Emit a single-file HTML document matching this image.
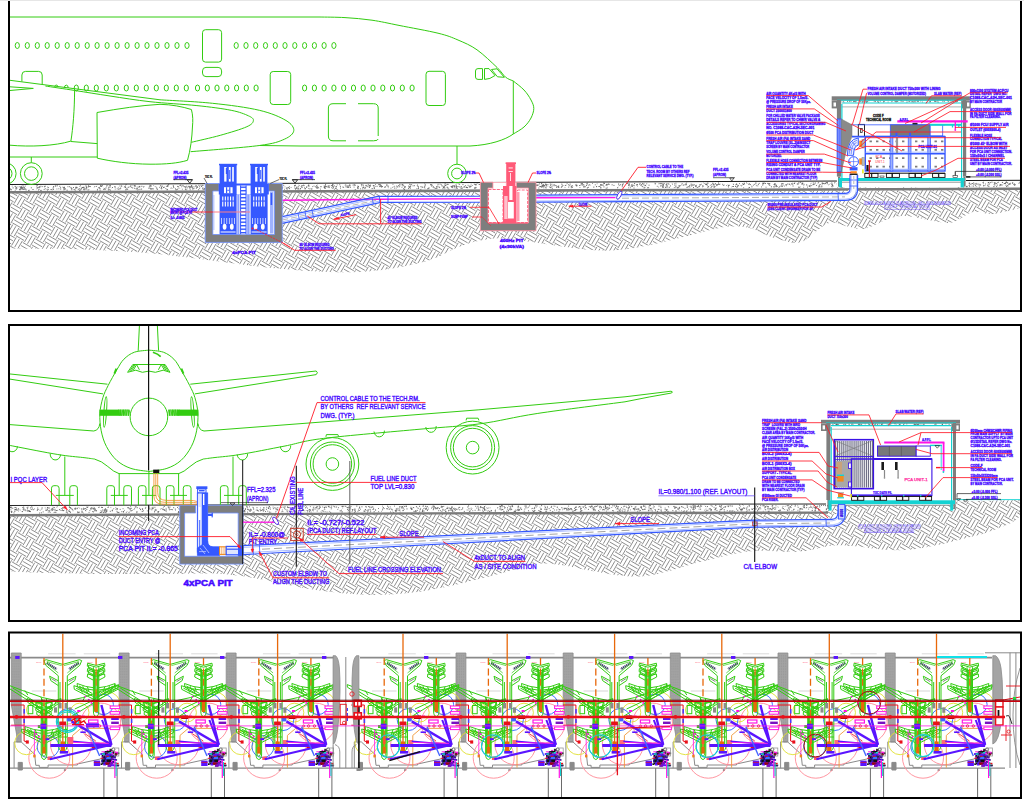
<!DOCTYPE html><html><head><meta charset="utf-8"><title>PCA &amp; 400Hz pit sections</title><style>html,body{margin:0;padding:0;background:#fff;overflow:hidden}svg text{white-space:pre}</style></head><body><svg width="1024" height="801" viewBox="0 0 1024 801" font-family="Liberation Sans, sans-serif" style="display:block"><defs><g id="mod"><line x1="-14.7" y1="653.8" x2="12.8" y2="653.8" stroke="#d6d6d6" stroke-width="0.9" /><line x1="21.0" y1="653.8" x2="47.4" y2="653.8" stroke="#d6d6d6" stroke-width="0.9" /><line x1="-31.0" y1="691.0" x2="-6.5" y2="691.0" stroke="#d0d0d0" stroke-width="0.9" /><circle cx="-13.5" cy="757.7" r="20.5" fill="none" stroke="#ff8a96" stroke-width="0.9" /><circle cx="8.2" cy="744.2" r="20.5" fill="none" stroke="#ff8a96" stroke-width="0.9" /><circle cx="38.0" cy="723.0" r="19.9" fill="none" stroke="#ff8a96" stroke-width="0.9" /><circle cx="-36.4" cy="743.0" r="11.7" fill="none" stroke="#e0e030" stroke-width="0.9" /><circle cx="-28.8" cy="710.0" r="7.5" fill="none" stroke="#e0e030" stroke-width="0.9" /><circle cx="16.8" cy="712.6" r="9.4" fill="none" stroke="#e0e030" stroke-width="0.9" /><circle cx="45.1" cy="704.4" r="12.3" fill="none" stroke="#e0e030" stroke-width="0.9" /><circle cx="5.2" cy="719.6" r="11.0" fill="none" stroke="#3d74ff" stroke-width="1.0" /><circle cx="-14.7" cy="746.6" r="11.0" fill="none" stroke="#3d74ff" stroke-width="1.0" /><circle cx="40.4" cy="704.4" r="10.2" fill="none" stroke="#3d74ff" stroke-width="1.0" /><path d="M0,664.4 L-16.6,659.7 L-18.9,660.6 L-17,665.3 L-4.5,675.8 L-4.5,700 M-13.2,676.2 L-12,680.6 L-4.5,685.6 M-13.2,676.2 L-4.5,680.8 M-2.8,682 V700 " fill="none" stroke="#33cc11" stroke-width="1.0" /><g transform="scale(-1,1)"><path d="M0,664.4 L-16.6,659.7 L-18.9,660.6 L-17,665.3 L-4.5,675.8 L-4.5,700 M-13.2,676.2 L-12,680.6 L-4.5,685.6 M-13.2,676.2 L-4.5,680.8 M-2.8,682 V700 " fill="none" stroke="#33cc11" stroke-width="1.0" /></g><path d="M-16,663 L-6.2,669.2" fill="none" stroke="#3a3f63" stroke-width="2.4" stroke-dasharray="1.3 0.6"/><g transform="scale(-1,1)"><path d="M-16,663 L-6.2,669.2" fill="none" stroke="#3a3f63" stroke-width="2.4" stroke-dasharray="1.3 0.6"/></g><path d="M-1.2,665.6 L-15.8,661.6 L-14.6,664.8 L-4.5,673" fill="none" stroke="#33cc11" stroke-width="0.7" /><g transform="scale(-1,1)"><path d="M-1.2,665.6 L-15.8,661.6 L-14.6,664.8 L-4.5,673" fill="none" stroke="#33cc11" stroke-width="0.7" /></g><path d="M-11.5,678.6 L-6.4,681.6" fill="none" stroke="#888" stroke-width="1.0" /><g transform="scale(-1,1)"><path d="M-11.5,678.6 L-6.4,681.6" fill="none" stroke="#888" stroke-width="1.0" /></g><path d="M-4.5,719 L-26,706 L-55.6,687.2 L-55.8,684.6 L-40,690.6 L-20,697.6 L-4.5,701 M-50,688 L-28,701.5 L-12,709 M-38,690.4 L-35,695 M-22,697 L-19.6,701.6" fill="none" stroke="#33cc11" stroke-width="1.0" /><g transform="scale(-1,1)"><path d="M-4.5,719 L-26,706 L-55.6,687.2 L-55.8,684.6 L-40,690.6 L-20,697.6 L-4.5,701 M-50,688 L-28,701.5 L-12,709 M-38,690.4 L-35,695 M-22,697 L-19.6,701.6" fill="none" stroke="#33cc11" stroke-width="1.0" /></g><path d="M-4.5,700 V744 Q-4.4,751 0,751.6 Q4.4,751 4.5,744 V700 M-2.8,722 V745 M2.8,722 V745 M-4.5,737 H4.5" fill="none" stroke="#33cc11" stroke-width="1.0" /><g transform="translate(33.3,0)"><path d="M0,665.4 L-8.5,663.2 L-8.8,666.2 L-2.7,669.4 M0,670.8 L-8.5,668.6 L-8.8,671.6 L-2.7,674.8 M0,676.2 L-8.5,674.0 L-8.8,677.0 L-2.7,680.2 " fill="none" stroke="#33cc11" stroke-width="1.0" /><g transform="scale(-1,1)"><path d="M0,665.4 L-8.5,663.2 L-8.8,666.2 L-2.7,669.4 M0,670.8 L-8.5,668.6 L-8.8,671.6 L-2.7,674.8 M0,676.2 L-8.5,674.0 L-8.8,677.0 L-2.7,680.2 " fill="none" stroke="#33cc11" stroke-width="1.0" /></g><path d="M-2.7,667.2 V711 Q-2.7,716 0,716.5 Q2.7,716 2.7,711 V667.2 M-1.5000000000000002,671.2 V710 M1.5000000000000002,671.2 V710" fill="none" stroke="#33cc11" stroke-width="1.0" /><path d="M-2.7,699.2 L-21.8,689.3 L-22.2,685.7 L-12.2,688.6 L-2.7,690.0 M-20.0,688.2 L-4.7,695.6 M-15.5,688.4 L-13.8,692.6 M-10.0,689.2 L-8.4,693.6" fill="none" stroke="#33cc11" stroke-width="1.0" /><g transform="scale(-1,1)"><path d="M-2.7,699.2 L-21.8,689.3 L-22.2,685.7 L-12.2,688.6 L-2.7,690.0 M-20.0,688.2 L-4.7,695.6 M-15.5,688.4 L-13.8,692.6 M-10.0,689.2 L-8.4,693.6" fill="none" stroke="#33cc11" stroke-width="1.0" /></g></g><g transform="translate(33.3,0)"><path d="M0,667.2 L-7.4,665.0 L-7.7,668.0 L-2.0,671.2 M0,672.6 L-7.4,670.4 L-7.7,673.4 L-2.0,676.6 " fill="none" stroke="#33cc11" stroke-width="1.0" /><g transform="scale(-1,1)"><path d="M0,667.2 L-7.4,665.0 L-7.7,668.0 L-2.0,671.2 M0,672.6 L-7.4,670.4 L-7.7,673.4 L-2.0,676.6 " fill="none" stroke="#33cc11" stroke-width="1.0" /></g><path d="M-2.0,669 V707 Q-2.0,712 0,712.5 Q2.0,712 2.0,707 V669 M-0.8,673 V706 M0.8,673 V706" fill="none" stroke="#33cc11" stroke-width="1.0" /><path d="M-2.0,697 L-18.6,687.1 L-19.0,683.5 L-10.5,686.4 L-2.0,687.8 M-17.1,686.0 L-4.0,693.4 M-13.3,686.2 L-11.8,690.4 M-8.6,687.0 L-7.2,691.4" fill="none" stroke="#33cc11" stroke-width="1.0" /><g transform="scale(-1,1)"><path d="M-2.0,697 L-18.6,687.1 L-19.0,683.5 L-10.5,686.4 L-2.0,687.8 M-17.1,686.0 L-4.0,693.4 M-13.3,686.2 L-11.8,690.4 M-8.6,687.0 L-7.2,691.4" fill="none" stroke="#33cc11" stroke-width="1.0" /></g></g><g transform="translate(-18.8,0)"><path d="" fill="none" stroke="#33cc11" stroke-width="1.0" /><g transform="scale(-1,1)"><path d="" fill="none" stroke="#33cc11" stroke-width="1.0" /></g><path d="M-2.4,698 V717 Q-2.4,722 0,722.5 Q2.4,722 2.4,717 V698 M-1.2,702 V716 M1.2,702 V716" fill="none" stroke="#33cc11" stroke-width="1.0" /><path d="M-2.4,712 L-16.6,702.1 L-17.0,698.5 L-9.4,701.4 L-2.4,702.8 M-15.3,701.0 L-4.4,708.4 M-11.9,701.2 L-10.5,705.4 M-7.7,702.0 L-6.5,706.4" fill="none" stroke="#33cc11" stroke-width="1.0" /><g transform="scale(-1,1)"><path d="M-2.4,712 L-16.6,702.1 L-17.0,698.5 L-9.4,701.4 L-2.4,702.8 M-15.3,701.0 L-4.4,708.4 M-11.9,701.2 L-10.5,705.4 M-7.7,702.0 L-6.5,706.4" fill="none" stroke="#33cc11" stroke-width="1.0" /></g></g><g transform="translate(-18.8,0)"><path d="M0,708.2 L-7.0,706.0 L-7.3,709.0 L-2.0,712.2 M0,713.6 L-7.0,711.4 L-7.3,714.4 L-2.0,717.6 " fill="none" stroke="#33cc11" stroke-width="1.0" /><g transform="scale(-1,1)"><path d="M0,708.2 L-7.0,706.0 L-7.3,709.0 L-2.0,712.2 M0,713.6 L-7.0,711.4 L-7.3,714.4 L-2.0,717.6 " fill="none" stroke="#33cc11" stroke-width="1.0" /></g><path d="M-2.0,710 V751 Q-2.0,756 0,756.5 Q2.0,756 2.0,751 V710 M-0.8,714 V750 M0.8,714 V750" fill="none" stroke="#33cc11" stroke-width="1.0" /><path d="M-2.0,740 L-18.6,730.1 L-19.0,726.5 L-10.5,729.4 L-2.0,730.8 M-17.1,729.0 L-4.0,736.4 M-13.3,729.2 L-11.8,733.4 M-8.6,730.0 L-7.2,734.4" fill="none" stroke="#33cc11" stroke-width="1.0" /><g transform="scale(-1,1)"><path d="M-2.0,740 L-18.6,730.1 L-19.0,726.5 L-10.5,729.4 L-2.0,730.8 M-17.1,729.0 L-4.0,736.4 M-13.3,729.2 L-11.8,733.4 M-8.6,730.0 L-7.2,734.4" fill="none" stroke="#33cc11" stroke-width="1.0" /></g></g><g transform="translate(-18.8,0)"><path d="M0,704.2 L-8.0,702.0 L-8.3,705.0 L-2.8,708.2 M0,709.6 L-8.0,707.4 L-8.3,710.4 L-2.8,713.6 " fill="none" stroke="#33cc11" stroke-width="1.0" /><g transform="scale(-1,1)"><path d="M0,704.2 L-8.0,702.0 L-8.3,705.0 L-2.8,708.2 M0,709.6 L-8.0,707.4 L-8.3,710.4 L-2.8,713.6 " fill="none" stroke="#33cc11" stroke-width="1.0" /></g><path d="M-2.8,706 V754 Q-2.8,759 0,759.5 Q2.8,759 2.8,754 V706 M-1.5999999999999999,710 V753 M1.5999999999999999,710 V753" fill="none" stroke="#33cc11" stroke-width="1.0" /><path d="M-2.8,742.5 L-22.1,732.6 L-22.5,729.0 L-12.4,731.9 L-2.8,733.3 M-20.2,731.5 L-4.8,738.9 M-15.7,731.7 L-13.9,735.9 M-10.1,732.5 L-8.6,736.9" fill="none" stroke="#33cc11" stroke-width="1.0" /><g transform="scale(-1,1)"><path d="M-2.8,742.5 L-22.1,732.6 L-22.5,729.0 L-12.4,731.9 L-2.8,733.3 M-20.2,731.5 L-4.8,738.9 M-15.7,731.7 L-13.9,735.9 M-10.1,732.5 L-8.6,736.9" fill="none" stroke="#33cc11" stroke-width="1.0" /></g></g><rect x="-34.6" y="705.5" width="4.6" height="8.2" fill="none" stroke="#33cc11" stroke-width="1.0" /><rect x="-25.0" y="725.0" width="2.8" height="3.0" fill="#33cc11" stroke="none" stroke-width="1" /><rect x="-8.8" y="707.3" width="3.0" height="5.3" fill="#8c8c8c" stroke="none" stroke-width="1" /><rect x="-4.2" y="703.0" width="3.0" height="5.4" fill="#8c8c8c" stroke="none" stroke-width="1" /><rect x="1.8" y="703.0" width="3.0" height="5.4" fill="#8c8c8c" stroke="none" stroke-width="1" /><rect x="5.8" y="707.3" width="3.0" height="5.5" fill="#8c8c8c" stroke="none" stroke-width="1" /><line x1="0.0" y1="633.5" x2="0.0" y2="743.0" stroke="#e8680a" stroke-width="1.3" /><rect x="-2.2" y="741.5" width="4.4" height="9.5" fill="#e8680a" stroke="none" stroke-width="1" /><line x1="-18.8" y1="658.0" x2="-18.8" y2="748.0" stroke="#e8680a" stroke-width="1.3" stroke-dasharray="7 3.4"/><rect x="-20.4" y="747.0" width="3.2" height="6.6" fill="#e8680a" stroke="none" stroke-width="1" /><line x1="33.3" y1="658.0" x2="33.3" y2="700.0" stroke="#e8680a" stroke-width="1.3" stroke-dasharray="7 3.4"/><rect x="31.6" y="700.0" width="3.4" height="12.0" fill="#e8680a" stroke="none" stroke-width="1" /><path d="M9.8,767.7 L9.8,735.4 L18.1,728.4 L47.4,728.4" fill="none" stroke="#f0983a" stroke-width="0.9" /><path d="M-51.7,705.0 L-38.7,705.0 L-38.7,741.0 L-35.6,742.0" fill="none" stroke="#e8101a" stroke-width="1.0" /><rect x="-37.0" y="740.4" width="3.0" height="3.2" fill="#e8101a" stroke="none" stroke-width="1" /><line x1="-51.7" y1="725.2" x2="-38.7" y2="725.2" stroke="#e8101a" stroke-width="0.9" /><circle cx="-46.3" cy="716.8" r="1.9" fill="#e8101a" stroke="#e8101a" stroke-width="0" /><rect x="-39.4" y="709.0" width="1.6" height="4.6" fill="#4a3cff" stroke="none" stroke-width="1" /><rect x="-39.4" y="719.0" width="1.6" height="4.0" fill="#4a3cff" stroke="none" stroke-width="1" /><line x1="-28.4" y1="729.6" x2="-28.4" y2="756.0" stroke="#ff14e6" stroke-width="0.8" /><rect x="-29.6" y="754.6" width="2.4" height="2.8" fill="#f08020" stroke="none" stroke-width="1" /><rect x="-17.4" y="738.2" width="4.0" height="2.0" fill="#5a14ff" stroke="none" stroke-width="1" /><rect x="17.6" y="731.4" width="5.4" height="1.6" fill="#5a14ff" stroke="none" stroke-width="1" /><line x1="22.0" y1="733.6" x2="33.0" y2="741.0" stroke="#e8101a" stroke-width="0.8" /><rect x="29.0" y="747.0" width="6.0" height="1.6" fill="#e8101a" stroke="none" stroke-width="1" /><rect x="-15.3" y="756.5" width="4.7" height="3.5" fill="#ff5a6a" stroke="none" stroke-width="1" /><rect x="5.2" y="740.0" width="4.6" height="4.0" fill="#ff6a7a" stroke="none" stroke-width="1" /><circle cx="31.0" cy="726.0" r="1.2" fill="none" stroke="#e8101a" stroke-width="0.8" /><circle cx="36.8" cy="726.0" r="1.2" fill="none" stroke="#e8101a" stroke-width="0.8" /><circle cx="26.0" cy="726.0" r="1.0" fill="none" stroke="#e8101a" stroke-width="0.8" /><rect x="-3.4" y="721.5" width="6.6" height="3.5" fill="#e8101a" stroke="none" stroke-width="1" /><rect x="11.0" y="715.4" width="7.0" height="3.6" fill="#b00008" stroke="none" stroke-width="1" /><rect x="-20.2" y="735.0" width="2.8" height="9.0" fill="#ff5030" stroke="none" stroke-width="1" /><rect x="-22.3" y="723.7" width="5.8" height="5.3" fill="#5a14ff" stroke="none" stroke-width="1" /><rect x="4.0" y="717.9" width="4.8" height="3.5" fill="#4466ff" stroke="none" stroke-width="1" /><line x1="48.6" y1="745.4" x2="-12.4" y2="745.4" stroke="#5a14ff" stroke-width="3.0" /><line x1="48.6" y1="744.8" x2="-12.9" y2="759.2" stroke="#5a14ff" stroke-width="2.2" /><line x1="48.6" y1="744.8" x2="8.8" y2="721.4" stroke="#5a14ff" stroke-width="2.4" /><line x1="48.6" y1="744.8" x2="38.6" y2="705.0" stroke="#5a14ff" stroke-width="2.4" /><line x1="48.6" y1="744.8" x2="39.2" y2="720.0" stroke="#5a14ff" stroke-width="2.0" /><line x1="48.6" y1="744.8" x2="8.8" y2="741.3" stroke="#5a14ff" stroke-width="1.6" /><line x1="10.0" y1="742.4" x2="46.0" y2="743.4" stroke="#ff14e6" stroke-width="0.9" /><line x1="24.0" y1="726.6" x2="36.8" y2="756.0" stroke="#4466ff" stroke-width="1.4" /><rect x="47.4" y="706.0" width="9.4" height="2.6" fill="#fff" stroke="#ff14e6" stroke-width="1.0" /><rect x="47.4" y="711.6" width="9.4" height="2.6" fill="#fff" stroke="#ff14e6" stroke-width="1.0" /><rect x="47.4" y="727.0" width="9.4" height="2.6" fill="#fff" stroke="#ff14e6" stroke-width="1.0" /><rect x="48.4" y="717.4" width="7.6" height="2.6" fill="#5a14ff" stroke="none" stroke-width="1" /><rect x="48.4" y="721.6" width="7.6" height="2.4" fill="#7a10c0" stroke="none" stroke-width="1" /><rect x="25.8" y="720.0" width="9.3" height="3.0" fill="#fff" stroke="#ff14e6" stroke-width="1.2" /><rect x="18.6" y="715.5" width="3.4" height="2.0" fill="#ff14e6" stroke="none" stroke-width="1" /><rect x="14.4" y="710.0" width="3.1" height="2.0" fill="#ff14e6" stroke="none" stroke-width="1" /><circle cx="22.4" cy="696.6" r="0.9" fill="#ff14e6" stroke="#ff14e6" stroke-width="0" /><circle cx="26.0" cy="699.6" r="0.9" fill="#ff14e6" stroke="#ff14e6" stroke-width="0" /><circle cx="28.6" cy="703.0" r="0.9" fill="#ff14e6" stroke="#ff14e6" stroke-width="0" /><circle cx="-26.6" cy="734.0" r="0.9" fill="#ff14e6" stroke="#ff14e6" stroke-width="0" /><circle cx="-24.0" cy="737.0" r="0.9" fill="#ff14e6" stroke="#ff14e6" stroke-width="0" /><rect x="-3.0" y="751.0" width="8.2" height="2.6" fill="#5a14ff" stroke="none" stroke-width="1" /><rect x="31.0" y="760.6" width="6.4" height="5.4" fill="#5a14ff" stroke="none" stroke-width="1" /><line x1="31.0" y1="762.4" x2="37.4" y2="762.4" stroke="#e8101a" stroke-width="0.7" /><rect x="42.3" y="751.2" width="3.5" height="1.1" fill="#111" stroke="none" stroke-width="1" /><rect x="38.8" y="758.2" width="4.3" height="1.4" fill="#5a14ff" stroke="none" stroke-width="1" /><rect x="44.0" y="749.9" width="1.7" height="1.8" fill="#ff14e6" stroke="none" stroke-width="1" /><rect x="46.0" y="764.1" width="3.4" height="2.2" fill="#5a14ff" stroke="none" stroke-width="1" /><rect x="46.2" y="755.2" width="4.5" height="1.1" fill="#ff14e6" stroke="none" stroke-width="1" /><rect x="39.4" y="755.6" width="3.1" height="2.1" fill="#111" stroke="none" stroke-width="1" /><rect x="49.8" y="751.7" width="3.3" height="2.3" fill="#e8101a" stroke="none" stroke-width="1" /><rect x="38.9" y="760.3" width="3.2" height="2.2" fill="#111" stroke="none" stroke-width="1" /><rect x="47.7" y="755.7" width="2.4" height="2.2" fill="#111" stroke="none" stroke-width="1" /><rect x="42.9" y="752.8" width="2.0" height="2.6" fill="#5a14ff" stroke="none" stroke-width="1" /><rect x="46.1" y="757.3" width="4.2" height="2.5" fill="#40108a" stroke="none" stroke-width="1" /><rect x="46.7" y="750.0" width="3.0" height="1.3" fill="#e8101a" stroke="none" stroke-width="1" /><rect x="39.7" y="756.7" width="1.5" height="2.3" fill="#14d2d2" stroke="none" stroke-width="1" /><rect x="45.9" y="761.6" width="4.0" height="1.7" fill="#e8101a" stroke="none" stroke-width="1" /><rect x="46.4" y="758.2" width="2.9" height="2.7" fill="#40108a" stroke="none" stroke-width="1" /><rect x="44.6" y="759.6" width="1.6" height="2.4" fill="#333" stroke="none" stroke-width="1" /><rect x="46.2" y="759.8" width="2.8" height="2.4" fill="#7a10c0" stroke="none" stroke-width="1" /><rect x="47.6" y="749.2" width="2.9" height="1.3" fill="#5a14ff" stroke="none" stroke-width="1" /><rect x="44.9" y="752.3" width="2.3" height="2.5" fill="#a00010" stroke="none" stroke-width="1" /><rect x="43.3" y="762.9" width="1.7" height="1.9" fill="#111" stroke="none" stroke-width="1" /><rect x="41.6" y="751.0" width="2.8" height="2.1" fill="#3d74ff" stroke="none" stroke-width="1" /><rect x="43.7" y="754.6" width="4.2" height="2.9" fill="#2a0a90" stroke="none" stroke-width="1" /><rect x="38.7" y="751.3" width="3.5" height="1.0" fill="#ff14e6" stroke="none" stroke-width="1" /><rect x="46.4" y="753.1" width="1.4" height="1.8" fill="#e8101a" stroke="none" stroke-width="1" /><rect x="46.7" y="754.0" width="1.8" height="2.7" fill="#111" stroke="none" stroke-width="1" /><rect x="47.4" y="760.8" width="2.9" height="2.7" fill="#ff14e6" stroke="none" stroke-width="1" /><rect x="47.7" y="757.9" width="2.7" height="1.8" fill="#111" stroke="none" stroke-width="1" /><rect x="47.0" y="749.8" width="1.6" height="1.4" fill="#2a0a90" stroke="none" stroke-width="1" /><rect x="39.1" y="758.5" width="1.7" height="2.1" fill="#111" stroke="none" stroke-width="1" /><rect x="38.9" y="754.7" width="1.5" height="2.7" fill="#111" stroke="none" stroke-width="1" /><rect x="43.1" y="759.1" width="4.5" height="2.2" fill="#111" stroke="none" stroke-width="1" /><rect x="39.3" y="762.6" width="4.6" height="1.9" fill="#111" stroke="none" stroke-width="1" /><rect x="42.1" y="751.1" width="3.8" height="2.5" fill="#111" stroke="none" stroke-width="1" /><rect x="50.0" y="751.4" width="1.5" height="2.9" fill="#111" stroke="none" stroke-width="1" /><rect x="42.9" y="760.0" width="4.3" height="2.5" fill="#40108a" stroke="none" stroke-width="1" /><rect x="52.3" y="762.8" width="3.6" height="1.5" fill="#e8101a" stroke="none" stroke-width="1" /><rect x="51.2" y="754.6" width="2.1" height="2.1" fill="#111" stroke="none" stroke-width="1" /><rect x="42.4" y="752.4" width="4.0" height="3.0" fill="#ff14e6" stroke="none" stroke-width="1" /><rect x="40.4" y="752.7" width="2.7" height="2.6" fill="#2a0a90" stroke="none" stroke-width="1" /><rect x="45.3" y="754.6" width="1.5" height="1.1" fill="#40108a" stroke="none" stroke-width="1" /><rect x="44.6" y="751.9" width="3.3" height="1.7" fill="#14d2d2" stroke="none" stroke-width="1" /><rect x="51.6" y="764.8" width="4.5" height="1.7" fill="#2a0a90" stroke="none" stroke-width="1" /><rect x="39.0" y="756.4" width="2.5" height="2.0" fill="#7a10c0" stroke="none" stroke-width="1" /><rect x="46.7" y="748.8" width="4.3" height="1.7" fill="#333" stroke="none" stroke-width="1" /><rect x="38.7" y="759.5" width="4.3" height="2.6" fill="#14d2d2" stroke="none" stroke-width="1" /><rect x="40.4" y="763.2" width="2.8" height="2.3" fill="#5a14ff" stroke="none" stroke-width="1" /><rect x="49.6" y="764.5" width="2.7" height="1.8" fill="#5a14ff" stroke="none" stroke-width="1" /><rect x="48.4" y="751.6" width="1.8" height="1.3" fill="#7a10c0" stroke="none" stroke-width="1" /><rect x="44.5" y="759.4" width="3.4" height="2.2" fill="#111" stroke="none" stroke-width="1" /><rect x="47.4" y="754.5" width="3.2" height="1.3" fill="#5a14ff" stroke="none" stroke-width="1" /><rect x="49.6" y="760.6" width="1.7" height="2.5" fill="#2a0a90" stroke="none" stroke-width="1" /><rect x="44.0" y="762.9" width="4.0" height="1.4" fill="#40108a" stroke="none" stroke-width="1" /><rect x="40.6" y="756.9" width="3.8" height="1.7" fill="#111" stroke="none" stroke-width="1" /><rect x="43.8" y="750.9" width="4.3" height="1.7" fill="#111" stroke="none" stroke-width="1" /><rect x="47.5" y="762.0" width="3.1" height="2.7" fill="#7a10c0" stroke="none" stroke-width="1" /><rect x="45.0" y="757.4" width="3.1" height="1.0" fill="#111" stroke="none" stroke-width="1" /><rect x="49.2" y="758.7" width="3.9" height="1.3" fill="#2a0a90" stroke="none" stroke-width="1" /><rect x="44.6" y="760.5" width="3.2" height="1.7" fill="#111" stroke="none" stroke-width="1" /><rect x="45.5" y="756.6" width="3.9" height="2.8" fill="#5a14ff" stroke="none" stroke-width="1" /><rect x="41.2" y="753.3" width="3.9" height="2.0" fill="#111" stroke="none" stroke-width="1" /><rect x="37.8" y="763.3" width="1.6" height="1.7" fill="#111" stroke="none" stroke-width="1" /><rect x="46.6" y="752.0" width="2.3" height="2.0" fill="#14d2d2" stroke="none" stroke-width="1" /><rect x="44.7" y="764.1" width="3.6" height="2.8" fill="#7a10c0" stroke="none" stroke-width="1" /><rect x="41.3" y="757.9" width="4.4" height="2.7" fill="#2a0a90" stroke="none" stroke-width="1" /><rect x="43.7" y="755.2" width="2.4" height="2.3" fill="#a00010" stroke="none" stroke-width="1" /><rect x="38.5" y="759.6" width="3.9" height="2.8" fill="#2a0a90" stroke="none" stroke-width="1" /><rect x="51.7" y="759.2" width="2.6" height="1.5" fill="#2a0a90" stroke="none" stroke-width="1" /><rect x="52.1" y="752.4" width="4.4" height="1.8" fill="#111" stroke="none" stroke-width="1" /><rect x="39.9" y="759.6" width="2.1" height="2.4" fill="#111" stroke="none" stroke-width="1" /><rect x="43.5" y="755.6" width="2.5" height="1.2" fill="#e8101a" stroke="none" stroke-width="1" /><rect x="37.7" y="757.8" width="2.8" height="1.0" fill="#e8101a" stroke="none" stroke-width="1" /><rect x="45.3" y="753.6" width="4.5" height="1.2" fill="#7a10c0" stroke="none" stroke-width="1" /><rect x="49.4" y="764.5" width="1.7" height="1.5" fill="#5a14ff" stroke="none" stroke-width="1" /><rect x="51.2" y="751.7" width="3.8" height="2.6" fill="#ff14e6" stroke="none" stroke-width="1" /><rect x="51.3" y="762.1" width="2.2" height="1.3" fill="#7a10c0" stroke="none" stroke-width="1" /><rect x="45.2" y="756.8" width="2.4" height="1.6" fill="#14d2d2" stroke="none" stroke-width="1" /><rect x="47.9" y="755.7" width="1.6" height="2.9" fill="#333" stroke="none" stroke-width="1" /><rect x="38.7" y="753.0" width="3.3" height="1.4" fill="#40108a" stroke="none" stroke-width="1" /><rect x="50.5" y="756.2" width="2.5" height="2.1" fill="#7a10c0" stroke="none" stroke-width="1" /><rect x="51.3" y="758.9" width="1.5" height="2.4" fill="#5a14ff" stroke="none" stroke-width="1" /><rect x="52.1" y="753.0" width="2.0" height="2.9" fill="#333" stroke="none" stroke-width="1" /><rect x="42.0" y="761.1" width="2.3" height="2.0" fill="#2a0a90" stroke="none" stroke-width="1" /><rect x="41.5" y="761.8" width="4.6" height="1.1" fill="#5a14ff" stroke="none" stroke-width="1" /><rect x="48.5" y="757.7" width="2.0" height="1.9" fill="#7a10c0" stroke="none" stroke-width="1" /><rect x="44.2" y="759.5" width="3.5" height="2.3" fill="#111" stroke="none" stroke-width="1" /><rect x="50.1" y="755.2" width="3.0" height="2.4" fill="#2a0a90" stroke="none" stroke-width="1" /><rect x="42.6" y="762.3" width="3.7" height="2.3" fill="#a00010" stroke="none" stroke-width="1" /><rect x="52.4" y="764.7" width="4.1" height="1.0" fill="#333" stroke="none" stroke-width="1" /><rect x="48.7" y="752.9" width="1.9" height="1.2" fill="#ff14e6" stroke="none" stroke-width="1" /><rect x="43.2" y="757.0" width="4.5" height="2.2" fill="#3d74ff" stroke="none" stroke-width="1" /><rect x="41.9" y="756.2" width="1.9" height="1.9" fill="#40108a" stroke="none" stroke-width="1" /><rect x="42.9" y="754.1" width="4.6" height="1.6" fill="#5a14ff" stroke="none" stroke-width="1" /><rect x="52.1" y="753.8" width="2.5" height="1.0" fill="#a00010" stroke="none" stroke-width="1" /><rect x="38.7" y="753.3" width="3.5" height="1.5" fill="#14d2d2" stroke="none" stroke-width="1" /><rect x="37.5" y="753.1" width="1.7" height="1.8" fill="#5a14ff" stroke="none" stroke-width="1" /><circle cx="50.6" cy="749.4" r="1.5" fill="#fff" stroke="#444" stroke-width="0.8" /><rect x="51.6" y="748.0" width="4.4" height="8.0" fill="none" stroke="#999" stroke-width="0.8" /><line x1="52.1" y1="760.0" x2="52.1" y2="778.0" stroke="#ff14e6" stroke-width="1.2" /><line x1="53.3" y1="762.0" x2="53.3" y2="776.0" stroke="#14d2d2" stroke-width="1.0" /></g><g id="mout"><path d="M-48.7,741.9 H-41.7 L-28.2,754.2 L-27,765.3 H-23.5 V767.4 H-14.7 V765 H14.6 V764 L38,758.9 M-48.7,741.9 V768.2 M-44.6,762.4 h4.1 v7.6 h-4.1z" fill="none" stroke="#8a8a8a" stroke-width="1.0" /><rect x="-44.6" y="762.4" width="4.1" height="7.6" fill="#8a8a8a" stroke="none" stroke-width="1" /><rect x="1.1" y="769.2" width="2.1" height="1.8" fill="#8a8a8a" stroke="none" stroke-width="1" /><line x1="41.1" y1="768.2" x2="41.1" y2="797.0" stroke="#6a6a6a" stroke-width="1.0" /><line x1="54.3" y1="768.2" x2="54.3" y2="797.0" stroke="#6a6a6a" stroke-width="1.0" /></g></defs><rect width="1024" height="801" fill="#fff"/><g id="panel1"><clipPath id="c1"><path d="M10,192 L1020,190 L1020.0,208.0 C1015.5,209.0 1000.8,213.3 993.0,214.0 C985.2,214.7 979.8,210.6 973.0,212.0 C966.2,213.4 959.0,221.1 952.0,222.5 C945.0,223.9 938.7,221.5 931.0,220.4 C923.3,219.3 912.8,216.3 906.0,216.0 C899.2,215.7 896.8,216.2 890.0,218.3 C883.2,220.4 872.0,227.3 865.0,228.7 C858.0,230.1 853.5,227.6 848.0,226.6 C842.5,225.6 836.8,222.2 832.0,222.5 C827.2,222.8 823.7,225.9 819.5,228.7 C815.3,231.4 811.1,236.6 807.0,239.0 C802.9,241.4 799.8,243.0 795.0,243.0 C790.2,243.0 782.8,240.3 778.0,239.0 C773.2,237.7 770.8,236.8 766.0,234.9 C761.2,233.0 754.5,229.2 749.0,227.8 C743.5,226.4 738.2,226.4 733.0,226.5 C727.8,226.6 725.3,226.7 718.0,228.2 C710.7,229.7 698.7,233.1 689.0,235.5 C679.3,237.9 669.8,240.6 660.0,242.8 C650.2,245.0 639.3,247.4 630.0,248.7 C620.7,250.0 611.3,250.5 604.0,250.7 C596.7,250.8 593.8,250.4 586.0,249.6 C578.2,248.8 566.7,247.2 557.0,245.8 C547.3,244.4 537.5,242.6 528.0,241.4 C518.5,240.2 507.3,238.6 500.0,238.4 C492.7,238.2 489.0,239.2 484.0,240.0 C479.0,240.8 474.8,241.6 470.0,243.0 C465.2,244.4 460.0,246.3 455.0,248.5 C450.0,250.7 444.7,253.9 440.0,256.0 C435.3,258.1 432.8,259.3 426.8,261.0 C420.9,262.7 411.8,264.8 404.3,266.3 C396.8,267.8 391.0,269.0 382.0,270.0 C373.0,271.0 361.6,272.0 350.4,272.2 C339.1,272.4 328.0,272.1 314.5,271.3 C301.0,270.6 284.5,269.2 269.5,267.7 C254.5,266.2 239.5,264.2 224.6,262.3 C209.7,260.4 194.9,258.1 180.0,256.4 C165.1,254.7 150.0,253.1 135.0,252.0 C120.0,250.9 105.0,250.2 90.0,249.7 C75.0,249.2 58.3,249.0 45.0,248.8 C31.7,248.6 15.8,248.5 10.0,248.4 Z"/></clipPath><g clip-path="url(#c1)"><g transform="rotate(30)" fill="none" stroke="#828282" stroke-width="0.82" stroke-dasharray="9.40 9.40"><path d="M958.8,-337.2h38M940.0,-333.7h56M940.0,-330.2h56M921.2,-318.4h75M921.2,-314.9h75M902.4,-311.4h113M883.6,-299.6h132M883.6,-296.1h132M883.6,-292.6h132M846.0,-280.8h188M846.0,-277.3h188M846.0,-273.8h188M827.2,-262.0h188M808.4,-258.5h207M808.4,-255.0h188M789.6,-243.2h188M789.6,-239.7h188M770.8,-236.2h207M752.0,-224.4h188M752.0,-220.9h188M752.0,-217.4h188M733.2,-205.6h188M714.4,-202.1h188M714.4,-198.6h188M695.6,-186.8h188M676.8,-183.3h207M676.8,-179.8h188M658.0,-168.0h188M658.0,-164.5h188M639.2,-161.0h207M620.4,-149.2h207M620.4,-145.7h188M620.4,-142.2h188M601.6,-130.4h188M582.8,-126.9h188M582.8,-123.4h188M564.0,-111.6h188M564.0,-108.1h188M545.2,-104.6h188M526.4,-92.8h188M526.4,-89.3h188M526.4,-85.8h188M488.8,-74.0h207M488.8,-70.5h188M488.8,-67.0h188M470.0,-55.2h188M451.2,-51.7h207M451.2,-48.2h188M432.4,-36.4h188M432.4,-32.9h188M413.6,-29.4h188M394.8,-17.6h188M394.8,-14.1h188M394.8,-10.6h188M357.2,1.2h207M357.2,4.7h188M357.2,8.2h188M338.4,20.0h188M319.6,23.5h207M319.6,27.0h188M300.8,38.8h188M300.8,42.3h188M282.0,45.8h207M263.2,57.6h188M263.2,61.1h188M263.2,64.6h188M244.4,76.4h188M225.6,79.9h188M225.6,83.4h188M206.8,95.2h188M206.8,98.7h188M188.0,102.2h188M169.2,114.0h188M169.2,117.5h188M150.4,121.0h207M131.6,132.8h207M131.6,136.3h188M131.6,139.8h188M112.8,151.6h188M94.0,155.1h188M94.0,158.6h188M94.0,170.4h169M94.0,173.9h169M112.8,177.4h132M112.8,189.2h113M112.8,192.7h113M112.8,196.2h113M131.6,208.0h75M131.6,211.5h56M131.6,215.0h56M131.6,226.8h38M131.6,230.3h38"/><path d="M958.8,-343.1h38M958.8,-339.6h38M940.0,-327.8h56M921.2,-324.3h75M921.2,-320.8h75M902.4,-309.0h113M902.4,-305.5h113M883.6,-302.0h132M864.8,-290.2h150M864.8,-286.7h150M864.8,-283.2h150M846.0,-271.4h188M827.2,-267.9h188M827.2,-264.4h188M808.4,-252.6h188M808.4,-249.1h188M789.6,-245.6h188M770.8,-233.8h188M770.8,-230.3h188M752.0,-226.8h207M733.2,-215.0h207M733.2,-211.5h188M733.2,-208.0h188M714.4,-196.2h188M695.6,-192.7h207M695.6,-189.2h188M676.8,-177.4h188M676.8,-173.9h188M658.0,-170.4h188M639.2,-158.6h188M639.2,-155.1h188M639.2,-151.6h188M601.6,-139.8h207M601.6,-136.3h188M601.6,-132.8h188M582.8,-121.0h188M564.0,-117.5h207M564.0,-114.0h188M545.2,-102.2h188M545.2,-98.7h188M526.4,-95.2h207M507.6,-83.4h188M507.6,-79.9h188M507.6,-76.4h188M488.8,-64.6h188M470.0,-61.1h188M470.0,-57.6h188M451.2,-45.8h188M451.2,-42.3h188M432.4,-38.8h188M413.6,-27.0h188M413.6,-23.5h188M394.8,-20.0h207M376.0,-8.2h207M376.0,-4.7h188M376.0,-1.2h188M357.2,10.6h188M338.4,14.1h188M338.4,17.6h188M319.6,29.4h188M319.6,32.9h188M300.8,36.4h188M282.0,48.2h188M282.0,51.7h188M282.0,55.2h188M244.4,67.0h207M244.4,70.5h188M244.4,74.0h188M225.6,85.8h188M206.8,89.3h207M206.8,92.8h188M188.0,104.6h188M188.0,108.1h188M169.2,111.6h188M150.4,123.4h188M150.4,126.9h188M150.4,130.4h188M131.6,142.2h188M112.8,145.7h188M112.8,149.2h188M94.0,161.0h188M94.0,164.5h188M94.0,168.0h169M112.8,179.8h132M112.8,183.3h132M112.8,186.8h132M112.8,198.6h94M112.8,202.1h94M112.8,205.6h94M131.6,217.4h56M131.6,220.9h38M131.6,224.4h38" stroke-dashoffset="9.40"/><path d="M114.0,150.4v38M117.5,131.6v56M121.0,131.6v75M132.8,131.6v94M136.3,131.6v94M139.8,131.6v94M151.6,112.8v132M155.1,112.8v132M158.6,112.8v132M170.4,112.8v113M173.9,112.8v113M177.4,112.8v113M189.2,94.0v132M192.7,94.0v113M196.2,94.0v113M208.0,94.0v113M211.5,94.0v113M215.0,94.0v113M226.8,75.2v113M230.3,75.2v113M233.8,75.2v113M245.6,75.2v113M249.1,56.4v132M252.6,56.4v132M264.4,56.4v113M267.9,56.4v113M271.4,56.4v113M283.2,37.6v132M286.7,37.6v132M290.2,37.6v113M302.0,37.6v113M305.5,37.6v113M309.0,37.6v113M320.8,18.8v132M324.3,18.8v113M327.8,18.8v113M339.6,18.8v113M343.1,18.8v113M346.6,0.0v132M358.4,0.0v113M361.9,0.0v113M365.4,0.0v113M377.2,0.0v113M380.7,-18.8v132M384.2,-18.8v132M396.0,-18.8v113M399.5,-18.8v113M403.0,-18.8v113M414.8,-37.6v132M418.3,-37.6v132M421.8,-37.6v113M433.6,-37.6v113M437.1,-37.6v113M440.6,-37.6v113M452.4,-56.4v113M455.9,-56.4v113M459.4,-56.4v113M471.2,-56.4v113M474.7,-56.4v113M478.2,-75.2v132M490.0,-75.2v113M493.5,-75.2v113M497.0,-75.2v113M508.8,-94.0v132M512.3,-94.0v132M515.8,-94.0v132M527.6,-94.0v113M531.1,-94.0v113M534.6,-94.0v113M546.4,-112.8v132M549.9,-112.8v132M553.4,-112.8v113M565.2,-112.8v113M568.7,-112.8v113M572.2,-112.8v113M584.0,-131.6v113M587.5,-131.6v113M591.0,-131.6v113M602.8,-131.6v113M606.3,-150.4v132M609.8,-150.4v132M621.6,-150.4v113M625.1,-150.4v113M628.6,-150.4v113M640.4,-169.2v132M643.9,-169.2v132M647.4,-169.2v132M659.2,-169.2v113M662.7,-169.2v113M666.2,-169.2v113M678.0,-188.0v132M681.5,-188.0v113M685.0,-188.0v113M696.8,-188.0v113M700.3,-188.0v113M703.8,-206.8v132M715.6,-206.8v113M719.1,-206.8v113M722.6,-206.8v113M734.4,-206.8v113M737.9,-225.6v132M741.4,-225.6v132M753.2,-225.6v113M756.7,-225.6v113M760.2,-225.6v113M772.0,-244.4v132M775.5,-244.4v132M779.0,-244.4v113M790.8,-244.4v113M794.3,-244.4v113M797.8,-244.4v113M809.6,-263.2v132M813.1,-263.2v113M816.6,-263.2v113M828.4,-263.2v113M831.9,-263.2v113M835.4,-282.0v132M847.2,-282.0v113M850.7,-282.0v113M854.2,-282.0v113M866.0,-282.0v113M869.5,-300.8v132M873.0,-300.8v132M884.8,-300.8v113M888.3,-300.8v113M891.8,-300.8v113M903.6,-319.6v132M907.1,-319.6v132M910.6,-319.6v113M922.4,-319.6v113M925.9,-319.6v113M929.4,-319.6v113M941.2,-338.4v113M944.7,-338.4v113M948.2,-338.4v113M960.0,-338.4v113M963.5,-338.4v113M967.0,-357.2v132M978.8,-357.2v113M982.3,-357.2v113M985.8,-338.4v94M997.6,-319.6v75M1001.1,-319.6v75M1004.6,-300.8v56M1016.4,-282.0v19M1019.9,-282.0v19" stroke-dashoffset="9.40"/><path d="M104.6,150.4v19M108.1,150.4v19M111.6,150.4v38M123.4,131.6v75M126.9,131.6v75M130.4,131.6v75M142.2,131.6v113M145.7,131.6v113M149.2,131.6v113M161.0,112.8v113M164.5,112.8v113M168.0,112.8v113M179.8,112.8v113M183.3,94.0v132M186.8,94.0v132M198.6,94.0v113M202.1,94.0v113M205.6,94.0v113M217.4,75.2v132M220.9,75.2v132M224.4,75.2v113M236.2,75.2v113M239.7,75.2v113M243.2,75.2v113M255.0,56.4v132M258.5,56.4v113M262.0,56.4v113M273.8,56.4v113M277.3,56.4v113M280.8,37.6v132M292.6,37.6v113M296.1,37.6v113M299.6,37.6v113M311.4,37.6v113M314.9,18.8v132M318.4,18.8v132M330.2,18.8v113M333.7,18.8v113M337.2,18.8v113M349.0,0.0v132M352.5,0.0v132M356.0,0.0v113M367.8,0.0v113M371.3,0.0v113M374.8,0.0v113M386.6,-18.8v132M390.1,-18.8v113M393.6,-18.8v113M405.4,-18.8v113M408.9,-18.8v113M412.4,-37.6v132M424.2,-37.6v113M427.7,-37.6v113M431.2,-37.6v113M443.0,-37.6v113M446.5,-56.4v132M450.0,-56.4v132M461.8,-56.4v113M465.3,-56.4v113M468.8,-56.4v113M480.6,-75.2v132M484.1,-75.2v132M487.6,-75.2v113M499.4,-75.2v113M502.9,-75.2v113M506.4,-75.2v113M518.2,-94.0v113M521.7,-94.0v113M525.2,-94.0v113M537.0,-94.0v113M540.5,-94.0v113M544.0,-112.8v132M555.8,-112.8v113M559.3,-112.8v113M562.8,-112.8v113M574.6,-131.6v132M578.1,-131.6v132M581.6,-131.6v132M593.4,-131.6v113M596.9,-131.6v113M600.4,-131.6v113M612.2,-150.4v132M615.7,-150.4v113M619.2,-150.4v113M631.0,-150.4v113M634.5,-150.4v113M638.0,-150.4v113M649.8,-169.2v113M653.3,-169.2v113M656.8,-169.2v113M668.6,-169.2v113M672.1,-188.0v132M675.6,-188.0v132M687.4,-188.0v113M690.9,-188.0v113M694.4,-188.0v113M706.2,-206.8v132M709.7,-206.8v132M713.2,-206.8v113M725.0,-206.8v113M728.5,-206.8v113M732.0,-206.8v113M743.8,-225.6v132M747.3,-225.6v113M750.8,-225.6v113M762.6,-225.6v113M766.1,-225.6v113M769.6,-244.4v132M781.4,-244.4v113M784.9,-244.4v113M788.4,-244.4v113M800.2,-244.4v113M803.7,-263.2v132M807.2,-263.2v132M819.0,-263.2v113M822.5,-263.2v113M826.0,-263.2v113M837.8,-282.0v132M841.3,-282.0v132M844.8,-282.0v113M856.6,-282.0v113M860.1,-282.0v113M863.6,-282.0v113M875.4,-300.8v132M878.9,-300.8v113M882.4,-300.8v113M894.2,-300.8v113M897.7,-300.8v113M901.2,-319.6v132M913.0,-319.6v113M916.5,-319.6v113M920.0,-319.6v113M931.8,-338.4v132M935.3,-338.4v132M938.8,-338.4v132M950.6,-338.4v113M954.1,-338.4v113M957.6,-338.4v113M969.4,-357.2v132M972.9,-357.2v132M976.4,-357.2v113M988.2,-338.4v94M991.7,-338.4v94M995.2,-319.6v75M1007.0,-300.8v38M1010.5,-300.8v38M1014.0,-300.8v38"/></g></g><path d="M250.3,187.5h1.0M642.0,183.6h1.1M271.9,185.9l-2.0,0.2M491.1,186.9h1.0M886.7,184.8l-0.6,-0.7M775.8,185.6h0.6M884.2,184.6l1.4,-0.8M940.3,184.0l-2.0,0.4M897.7,182.7h0.7M985.1,184.0h0.8M522.3,185.6h1.0M600.1,187.8h1.2M875.0,187.1h0.7M879.2,187.0l-1.7,-0.5M223.2,188.9h0.8M74.1,189.6l1.7,0.6M424.6,184.9h1.1M891.5,182.5h0.6M735.6,184.5l1.7,-0.1M1018.5,183.3h1.0M41.7,186.6h1.0M167.8,185.4l-0.8,1.2M915.6,184.0h0.9M660.3,186.1h1.0M960.0,184.4h1.0M250.0,186.3l-1.7,-0.1M21.6,187.7h0.6M632.0,186.3h1.0M480.9,187.2h1.0M755.4,182.9h1.0M982.9,183.1h1.0M333.2,186.3h0.8M611.6,184.8h1.1M37.2,188.4l-0.5,0.8M821.8,183.7h0.9M715.0,183.5h0.8M851.9,184.5l0.7,0.8M666.7,187.4h0.7M132.1,187.9h1.1M856.9,183.3h1.1M658.4,187.1h0.7M304.9,188.4h0.8M431.1,186.1h1.2M167.6,185.2l1.6,-0.9M448.7,188.6l0.3,1.1M855.1,185.6h0.8M354.5,185.5h1.0M299.9,188.5h1.1M710.6,187.4l1.4,-0.6M23.3,189.3h0.8M679.5,185.6h1.2M628.3,185.0h1.1M492.0,187.6h0.7M550.0,187.6h1.1M941.0,185.9l1.8,0.1M881.2,182.6h0.8M542.5,185.7h1.1M11.8,186.1h0.7M79.1,190.2l1.5,0.5M329.1,186.0h1.0M602.5,185.2h0.8M135.0,188.0l-0.9,0.5M190.3,186.9h1.1M394.1,188.1h0.9M386.1,186.7l-1.7,0.5M475.4,185.1h1.0M82.3,187.6h1.1M955.8,183.8l0.4,-0.8M478.8,184.5l-1.1,-1.1M810.4,185.8l-1.2,-0.3M603.6,183.4h1.1M54.8,186.1h1.1M190.9,185.2l1.5,0.8M690.3,187.1l-1.8,-0.6M46.6,189.3h1.0M117.8,189.0l1.4,0.3M579.6,187.5h0.7M262.5,187.7l-1.2,0.6M410.6,185.9h0.6M515.3,188.4h1.0M172.2,188.5l-0.8,-0.9M498.6,186.9l0.8,0.6M765.6,187.2h0.9M736.1,183.8h0.7M601.5,184.9h1.0M973.0,183.4l-1.8,0.6M600.5,184.7h0.6M494.3,185.7h0.8M335.3,188.2h1.2M494.4,186.7h1.1M839.8,185.2h1.0M875.2,184.3l1.6,-0.3M241.9,186.0l-1.0,-1.2M872.4,183.5h0.8M199.1,188.4l1.2,-0.5M883.7,183.8h1.0M96.8,185.9l-0.4,0.9M596.1,186.7h0.8M450.6,186.4h1.0M974.9,183.8h0.7M287.5,187.9h1.1M927.8,182.6l-1.4,0.8M774.9,184.2h1.0M824.1,183.8l1.8,-0.3M551.5,184.2h0.8M735.3,186.2h0.7M662.1,186.2h1.1M671.9,183.7l1.0,0.7M737.7,185.8h1.0M472.3,185.5h0.6M733.0,186.5h1.0M372.8,185.6h1.1M52.5,188.1h1.1M367.7,186.0h0.9M789.4,184.4l1.1,0.6M110.6,185.9l-0.2,-0.8M201.1,187.0l0.8,-1.1M607.8,184.1h0.7M542.9,186.4h0.8M799.5,182.8l1.7,-0.8M397.0,186.9h1.0M996.7,185.1h1.1M498.9,186.7l2.0,0.0M678.6,185.5h0.9M205.4,187.6h0.9M662.4,185.3h1.2M911.0,182.8l-0.9,-0.5M373.5,185.5h0.9M949.1,183.6l-0.5,-0.8M876.9,185.2l-0.4,-1.1M357.0,188.3l1.1,-0.8M774.4,185.1h0.6M88.7,186.4h0.9M716.3,185.6h1.0M317.7,186.8l-1.1,0.5M918.4,185.6h0.8M544.6,186.5h0.6M221.1,188.7h0.9M207.3,186.0h0.8M180.0,185.3h0.7M505.2,184.1h0.9M421.8,187.5h0.8M410.6,184.3l0.3,0.8M489.3,184.7h0.8M135.2,185.5l-0.3,1.2M480.1,188.4h0.7M278.5,188.6h0.8M104.7,188.7l-1.0,-0.4M40.6,186.1h0.6M64.5,188.7l0.7,1.2M491.6,187.7l1.1,-0.3M317.8,187.5l1.3,0.5M868.4,182.9h0.8M696.8,187.5h1.0M751.3,186.8h1.2M376.5,186.3h1.1M495.4,185.2h1.0M621.8,186.8h0.9M165.4,188.6h0.9M776.0,186.0h0.7M862.1,185.5l1.1,-0.7M915.9,185.7h0.8M82.8,187.4l1.4,0.7M121.2,185.7h0.7M59.3,186.3h1.0M21.8,186.9l0.3,1.0M433.8,187.9h1.1M550.6,184.5h0.6M843.8,183.0h1.2M211.2,189.3h0.9M235.0,188.9h1.0M779.0,186.9h1.0M460.1,184.5l-1.7,-0.7M218.0,187.6h1.0M88.0,187.1h0.6M568.2,187.1h1.0M621.9,184.4h1.2M348.6,186.5h0.7M176.9,189.6l1.5,-0.9M628.3,187.8h0.9M967.5,186.3l-2.0,0.1M421.1,188.9l-0.6,1.2M196.4,185.5l-0.5,1.0M655.6,183.4l-0.3,1.0M358.2,188.0l-0.3,0.8M312.3,186.6h0.7M780.4,186.1l2.1,-0.2M386.3,185.1h0.9M541.2,186.3h1.1M298.0,186.9l0.5,-0.8M255.0,188.7h0.7M546.2,186.2h0.6M216.0,188.7h1.2M803.4,187.3h0.7M23.3,187.8h0.6M561.5,184.0h0.7M820.1,184.6h0.6M443.9,187.1h1.1M826.7,183.7h1.1M807.4,185.1l-1.4,-0.3M180.4,185.2h1.1M925.2,184.4h1.2M832.1,185.4h0.9M182.5,186.0h1.2M562.5,185.5h0.9M821.0,184.7l0.8,0.8M537.2,185.7l1.0,-1.1M628.6,183.5h0.9M502.5,185.2l1.1,-0.4M685.4,184.9h1.1M979.9,185.0h1.2M192.9,186.9l-0.6,0.8M969.4,186.5h0.8M294.8,185.3h1.2M90.1,186.6h0.6M541.5,187.2l-1.4,-0.9M15.4,187.1l1.3,0.4M497.7,185.1h0.6M248.3,189.4h1.1M189.7,189.8h1.0M153.6,185.5l0.6,0.7M840.9,186.7h1.2M550.1,185.5h0.8M1007.4,183.2h0.7M138.2,187.0l1.2,0.4M958.7,186.8l0.0,0.9M970.3,184.3l-0.5,0.7M358.8,188.0l-1.5,-0.4M553.5,185.7h1.1M212.5,187.8l0.8,-0.7M983.1,185.9h0.8M214.4,185.2l-1.7,0.7M125.7,185.4l0.6,-1.3M702.3,185.6l1.5,0.6M455.6,184.7h0.8M521.5,185.5h0.8M617.0,188.1l1.3,-0.9M299.7,189.3h0.7M515.8,187.3h1.0M295.2,189.3h0.9M546.7,187.9l-1.6,-0.2M634.0,183.6h1.1M795.2,182.9l-1.6,0.9M380.3,185.3h1.1M445.4,188.2l-1.0,0.7M520.4,185.7h1.0M893.9,185.1h0.7M384.6,187.3h0.6M333.9,185.9h0.9M940.5,184.6l1.0,-1.1M932.2,184.2h0.7M898.8,184.1h1.1M299.6,185.6l-1.0,-0.4M38.3,187.4h1.1M195.5,186.4h0.9M446.7,187.1h0.9M108.0,190.1h0.7M456.1,187.6l1.1,0.3M494.7,185.9l0.7,-0.8M432.9,186.9l0.5,0.9M99.3,188.5h1.2M539.0,186.4h0.7M483.5,188.0h0.8M1001.9,185.0h0.7M311.5,188.9h0.9M636.2,185.0l1.7,-0.7M755.4,183.8h0.9M325.2,185.5l0.4,1.2M957.0,182.6l-1.1,0.5M198.3,185.2h0.8M870.0,186.4h0.8M403.1,185.1h0.8M711.1,184.6h0.7M456.6,186.7h1.0M227.6,188.1h0.7M768.6,184.7h1.0M644.4,185.4h1.1M878.2,184.7h0.8M917.7,185.5h1.1M1006.0,183.5l-1.4,0.1M734.0,184.5l-1.1,-0.4M543.4,187.8h0.9M881.8,184.5h0.9M842.1,183.4h1.1M568.1,185.0l1.3,-0.7M1008.3,185.8l-0.3,0.7M695.4,186.6h0.9M582.8,184.7h0.9M399.4,184.8h0.8M742.1,183.7h0.7M422.4,186.9h0.6M497.1,184.8h0.7M111.8,188.0l1.2,-0.8M411.3,184.5h0.8M961.0,182.6l-1.6,0.1M274.9,189.4h0.9M525.9,184.7h1.2M808.7,186.1l1.6,0.7M768.0,183.8h1.2M340.0,188.1h1.0M282.1,187.2h1.1M762.3,185.2h0.9M822.3,183.8h1.0M402.0,184.5h1.0M223.5,188.6h1.2M866.3,185.9h0.6M572.2,187.1l0.4,0.8M1000.3,185.4h1.0M160.9,187.8h1.0M172.8,185.8h1.1M149.5,185.3h1.1M404.7,186.4l-1.1,-0.6M718.0,183.0h1.0M182.5,185.3h0.8M990.9,182.4l-1.5,0.8M459.6,187.2h0.7M466.9,187.8h0.7M430.0,184.6h0.9M561.0,186.5h0.6M36.8,187.3h0.9M278.0,188.4h1.0M752.9,185.3h0.8M73.6,189.4h0.7M945.9,184.9h0.9M137.4,190.1h0.8M1019.3,182.3h0.9M260.1,189.2h0.6M488.3,183.9l1.4,-0.9M58.4,188.8h0.9M313.5,186.1h1.0M99.5,190.1h1.2M203.5,185.4l-1.9,-0.2M523.5,186.8h1.0M527.6,188.3h0.6M693.0,187.5h1.0M576.1,185.4h1.0M39.2,187.2l-0.1,1.0M269.3,186.5h1.0M976.4,184.2h0.8M69.1,186.7h1.0M253.9,185.7h0.7M516.4,185.0l-1.4,-0.4M445.4,184.3l0.0,-0.9M742.7,184.2h0.7M208.7,187.9h1.0M114.8,189.1h0.8M518.1,185.8h0.8M662.5,186.6l0.7,1.2M818.4,186.0l1.3,0.9M918.4,182.8h1.2M305.9,188.7l-1.2,0.3M227.7,188.9h0.8M457.3,188.5h0.6M968.7,183.5h1.2M294.7,185.1l0.1,0.9M957.0,183.1l-0.7,0.8M228.0,187.5h0.8M522.5,185.2l1.8,-0.5M838.0,182.8h0.7M166.4,189.8l1.5,-0.5M127.7,187.4h1.1M278.2,186.1l0.7,1.2M324.3,187.7h1.1M412.6,185.8h1.0M263.5,185.4h0.6M890.2,183.9h0.8M124.9,186.9h0.8M347.6,185.8h1.1M452.1,187.7h0.7M181.9,189.2h0.8M530.8,187.8h0.8M379.6,184.4h0.9M510.7,186.0h1.0M198.0,189.8h1.1M186.8,188.9h0.6M556.1,187.6l1.6,-0.9M63.7,187.4h1.1M466.0,187.5l1.9,-0.0M894.0,184.9h1.1M102.0,185.8l-0.4,1.1M38.9,186.7l1.7,0.2M956.9,183.0l-0.1,-1.1M784.0,186.1h0.7M551.8,188.3h1.0M139.6,189.3h0.9M686.0,183.8l0.6,-1.2M294.2,185.8h1.1M452.4,185.9h1.0M331.3,186.1l0.2,-0.9M84.4,190.0l-1.3,-0.5M978.4,184.0h0.7M364.6,187.3h1.2M666.3,185.4h1.0M633.8,185.7h0.9M849.7,183.4l-0.6,1.2M83.5,187.8h1.0M214.4,186.2h0.9M592.3,183.5h0.7M976.8,184.1h0.8M676.3,187.0h0.6M453.9,186.4h1.1M332.0,185.9h1.0M511.4,187.9h0.8M75.0,188.2h0.9M360.9,184.4h0.7M104.9,189.5h0.7M727.8,186.0h1.1M241.1,189.7h0.8M261.6,188.9l-1.2,-0.4M442.9,187.4h1.2M859.8,186.9h1.0M994.8,183.1h0.7M192.2,188.9h1.0M410.2,188.4l-0.8,-1.1M53.0,186.9h0.9M687.0,187.3l1.7,-0.5M370.0,186.8l0.6,-0.9M368.9,187.3h1.1M10.1,188.9h0.7M585.9,185.8l1.3,-0.7M890.1,186.5h1.1M851.7,187.2l-1.1,0.5M669.4,184.2l-1.8,-0.5M370.1,185.8l-0.8,-0.8M576.3,185.6h0.9M298.4,189.3l0.1,-0.9M206.2,188.5l-0.8,-0.7M737.6,185.4h1.0M463.3,187.1l1.3,-0.1M586.8,188.0h0.9M871.5,182.5l-1.3,-0.7M323.8,187.5h0.9M270.3,189.2l-1.9,0.2M398.6,186.8h1.1M781.7,186.4h1.1M22.2,188.5h0.6M436.0,188.4h0.8M832.5,184.2l-1.0,0.4M991.4,182.2h1.1M126.3,187.9l-1.3,-0.5M775.6,186.7h1.0M335.6,186.5l1.2,-0.1M208.2,186.1l0.4,0.8M783.5,183.5l-2.0,0.4M837.9,183.5l-1.2,0.4M56.5,189.0h0.8M851.1,183.4h0.7M363.9,188.6h0.7M248.9,187.9h1.1M71.2,189.7h1.1M367.8,184.7h1.0M36.2,186.2l1.5,-0.9M855.8,185.1l-0.6,-1.0M439.9,184.2h0.7M475.5,184.5l-1.7,-0.5M911.6,183.3l1.4,-0.2M136.7,189.1l0.5,-0.9M618.2,183.9h0.9M762.2,183.2l2.1,0.2M249.3,188.8l1.6,-0.3M715.8,184.4l1.6,0.8M608.2,183.7l-0.5,0.7M271.6,184.9h1.0M1008.4,184.8l0.8,-1.0M398.2,185.5h0.9M216.2,188.5h0.9M561.9,186.6h0.8M705.5,184.0h1.2M403.0,188.8h1.2M541.5,187.3h0.7M533.1,186.5h1.0M928.2,185.9l1.2,0.9M643.7,187.8h0.7M995.4,183.6l-1.3,-0.5M453.0,186.7l-1.9,-0.2M316.5,188.0h1.0M898.3,182.6l-1.1,-0.6M479.0,184.4h1.1M728.2,187.1h0.7M393.2,186.6l-0.6,1.1M600.1,184.8l1.6,0.5M199.7,185.2h0.9M628.7,185.1l0.3,-0.8M14.8,190.4h0.7M189.5,188.4h0.8M693.6,184.8h1.2M810.9,185.6h0.8M656.8,186.3h0.9M769.0,183.7l1.2,-0.1M264.6,189.5h1.1M596.8,183.8h0.6M867.8,183.8l1.1,-0.5M417.0,184.9l1.1,0.4M127.3,189.5h0.8M460.7,186.6h1.2M354.0,186.7l0.1,0.8M854.6,183.9l0.7,-0.8M346.2,184.9l-1.4,0.3M188.3,186.2l1.2,0.8M641.0,185.8h0.8M203.5,189.0l-1.3,-0.3M931.4,183.1h1.0M849.8,185.2h1.2M167.7,186.8l0.5,-1.1M86.5,189.6h0.6M807.0,187.1h0.9M920.5,183.8h1.1M455.6,188.8l1.2,-0.9M206.8,188.3h0.9M582.1,185.0h1.1M380.5,184.8l-1.9,-0.1M352.6,185.1h1.1M286.6,189.1h1.1M190.8,187.2h0.7M537.8,185.4h0.7M323.6,186.1l1.4,0.5M873.0,185.1h1.2M119.5,186.0h0.9M877.3,183.7h1.1M88.3,185.6h0.7M542.6,184.4h1.1M467.6,185.3h1.0M67.5,186.7h0.9M286.3,187.9h1.1M365.2,185.4h0.7M227.7,189.2h0.9M979.3,186.6l0.1,0.9M520.2,185.0h0.7M253.6,188.4h0.9M486.4,186.8h0.6M861.8,184.6h1.2M774.2,184.4h0.9M454.1,185.8h0.9M267.3,188.4h0.8M844.3,184.6h0.8M63.2,187.6l1.7,-0.4M165.9,186.3h0.8M654.6,183.3h0.9M677.9,187.1h1.0M284.7,186.9h0.6M529.1,186.1h0.7M842.4,184.1h0.8M536.4,185.6h0.8M228.8,187.3h0.7M606.5,184.9l1.2,-0.3M713.2,184.6h1.1M927.4,185.9h1.2M571.2,186.8h1.1M874.6,183.8h0.9M605.6,185.1l1.1,-0.9M550.7,187.0h1.1M138.5,189.6h0.8M202.4,187.9h1.0M108.8,189.6h0.9M755.9,185.7h0.8M480.5,184.1h1.1M131.3,185.7l-1.2,0.7M603.4,186.9h1.1M10.6,189.9h1.0M316.7,188.2h1.0M333.9,188.5l0.6,1.1M961.9,183.1h1.2M982.6,182.5l1.3,-0.4M798.5,184.1l-1.7,-0.1M136.0,188.4l-0.3,0.7M101.5,186.7l-0.1,-1.3M767.2,183.4h1.2M870.1,187.1l-0.5,-1.1M934.1,184.2h0.8M23.4,187.1h0.8M260.6,185.3h0.9M606.9,187.9h0.8M87.6,190.0h1.0M831.8,182.5l-0.9,1.0M418.0,187.7h0.8M262.2,188.3h0.7M368.9,187.1h1.0M861.4,185.5l-0.7,1.2M960.2,184.5h0.7M774.9,186.9l-1.7,-0.1M126.8,188.2l0.5,1.0M869.2,185.5h0.7M750.0,187.3l-1.6,0.7M829.5,184.3l-1.1,0.6M10.4,189.3l1.2,0.2M331.9,185.5l0.7,1.0M566.4,185.2l-1.6,0.4M682.8,185.1h1.2M769.3,185.4h1.0M308.0,185.0h1.1M109.8,190.1h1.2M787.2,184.0h1.1M999.3,185.7h0.9M800.1,186.6l-0.5,1.2M973.1,184.7h0.7M667.5,185.2l-1.2,-0.9M163.0,187.7l1.8,-0.6M276.5,187.1l1.1,0.4M193.4,188.6h1.0M845.6,186.3h1.0M816.2,185.9l0.7,-1.0M884.6,184.9h0.8M951.9,183.6h1.1M702.2,186.8h0.9M87.9,186.4h0.9M541.5,184.0h0.7M399.6,184.4h0.7M959.9,183.7l-1.4,0.3M858.3,183.7h1.0M1014.0,185.2h0.9M971.7,186.1h0.7M281.9,188.3h1.1M278.3,188.0h0.7M533.9,186.7h0.9M643.8,187.9h0.7M522.1,186.6h1.1M213.8,187.4h0.7M469.3,186.1h1.1M1006.2,186.5h0.8M968.9,182.4h0.6M979.6,184.3h0.7M903.0,187.0h1.1M583.6,185.0h0.8M161.4,187.0h0.6M916.3,186.2l-1.0,0.8M558.4,187.4h0.9M564.7,187.6h0.6M418.0,188.4h1.0M143.7,186.6h0.7M468.7,186.8h1.1M864.8,183.7l0.1,-1.1M607.2,186.1l-0.5,-0.8M666.5,186.6h1.1M327.6,187.2h1.0M195.9,188.3h0.9M465.6,187.3l1.4,-0.1M929.1,184.4h0.6M878.1,183.4h0.8M246.3,186.2h0.9M373.5,188.0l1.4,-0.4M699.6,186.6l-1.1,0.5M775.4,185.9h1.0M77.8,189.3l1.3,-0.1M708.1,186.8h1.0M201.4,186.1h0.8M868.0,185.2l1.3,-0.2M865.8,186.7h0.8M187.3,187.2h0.8M691.1,186.1h0.7M514.0,187.2h1.0M915.9,185.8h1.0M681.4,184.8h0.8M735.2,186.5h0.9M85.6,188.4h1.1M879.6,182.6l1.0,1.1M1005.2,182.9h0.7M929.5,185.8l0.5,-0.9M791.8,184.4h0.9M717.2,184.5h0.9M812.4,184.8h0.9M475.4,187.4h0.7M48.8,187.6l-1.5,-0.6M954.9,186.0h0.7M552.9,184.7h0.6M404.7,187.7h0.7M766.0,183.7l-1.6,-0.8M547.6,186.0h0.6M973.0,183.0h1.2M552.3,186.4l-0.2,-0.9M296.0,187.8h0.7M262.2,187.2h1.1M674.2,183.9h1.0M99.9,187.5l-1.8,0.3M245.9,189.6h0.9M21.2,187.5h0.9M188.8,186.3h0.7M296.3,187.1h0.9M968.6,185.4l1.4,0.7M253.3,189.3h1.0M793.9,183.3h1.1M837.2,184.6h0.6M819.0,185.9h1.0M826.0,182.6l2.0,-0.2M902.9,184.3h0.7M810.5,185.8h0.6M191.0,187.0l-2.0,0.2M199.1,186.3h0.8M813.1,184.4h1.0M461.1,188.2h1.1M441.6,186.0h1.2M963.5,184.7h0.6M876.5,185.3h0.7M485.5,187.3h0.8M526.4,186.1h0.6M387.9,187.7h0.6M255.9,185.8l0.3,1.3M301.4,185.5h0.9M530.9,187.5h0.9M63.6,190.0h0.7M185.3,187.9h0.8M269.6,184.8h1.0M130.9,186.5l-0.3,-0.8M1007.8,185.2l-0.9,1.2M456.2,187.1l0.7,-0.7M141.3,186.3h1.1M558.3,185.9h0.9M451.4,187.5h1.1M864.4,186.5l0.8,0.9M858.9,184.1h0.7M842.9,184.1h1.1M100.0,185.5h0.9M123.9,187.2l1.6,-0.9M812.8,182.9h0.9M38.4,189.4h1.1M692.4,184.4h0.9M206.9,185.1h0.7M267.1,188.5l-1.0,0.4M781.1,184.0h1.1M924.5,183.4h1.1M534.9,185.4h0.6M910.7,186.1h1.0M204.2,188.6h1.0M549.8,184.0h1.0M56.8,185.8h1.0M996.8,184.0l-0.4,-0.9M460.4,188.1h0.9M739.0,183.6h0.9M583.3,186.8h0.9M475.2,184.4l1.7,-0.3M424.8,185.9h0.8M284.3,189.3h0.7M675.5,183.2h0.9M837.5,183.9h1.2M21.7,187.8h1.2M369.8,185.5h0.8M156.8,189.5h1.0M289.3,187.9l0.3,1.3M297.7,188.1l-2.1,0.3M409.4,186.3l-1.0,-0.4M161.3,187.8h0.6M832.6,184.1l-0.9,0.6M437.6,188.1l-1.3,-0.3M543.0,184.9h0.6M28.6,190.2l0.1,1.1M51.3,189.6h1.0M444.0,186.2l-0.5,0.7M126.4,189.7h0.6M581.2,184.1h1.1M245.9,186.9l1.4,-0.9M47.0,190.3h0.7M1005.6,182.4l1.3,0.1M487.6,186.8h1.1M119.3,188.8h1.2M642.1,186.6h1.1M302.4,185.6h1.1M335.9,186.8h0.7M129.7,187.3l-0.6,-0.8M674.1,187.2l0.5,0.7M1005.5,185.2h1.0M596.1,186.5h1.0M396.2,186.1h1.0M878.8,183.7h0.8M773.6,184.5h1.1M448.6,184.4l-2.0,-0.1M853.2,186.4l-1.5,0.8M510.0,186.9h1.0M84.5,189.6h0.9M860.6,186.4l-1.1,0.3M1005.1,183.3l-1.4,0.5M557.2,186.2l-1.2,-0.4M547.5,184.1l0.7,0.8M606.2,185.1l0.4,-0.9M443.3,187.6h1.0M349.9,187.2h1.1M364.9,188.2h0.8M244.5,189.3h0.8M483.1,187.3h0.7M404.4,187.7h0.7M842.1,182.5h0.7M853.5,184.1h0.9M910.1,182.4h0.8M658.5,183.8h0.9M75.6,187.1h1.1M21.2,186.5h0.7M590.4,185.1l-1.4,-0.4M192.3,187.4l-0.4,-1.1M531.4,188.2h0.9M974.9,185.7h1.1M788.8,184.1h1.1M387.7,186.0h0.6M274.1,189.5h1.1M15.9,187.3h0.8M962.9,186.6h0.7M939.6,185.9h0.6M19.9,189.1h0.9M346.5,185.8h0.9M628.4,185.3h0.7M677.3,187.6h1.1M662.7,184.3h1.1M160.0,185.8h1.1M392.5,184.3h0.9M489.6,184.6l-0.5,-0.8M331.8,185.7h1.0M286.8,187.9l-0.6,0.8M379.1,186.6h0.8M325.9,185.1l-0.6,-1.0M84.1,189.0h1.1M663.4,184.3l-1.3,-0.5M813.3,184.2h0.6M629.4,184.6h0.6M791.1,184.0l1.6,-0.8M236.5,189.4h1.1M927.1,183.7h1.1M303.2,185.1h0.9M320.1,189.1h0.8M729.0,185.8l-1.2,-1.0M987.6,186.0h0.8M545.8,184.7h0.9M452.6,185.9h1.2M345.4,186.8h0.9M798.0,187.2h1.2M380.3,186.6h1.2M139.9,186.4l0.1,0.8M382.2,186.5h0.7M361.3,185.8h0.9M240.2,185.8l1.2,-0.6M544.8,184.1h0.9M964.5,182.4h1.1M20.7,188.6h1.1M841.2,186.7l1.6,0.6M575.1,185.0h0.9M436.6,186.0l0.3,1.2M156.6,188.5h0.8M492.3,184.5h0.8M204.1,189.1h1.0M712.0,183.8h0.6M902.6,184.6l-0.7,0.9M665.3,187.2h0.9M369.2,185.5l1.4,-0.6M150.5,189.4h1.0M431.0,184.5l1.7,0.8M181.0,186.8h0.7M666.5,183.6h0.6M23.7,188.2h1.1M695.3,185.5l1.5,-0.2M792.5,186.0h1.1M45.7,188.9l-1.1,-0.9M675.6,185.1h0.8M324.4,188.4l1.5,-0.2M912.8,186.5h0.9M106.4,185.8h1.0M190.9,186.6h0.9M134.7,186.1h0.8M1007.7,182.7l-1.2,-1.0M821.7,182.9h1.1M662.4,187.3h1.1M409.9,188.0h0.8M540.9,183.8l1.3,-0.8M663.4,186.7h0.7M665.4,187.9l0.4,-0.8M324.6,185.9h1.1M637.0,186.1h0.7M277.7,189.4l-1.1,-0.9M238.1,185.0h0.6M215.2,189.7h0.7M102.3,185.5h0.7M349.6,185.2h1.0M139.7,185.9l-0.3,1.1M297.8,188.0h0.8M882.9,183.7h0.7M117.9,187.4h0.6M543.4,185.7h1.1M907.2,184.2h1.1M776.1,185.2h0.8M742.0,185.6l-0.4,0.7M884.3,185.1l-0.0,-1.2M374.2,188.5h0.8M179.5,185.6h0.8M344.1,187.4l-1.7,-0.4M20.5,189.1h1.1M363.0,187.5h1.1M448.5,188.0l-1.7,-0.2M722.9,185.4l1.6,-0.4M704.5,183.5l-0.9,-0.5M20.3,189.8l-1.2,-0.6M255.6,187.1l-0.9,-0.5M218.7,185.4l1.2,-1.0M444.7,185.6h0.8M357.5,186.3h1.0M877.1,184.2l-0.4,0.8M814.7,183.0h1.2M485.8,185.9l1.2,-0.6M824.1,183.2l-1.4,0.5M25.3,186.1h0.7M677.2,187.9h1.1M600.4,186.4l-2.0,0.1M170.6,188.4h0.7M241.1,189.4h0.9M516.0,187.9h0.7M957.7,186.1l-0.5,-1.1M336.8,189.2l1.0,1.0M441.4,184.4l0.2,1.0M105.5,187.9h1.1M973.1,186.2h0.8M958.1,183.1h0.9M381.5,187.0h0.7M30.8,187.8h1.1M268.2,185.7l0.7,1.1M545.2,184.3l1.5,-0.0M570.7,186.2l1.3,-0.1M395.7,188.1h0.9M581.9,183.6h1.1M409.9,186.3h1.1M910.9,182.6h0.6M560.9,187.5h0.8M874.3,185.7l-1.5,-0.2M709.9,185.3h0.7M978.6,185.0h1.1M774.4,183.0l0.8,0.9M728.9,185.3h0.9M647.1,187.8l2.0,-0.1M492.0,185.6l1.3,-0.4M803.6,184.3h0.9M917.9,184.7l1.1,-1.0M311.2,189.0h0.9M94.3,187.3l0.8,-1.2M576.3,186.0h0.9M925.9,183.8l-0.7,1.1M202.8,189.7h0.6M588.9,187.2l-1.6,0.6M216.0,186.5h0.7M53.1,186.7h1.0M348.1,187.4h1.1M23.6,189.5l-1.6,-0.5M1001.9,182.5h0.9M740.6,185.4h0.9M474.8,188.1h1.0M103.3,189.5h1.1M332.7,187.6h1.2M487.2,186.3h0.8M960.5,183.6h0.7M736.3,187.2h1.2M236.4,189.1l0.3,0.8M437.3,186.1h1.0M240.9,186.1h0.7M455.5,186.9h0.7M747.3,183.3l-1.1,-0.6M19.3,189.8h1.1M549.2,187.0h1.0M268.0,187.6l-1.1,-0.5M254.8,186.8l0.5,-0.9M602.8,185.1h0.8M964.7,183.8h1.0M232.0,185.5h1.1M380.7,185.7h1.0M282.0,187.3h0.6M335.3,188.4h1.1M86.4,187.8h1.0M14.6,186.4h1.2M517.0,187.9h1.2M88.6,189.7h0.7M541.7,185.7l1.8,-0.5M258.7,185.9h0.8M231.5,185.9h0.8M121.4,186.8l0.9,-0.9M976.5,186.4h0.6M346.7,187.0l1.9,0.2M810.5,183.9l0.9,-0.6M674.5,185.4l1.1,0.9M21.8,185.9h0.8M446.5,185.1l-1.5,0.5M371.6,188.6h1.2M203.5,189.2h1.0M248.1,188.8h1.1M675.3,187.5l0.4,-0.8M834.1,183.0l1.2,-0.4M50.5,189.5h1.0M837.1,187.0h1.1M930.3,185.8h1.1M435.0,188.4h0.9M45.8,186.2l-1.9,0.3M488.8,187.4h0.7M328.6,187.6h1.2M71.3,188.3l-0.2,-0.8M116.8,188.8h0.7M136.8,188.5h0.8M960.6,183.2l1.4,0.1M60.1,189.1h1.1M832.7,186.0h0.9M43.7,189.5h0.9M910.9,187.0h0.8M891.6,186.3h0.9M967.5,186.7l-1.4,0.1M910.0,183.2h0.8M865.7,184.1h1.1M743.4,187.7h0.7M693.5,185.5l-1.2,0.2M490.7,185.1l0.7,-1.2M120.0,188.1h1.2M161.0,188.3l0.5,1.0M132.7,185.6h0.6M454.3,187.3l-0.1,1.0M706.3,184.5h0.8M852.4,184.2l0.9,0.7M303.8,185.7h0.8M832.2,185.7l-0.6,0.8M254.3,187.2h1.1M437.5,184.3h0.9M205.5,186.5h1.2M620.0,184.6h0.8M252.6,186.9h0.8M175.7,189.6l-0.3,-1.3M583.6,187.1h1.0M866.0,185.8l-1.2,-0.6M820.6,186.9h0.7M17.6,186.9h0.7M177.7,186.7h1.2M80.9,185.6l-1.4,0.8M332.3,184.6h1.2M60.1,187.7h1.0M390.5,188.2h0.9M999.7,184.4l2.0,0.4M404.5,189.0l-0.1,1.2M179.1,187.7l0.6,0.7M859.0,183.3l-1.4,0.2M878.6,184.1h1.1M1008.7,183.4l1.5,0.8M600.8,184.6h0.8M690.8,185.1h1.0M361.3,184.8h1.1M251.5,186.1l1.1,1.1M316.2,185.6l1.3,-0.6M283.2,185.3h1.0M757.9,184.3h1.1M714.0,186.3l0.1,1.3M642.8,184.8h0.8M425.3,188.1l-1.6,-0.7M884.4,184.2h1.2M70.5,187.7h0.9M798.0,182.8h0.8M686.1,187.4h0.6M366.5,186.6h1.1M373.4,186.1h0.9M825.1,183.1h0.8M73.0,187.5h1.0M1015.4,185.2l-0.3,-1.1M917.8,186.3l-0.7,0.8M884.1,182.4h1.1M306.2,187.0h1.0M847.5,182.7h1.1M427.0,188.8h0.9M184.9,189.3h1.1M705.2,184.3l1.9,0.5M802.2,183.8h0.8M483.0,188.5h0.9M55.4,185.9h0.9M953.3,184.8l-1.9,-0.6M332.9,184.6l-0.8,-0.7M228.3,187.2l-0.8,-0.9M588.1,185.2h0.7M712.5,183.1h0.7M153.8,188.9l-2.2,-0.1M726.0,185.5h0.6M107.8,189.0h1.2M269.9,186.1h1.2M561.6,184.8h0.9M25.6,189.9h1.1M881.3,183.7h1.0M470.8,185.9l-0.1,1.1M17.3,188.5l-1.5,0.7M339.9,186.3h1.1M339.3,184.7h0.9M621.9,185.6h1.0M261.6,186.0h0.6M218.8,188.2h0.9M243.3,186.1h1.2M151.6,188.5l-2.0,-0.3M192.7,188.8h0.7M107.4,185.4l-0.9,0.8M750.1,184.1l0.9,1.2M890.8,184.7l1.2,-1.1M308.5,186.6h0.9M570.8,187.7h0.9M289.1,186.8h0.9M632.2,186.2l-1.5,-0.1M969.5,183.9h0.9M718.4,184.2h0.7M572.1,185.4l1.0,0.9M161.5,186.1h1.0M748.7,184.9l0.7,-1.2M660.5,185.3h1.1M307.7,185.8l1.7,-0.4M850.6,182.7l-1.2,-0.5M291.1,187.9l-0.0,-0.7M600.5,185.1h0.6M594.8,184.8h0.9M916.0,183.5h1.0M770.9,186.8h1.1M85.9,187.7l1.2,-0.6M695.4,186.4h1.1M855.3,183.1h0.9M957.0,186.6h0.8M134.0,185.6h1.2M924.3,183.1h1.0M462.0,188.1h0.8M126.3,189.7l-1.2,0.2M871.5,186.1l1.7,-0.4M505.9,187.7h1.1M320.2,186.7l1.5,0.0M832.0,184.4l-0.3,-0.8M507.7,185.5h1.0M517.1,184.1l0.8,1.0M842.2,184.7h0.9M109.8,186.2h0.7M593.2,187.1h1.2M83.4,187.1h0.9M686.1,184.4h0.8M353.8,184.7l1.6,0.2M238.1,186.9l0.6,-1.2M641.4,184.6h0.7M903.6,184.1h0.8M349.3,185.4h0.9M470.8,184.2h0.6M483.1,187.0l-1.5,0.6M803.5,185.2h0.7M698.6,186.5h1.0M221.0,185.5h0.9M402.0,185.4l-0.5,-0.8M81.7,188.9l-0.4,-1.1M987.2,185.2h0.9M409.3,187.0h1.0M722.2,184.3h0.8M690.3,185.3l-1.2,0.2M79.1,188.8h1.1M509.9,185.5h1.1M554.9,185.6h0.9M469.6,187.4h0.8M131.2,187.5h0.7M185.3,186.8l-1.5,-0.1M488.7,186.1h1.1M522.5,188.5h0.7M1002.4,182.4h0.7M167.1,185.8l1.0,0.8M155.4,186.7h0.8M294.9,188.1l0.6,0.9M633.5,188.0h1.0M417.7,186.6l-0.5,-0.9M832.3,185.3h0.7M211.0,188.9l0.9,0.9M85.5,185.8h0.9M443.8,186.2h0.8M297.5,189.1h1.0M188.7,186.8h0.7M626.9,183.5h1.0M586.8,184.0h0.8M821.3,186.7h1.1M428.1,188.8l1.1,-0.5M711.5,186.2h1.1M240.2,185.5h0.7M988.3,186.3h1.1M630.3,187.7h0.7M1011.9,183.1h1.1M668.7,187.3h1.2M848.1,185.5h1.1M386.3,185.0h1.2M328.5,186.8l-0.4,-0.9M346.8,187.1h1.0M661.1,184.1l0.5,-1.0M156.7,187.4l-0.2,0.9M708.7,186.6l-1.5,0.7M242.0,185.1h0.7M896.1,183.8h1.1M38.0,190.3h0.6M349.1,185.0h0.9M576.5,184.4l0.8,0.6M280.7,184.7l0.7,0.6M636.5,184.9h0.9M195.5,185.4h0.7M359.0,186.8l-1.4,-0.7M315.2,186.8h1.1M949.3,186.1h1.0M308.4,188.4l0.6,0.7M1013.4,184.5l1.1,-1.0M114.3,186.6h1.1M748.6,183.9h1.1M893.9,182.4h0.7M444.4,184.1h0.7M66.5,190.2h1.2M743.1,184.5h0.8M287.9,187.4h1.0M507.2,184.7l-0.4,1.1M737.0,186.4h0.9M439.2,187.6h0.9M857.4,184.6h1.0M801.4,184.2h1.1M632.2,184.3l-1.0,0.9M63.8,188.9h1.1M243.1,185.0h0.9M701.2,184.5l0.7,-0.6M1005.9,182.1h0.6M818.3,187.1h0.9M984.4,185.6h0.9M935.9,186.3h0.9M81.6,187.4l1.4,0.2M580.7,183.6h1.1M198.1,187.4l-1.9,-0.2M76.3,188.1h0.9M494.3,184.2h0.8M720.4,184.2l-2.0,0.3M537.0,185.0h0.8M545.6,185.4h1.2M988.5,184.3h1.1M648.5,185.2h1.1M75.5,187.5h0.9M36.8,187.8h0.8M994.5,183.0h1.1M218.8,186.1h1.0M218.2,186.2h0.8M404.3,187.1h0.9M802.7,184.0l0.1,-1.3M757.4,185.9h0.8M913.1,183.1h0.7M524.8,188.1h0.6M900.2,182.5h0.9M32.4,189.5h1.2M663.0,185.2h0.8M644.5,187.3h0.9M666.3,184.3l-0.3,0.9M217.6,189.5h0.8M628.7,185.8h0.9M486.5,186.5h0.7M714.9,184.6l-1.1,1.1M259.9,187.9l-0.6,1.1M566.7,183.6h0.8M80.3,189.4h1.2M143.1,187.0h0.8M136.7,187.1h0.9M455.9,186.0h1.0M261.0,187.1l0.4,-1.2M946.3,184.4l0.4,-0.9M782.9,185.0h0.7M753.9,184.4h0.9M778.4,187.4l-0.8,-0.8M557.9,186.6h1.1M324.2,187.1l0.4,0.9M939.1,186.6h1.0M586.3,183.9l1.5,-0.9M226.3,187.6l1.3,-1.0M63.3,188.9h0.7M520.6,184.1h0.9M414.0,185.7h0.9M162.5,186.3h0.6M538.3,188.0h1.1M382.6,186.5l-1.6,0.4M938.4,182.4h0.8M511.2,186.4h0.8M947.0,186.6l-1.6,-0.7M64.9,188.6h0.8M699.1,184.8l1.2,0.5M487.7,184.6h1.0M275.1,185.4l1.1,-0.8M639.7,184.6l0.4,-1.2M554.3,184.7h0.8M639.5,184.0h0.9M149.7,186.0h0.9M840.5,187.2h1.0M438.5,187.0h1.1M524.8,184.9h1.1M41.7,190.4l-1.5,-0.0M263.2,186.4l-1.2,-0.7M394.3,186.3h0.8M706.9,183.1l1.6,0.1M306.1,187.2h1.0M52.7,189.9l1.3,-0.8M148.3,188.2h1.1M476.1,187.7h0.6M167.0,189.9h0.7M176.9,189.7l-1.2,0.3M819.1,182.6l-1.4,0.4M26.1,188.9l-2.0,0.4M197.0,186.6h0.7M1009.3,184.3h1.0M160.0,186.9l-0.8,0.7M879.7,183.6l1.2,0.2M1013.8,184.7h1.1M309.4,188.8h1.1M512.0,188.1l0.4,-0.8M474.4,188.3h0.7M481.3,184.6h1.0M19.9,187.7h1.1M374.8,186.5h0.7M492.8,184.8h1.1M962.7,186.6l1.6,0.3M379.6,186.1h1.0M15.4,188.6h1.0M953.1,185.2l2.1,-0.2M301.5,187.6h0.9M438.7,184.2h0.6M904.9,186.0h1.0M898.8,185.3h0.9M402.4,185.8h0.8M222.2,187.0h0.8M1012.2,182.9h1.1M378.4,184.6h0.8M814.2,184.2h0.9M643.4,183.9h1.1M262.6,189.3l-1.3,-0.2M271.1,184.8h0.9M743.2,184.6l1.3,-0.8M519.2,188.2h0.6M909.2,182.6h0.8M875.2,185.2h1.2M906.3,185.3h0.7M900.3,185.6l-1.8,0.7M86.2,186.9l0.2,-0.8M366.1,185.4h1.0M619.4,185.3h0.8M946.1,185.6h1.0M409.2,184.3h0.8M24.2,187.4h0.8M428.4,187.9h1.1M580.4,185.1h1.0M161.9,188.6l-0.3,-1.1M851.9,182.5h0.8M193.5,186.9h1.0M109.3,187.2h1.2M246.7,187.5h0.8M425.4,184.2l-0.8,-0.6M462.4,184.6h1.1M217.8,189.0h1.0M997.3,182.7l1.5,-0.5M242.6,188.6h0.6M923.0,182.8l0.8,0.9M536.0,185.0h1.2M331.3,187.5l1.3,1.0M940.2,185.1h0.8M239.9,187.3h1.2M989.2,182.3l-1.5,0.5M464.9,185.7h1.0M327.9,185.6h0.7M646.2,185.9l-1.2,-0.8M241.4,186.9h1.1M936.3,185.3h0.8M557.9,187.3h1.0M89.4,186.5h1.1M294.4,187.1h0.7M304.1,187.9h0.9M540.3,186.6h1.0M908.5,185.3h1.1M458.4,186.6h1.0M600.6,187.9h0.7M776.6,186.5h0.7M942.3,184.7l0.9,-1.0M523.3,186.9h1.1M950.1,185.0h1.0M682.0,183.8l0.4,-0.8M569.9,184.1h0.8M507.9,187.6l0.1,-0.9M336.8,184.9h0.8M579.1,185.5h1.1M433.0,186.5h0.7M646.3,183.8h0.9M509.7,185.7l-0.3,1.2M743.8,183.9h1.0M585.1,186.4l0.8,0.7M1010.1,183.3h0.8M137.1,189.2l-0.3,0.7M786.3,184.0l0.0,1.3M148.9,186.8h1.0M801.5,183.2h1.2M408.9,187.7l-0.6,1.2M819.3,184.8h0.7M878.7,185.1h0.8M19.5,186.6h1.1M956.1,184.0h1.0M993.3,186.6h1.2M631.7,185.0l2.0,0.3M894.3,182.7h1.2M962.6,185.0l1.4,0.5M869.7,182.6h0.7M605.7,188.2h1.1M76.2,187.6l1.4,-0.2M173.0,186.4l1.1,0.6M327.4,186.7l-2.0,-0.1M492.2,187.8h1.0M387.6,186.3h1.1M362.4,188.9h0.7M912.2,186.3h0.8M867.7,183.7l0.9,-0.5M355.2,189.1l0.2,1.0M917.9,182.2h1.0M401.5,187.3h0.9M679.1,186.7h1.0M996.2,186.5h0.9M213.5,189.7h1.1M416.5,188.6h0.9M613.4,185.4h1.1M104.3,189.4l0.8,-1.0M424.0,186.4h0.8M538.9,183.9h1.0M983.2,185.3h0.7M72.4,188.4l-1.2,0.2M960.4,185.7h1.1M942.9,183.5h0.6M363.3,185.4l-0.2,-0.9M758.9,183.4h0.8M843.5,186.9h0.8M455.6,185.9h0.9M256.3,186.1h0.6M186.5,186.0h0.6M542.0,186.7h1.2M315.8,187.0h1.0M953.2,182.2h0.6M114.6,187.2h1.1M877.1,185.2h0.9M226.4,186.0h0.7M641.5,184.5l-1.0,1.0M275.4,185.8h0.9M988.3,182.7h0.7M875.2,182.7l0.9,1.2M360.1,188.8h0.8M20.5,187.7h1.2M532.5,187.8h1.0M622.8,183.9h1.0M430.6,185.0h0.9M974.5,184.2h0.9M761.0,186.9h0.9M62.5,187.1h0.7M141.0,189.1h1.1M150.7,186.0h1.1M99.9,186.5h0.9M900.8,183.6h1.0M420.4,186.7h1.2M797.7,183.8h0.7M993.8,182.5h0.7M496.8,186.8h0.9M685.7,184.2l-1.3,0.7M975.9,183.4h0.7M109.7,185.8l-0.9,-0.6M399.5,186.0h0.8M28.7,190.2h0.9M850.3,185.1h1.0M543.6,185.2l1.5,0.6M173.3,187.6h0.9M362.3,187.7h0.7M619.2,185.3l-0.8,-0.6M604.9,183.5l-1.6,-0.5M375.2,184.6h0.8M185.8,189.8h0.9M249.4,188.9h1.2M177.2,186.4h0.8M97.2,189.3h0.8M23.3,186.0h0.9M12.5,187.9h1.2M993.7,184.7l1.7,0.3M917.3,186.3l0.2,-1.3M608.7,184.2h0.7M908.6,183.2l-1.1,-0.9M226.0,187.2h1.2M715.5,186.6l-1.7,0.5M569.3,185.6h0.8M96.9,190.0h1.1M362.9,186.0h0.9M221.9,186.7l1.2,-0.3M731.8,187.2l0.8,-1.1M511.3,184.0h1.1M404.9,186.5h0.8M276.6,186.1l-1.9,0.3M700.1,184.7h0.9M533.5,186.6h0.9M762.4,184.1h1.1M670.0,185.9h1.0M763.0,183.3h1.1M474.3,187.8h1.1M608.5,184.5h0.9M244.3,189.6h0.8M863.1,186.6h1.2M108.2,187.1l1.0,0.7M418.0,186.6h0.8M470.8,186.1h0.7M47.8,189.4h1.0M659.6,183.5h1.2M532.9,185.4l0.4,1.3M714.3,184.1l-1.5,-0.1M150.2,186.0h0.9M935.3,183.7h1.1M786.6,185.8l-1.2,-1.0M690.7,184.1h1.0M706.9,185.1h0.9M831.7,186.8h0.9M232.2,185.8l1.6,0.2M300.8,186.6l1.8,0.5M743.8,183.1h0.8M185.0,187.0l1.8,-0.1M464.1,186.8h0.9M317.3,187.0h0.9M583.8,186.4h0.8M408.5,186.7h1.0M664.8,184.2l-1.0,-1.1M442.5,188.7h0.9" stroke="#5c5c5c" stroke-width="0.85" fill="none"/><line x1="10.0" y1="184.5" x2="600.0" y2="182.0" stroke="#1a1a1a" stroke-width="1.0" /><line x1="600.0" y1="182.0" x2="1020.0" y2="180.3" stroke="#1a1a1a" stroke-width="1.0" /><line x1="10.0" y1="192.3" x2="600.0" y2="190.3" stroke="#7a7a7a" stroke-width="2.6" /><line x1="600.0" y1="190.3" x2="1020.0" y2="188.8" stroke="#7a7a7a" stroke-width="2.6" /><path d="M320.0,17.0 C324.2,17.1 336.3,17.1 345.0,17.6 C353.7,18.1 363.0,18.9 372.0,20.2 C381.0,21.5 388.0,23.2 399.0,25.4 C410.0,27.6 428.2,30.8 438.0,33.2 C447.8,35.6 451.5,37.2 458.0,40.0 C464.5,42.8 470.5,45.2 477.0,49.8 C483.5,54.4 492.2,62.9 497.0,67.4 C501.8,72.0 502.8,74.8 505.5,77.1 C508.2,79.4 512.0,80.3 513.3,81.0" fill="none" stroke="#33cc11" stroke-width="1.0" /><line x1="10.0" y1="17.0" x2="320.0" y2="17.0" stroke="#33cc11" stroke-width="1.0" /><path d="M513.3,81.0 C515.1,82.5 521.0,86.8 524.0,90.0 C527.0,93.2 529.4,96.9 531.0,100.0 C532.6,103.1 533.8,105.4 533.8,108.4 C533.8,111.4 532.6,114.9 531.0,118.0 C529.4,121.1 527.0,124.3 524.0,127.0 C521.0,129.7 515.1,132.8 513.3,134.0" fill="none" stroke="#33cc11" stroke-width="1.0" /><line x1="513.3" y1="81.0" x2="513.3" y2="134.0" stroke="#33cc11" stroke-width="1.0" /><path d="M259.4,145.5 L300,146 L470,146 C490,145 505,140 513.3,134" fill="none" stroke="#33cc11" stroke-width="1.0" /><ellipse cx="17.3" cy="45.5" rx="2.1" ry="3.0" fill="none" stroke="#33cc11" stroke-width="1.0" /><ellipse cx="27.3" cy="45.5" rx="2.1" ry="3.0" fill="none" stroke="#33cc11" stroke-width="1.0" /><ellipse cx="37.3" cy="45.5" rx="2.1" ry="3.0" fill="none" stroke="#33cc11" stroke-width="1.0" /><ellipse cx="47.2" cy="45.5" rx="2.1" ry="3.0" fill="none" stroke="#33cc11" stroke-width="1.0" /><ellipse cx="57.2" cy="45.5" rx="2.1" ry="3.0" fill="none" stroke="#33cc11" stroke-width="1.0" /><ellipse cx="67.2" cy="45.5" rx="2.1" ry="3.0" fill="none" stroke="#33cc11" stroke-width="1.0" /><ellipse cx="77.2" cy="45.5" rx="2.1" ry="3.0" fill="none" stroke="#33cc11" stroke-width="1.0" /><ellipse cx="87.2" cy="45.5" rx="2.1" ry="3.0" fill="none" stroke="#33cc11" stroke-width="1.0" /><ellipse cx="97.1" cy="45.5" rx="2.1" ry="3.0" fill="none" stroke="#33cc11" stroke-width="1.0" /><ellipse cx="107.1" cy="45.5" rx="2.1" ry="3.0" fill="none" stroke="#33cc11" stroke-width="1.0" /><ellipse cx="117.1" cy="45.5" rx="2.1" ry="3.0" fill="none" stroke="#33cc11" stroke-width="1.0" /><ellipse cx="127.1" cy="45.5" rx="2.1" ry="3.0" fill="none" stroke="#33cc11" stroke-width="1.0" /><ellipse cx="137.1" cy="45.5" rx="2.1" ry="3.0" fill="none" stroke="#33cc11" stroke-width="1.0" /><ellipse cx="147.0" cy="45.5" rx="2.1" ry="3.0" fill="none" stroke="#33cc11" stroke-width="1.0" /><ellipse cx="157.0" cy="45.5" rx="2.1" ry="3.0" fill="none" stroke="#33cc11" stroke-width="1.0" /><ellipse cx="167.0" cy="45.5" rx="2.1" ry="3.0" fill="none" stroke="#33cc11" stroke-width="1.0" /><ellipse cx="177.0" cy="45.5" rx="2.1" ry="3.0" fill="none" stroke="#33cc11" stroke-width="1.0" /><ellipse cx="187.0" cy="45.5" rx="2.1" ry="3.0" fill="none" stroke="#33cc11" stroke-width="1.0" /><ellipse cx="236.2" cy="45.5" rx="2.1" ry="3.0" fill="none" stroke="#33cc11" stroke-width="1.0" /><ellipse cx="246.0" cy="45.5" rx="2.1" ry="3.0" fill="none" stroke="#33cc11" stroke-width="1.0" /><ellipse cx="255.7" cy="45.5" rx="2.1" ry="3.0" fill="none" stroke="#33cc11" stroke-width="1.0" /><ellipse cx="265.5" cy="45.5" rx="2.1" ry="3.0" fill="none" stroke="#33cc11" stroke-width="1.0" /><ellipse cx="275.3" cy="45.5" rx="2.1" ry="3.0" fill="none" stroke="#33cc11" stroke-width="1.0" /><ellipse cx="285.0" cy="45.5" rx="2.1" ry="3.0" fill="none" stroke="#33cc11" stroke-width="1.0" /><ellipse cx="294.8" cy="45.5" rx="2.1" ry="3.0" fill="none" stroke="#33cc11" stroke-width="1.0" /><ellipse cx="304.6" cy="45.5" rx="2.1" ry="3.0" fill="none" stroke="#33cc11" stroke-width="1.0" /><ellipse cx="314.4" cy="45.5" rx="2.1" ry="3.0" fill="none" stroke="#33cc11" stroke-width="1.0" /><ellipse cx="324.1" cy="45.5" rx="2.1" ry="3.0" fill="none" stroke="#33cc11" stroke-width="1.0" /><ellipse cx="333.9" cy="45.5" rx="2.1" ry="3.0" fill="none" stroke="#33cc11" stroke-width="1.0" /><ellipse cx="76.3" cy="88.0" rx="2.1" ry="3.0" fill="none" stroke="#33cc11" stroke-width="1.0" /><ellipse cx="86.3" cy="88.0" rx="2.1" ry="3.0" fill="none" stroke="#33cc11" stroke-width="1.0" /><ellipse cx="96.3" cy="88.0" rx="2.1" ry="3.0" fill="none" stroke="#33cc11" stroke-width="1.0" /><ellipse cx="106.3" cy="88.0" rx="2.1" ry="3.0" fill="none" stroke="#33cc11" stroke-width="1.0" /><ellipse cx="116.3" cy="88.0" rx="2.1" ry="3.0" fill="none" stroke="#33cc11" stroke-width="1.0" /><ellipse cx="126.3" cy="88.0" rx="2.1" ry="3.0" fill="none" stroke="#33cc11" stroke-width="1.0" /><ellipse cx="136.3" cy="88.0" rx="2.1" ry="3.0" fill="none" stroke="#33cc11" stroke-width="1.0" /><ellipse cx="146.3" cy="88.0" rx="2.1" ry="3.0" fill="none" stroke="#33cc11" stroke-width="1.0" /><ellipse cx="156.3" cy="88.0" rx="2.1" ry="3.0" fill="none" stroke="#33cc11" stroke-width="1.0" /><ellipse cx="166.3" cy="88.0" rx="2.1" ry="3.0" fill="none" stroke="#33cc11" stroke-width="1.0" /><ellipse cx="176.3" cy="88.0" rx="2.1" ry="3.0" fill="none" stroke="#33cc11" stroke-width="1.0" /><ellipse cx="186.3" cy="88.0" rx="2.1" ry="3.0" fill="none" stroke="#33cc11" stroke-width="1.0" /><ellipse cx="197.5" cy="88.0" rx="2.1" ry="3.0" fill="none" stroke="#33cc11" stroke-width="1.0" /><ellipse cx="207.3" cy="88.0" rx="2.1" ry="3.0" fill="none" stroke="#33cc11" stroke-width="1.0" /><ellipse cx="217.0" cy="88.0" rx="2.1" ry="3.0" fill="none" stroke="#33cc11" stroke-width="1.0" /><ellipse cx="226.8" cy="88.0" rx="2.1" ry="3.0" fill="none" stroke="#33cc11" stroke-width="1.0" /><ellipse cx="236.6" cy="88.0" rx="2.1" ry="3.0" fill="none" stroke="#33cc11" stroke-width="1.0" /><ellipse cx="246.3" cy="88.0" rx="2.1" ry="3.0" fill="none" stroke="#33cc11" stroke-width="1.0" /><ellipse cx="256.1" cy="88.0" rx="2.1" ry="3.0" fill="none" stroke="#33cc11" stroke-width="1.0" /><ellipse cx="304.6" cy="88.0" rx="2.1" ry="3.0" fill="none" stroke="#33cc11" stroke-width="1.0" /><ellipse cx="314.4" cy="88.0" rx="2.1" ry="3.0" fill="none" stroke="#33cc11" stroke-width="1.0" /><ellipse cx="324.1" cy="88.0" rx="2.1" ry="3.0" fill="none" stroke="#33cc11" stroke-width="1.0" /><ellipse cx="333.9" cy="88.0" rx="2.1" ry="3.0" fill="none" stroke="#33cc11" stroke-width="1.0" /><ellipse cx="343.7" cy="88.0" rx="2.1" ry="3.0" fill="none" stroke="#33cc11" stroke-width="1.0" /><ellipse cx="353.5" cy="88.0" rx="2.1" ry="3.0" fill="none" stroke="#33cc11" stroke-width="1.0" /><ellipse cx="363.2" cy="88.0" rx="2.1" ry="3.0" fill="none" stroke="#33cc11" stroke-width="1.0" /><ellipse cx="373.0" cy="88.0" rx="2.1" ry="3.0" fill="none" stroke="#33cc11" stroke-width="1.0" /><ellipse cx="382.8" cy="88.0" rx="2.1" ry="3.0" fill="none" stroke="#33cc11" stroke-width="1.0" /><ellipse cx="392.5" cy="88.0" rx="2.1" ry="3.0" fill="none" stroke="#33cc11" stroke-width="1.0" /><ellipse cx="402.3" cy="88.0" rx="2.1" ry="3.0" fill="none" stroke="#33cc11" stroke-width="1.0" /><ellipse cx="412.1" cy="88.0" rx="2.1" ry="3.0" fill="none" stroke="#33cc11" stroke-width="1.0" /><path d="M64.4,88 A1.9,2.9 0 0 1 68.2,88 M54.6,86.6 A1.9,2.6 0 0 1 58,86.4" fill="none" stroke="#33cc11" stroke-width="1.0" /><rect x="202.5" y="29.7" width="19.1" height="32.4" rx="3" fill="none" stroke="#33cc11" stroke-width="1.0" /><rect x="202.5" y="67.4" width="19.1" height="9.2" rx="3.5" fill="none" stroke="#33cc11" stroke-width="1.0" /><rect x="270.2" y="71.5" width="20.5" height="33.0" rx="3" fill="none" stroke="#33cc11" stroke-width="1.0" /><rect x="426.0" y="71.3" width="19.4" height="34.2" rx="3" fill="none" stroke="#33cc11" stroke-width="1.0" /><path d="M21.9,81.5 V75 Q21.9,71.4 25.5,71.4 H38.6 Q42.2,71.4 42.2,75 V84.5" fill="none" stroke="#33cc11" stroke-width="1.0" /><path d="M346,103.7 H333 Q328.4,103.7 328.4,108 V136 Q328.4,140.8 333,140.8 H346 M358,103.7 H373.5 Q378.2,103.7 378.2,108 V136 M378.2,139 Q378,140.8 373.5,140.8 H358" fill="none" stroke="#33cc11" stroke-width="1.0" /><path d="M475.5,71 Q475.5,68.6 478,68.6 H482.5 V79.4 H478 Q475.5,79.4 475.5,77 Z M484.5,68.6 H489 L495,75.5 Q490,79.4 484.5,79.4 Z M491.5,69.5 L497,68.8 L504.3,77.3 L497.5,76.8 Z" fill="none" stroke="#33cc11" stroke-width="1.0" /><path d="M10,80.3 L160,99.8" fill="none" stroke="#33cc11" stroke-width="1.0" /><path d="M160.0,99.8 C168.8,100.4 195.9,101.5 212.5,103.3 C229.1,105.0 247.1,107.4 259.4,110.3 C271.6,113.2 280.3,117.1 286.0,120.5 C291.7,123.9 294.1,127.5 293.8,130.6 C293.5,133.7 290.1,136.7 284.4,139.2 C278.7,141.7 275.0,143.4 259.4,145.5 C243.8,147.6 202.1,150.7 190.6,151.7" fill="none" stroke="#33cc11" stroke-width="1.0" /><path d="M45.4,86.0 C50.3,86.8 64.2,88.8 75.0,90.5 C85.8,92.2 97.5,94.1 110.0,96.0 C122.5,97.9 135.5,100.1 150.0,101.7 C164.5,103.3 183.4,104.2 196.9,105.6 C210.4,107.0 222.6,108.6 231.2,110.3 C239.8,112.0 244.7,114.1 248.4,115.8 C252.1,117.5 253.7,118.7 253.4,120.5 C253.2,122.3 252.4,124.2 246.9,126.7 C241.4,129.2 229.6,132.7 220.3,135.3 C211.1,137.9 196.2,141.1 191.4,142.3" fill="none" stroke="#33cc11" stroke-width="1.0" /><path d="M10,86.8 L33.3,88.4 L10,90.5" fill="none" stroke="#33cc11" stroke-width="1.0" /><path d="M74.6,90.8 C74.5,110 73,128 70.9,141.1 C55,146 30,147 10,145.2" fill="none" stroke="#33cc11" stroke-width="1.0" /><path d="M70.9,141.5 L97.2,143.6 M10,157 L97.2,157" fill="none" stroke="#33cc11" stroke-width="1.0" /><path d="M97,112.5 C120,108.5 140,105.5 160,104.3 C172,104.6 182,106.6 191.4,109.5 C193,115 193,122 192.5,126 C192,138 190.5,150 187.5,160.3 C178,163.2 166,164.3 150,164.2 C130,164 112,161.5 97.3,158.2 Z" fill="none" stroke="#33cc11" stroke-width="1.0" /><circle cx="31.3" cy="173.6" r="10.9" fill="none" stroke="#33cc11" stroke-width="1.0" /><circle cx="31.3" cy="173.6" r="6.8" fill="none" stroke="#33cc11" stroke-width="1.0" /><line x1="31.3" y1="157.0" x2="31.3" y2="162.7" stroke="#33cc11" stroke-width="1.0" /><clipPath id="cw"><rect x="10" y="150" width="30" height="40"/></clipPath><g clip-path="url(#cw)"><circle cx="5.2" cy="173.6" r="10.9" fill="none" stroke="#33cc11" stroke-width="1.0" /><circle cx="5.2" cy="173.6" r="6.8" fill="none" stroke="#33cc11" stroke-width="1.0" /></g><circle cx="457.0" cy="173.5" r="9.3" fill="none" stroke="#33cc11" stroke-width="1.0" /><circle cx="457.0" cy="173.5" r="5.4" fill="none" stroke="#33cc11" stroke-width="1.0" /><line x1="457.0" y1="146.0" x2="457.0" y2="164.2" stroke="#33cc11" stroke-width="1.0" /><path d="M282.2,216.6 L378.0,196.4 L480.4,196.2 L480.4,202.3 L381.0,202.4 L282.2,223.4 Z" fill="#fff" stroke="none" stroke-width="0" /><path d="M536.0,195.2 L845.0,193.4 L850.0,189.0 L850.0,181.0 L857.6,181.0 L857.6,189.0 L852.0,199.0 L845.0,200.4 L536.0,202.2 Z" fill="#fff" stroke="none" stroke-width="0" /><line x1="282.2" y1="200.3" x2="380.0" y2="199.3" stroke="#ff14e6" stroke-width="1.4" /><line x1="380.0" y1="199.2" x2="480.4" y2="198.6" stroke="#ff14e6" stroke-width="1.4" /><line x1="536.0" y1="197.8" x2="615.5" y2="197.6" stroke="#ff14e6" stroke-width="1.4" /><path d="M282.2,216.6 L378.0,196.4 L480.4,196.2" fill="none" stroke="#3558ff" stroke-width="1.1" /><path d="M282.2,223.4 L381.0,202.4 L480.4,202.3" fill="none" stroke="#3558ff" stroke-width="1.1" /><path d="M282.2,218.3 L379.0,197.9" fill="none" stroke="#7f9bff" stroke-width="0.7" /><path d="M282.2,221.8 L380.0,201.0" fill="none" stroke="#7f9bff" stroke-width="0.7" /><line x1="282.2" y1="220.0" x2="379.5" y2="199.6" stroke="#999" stroke-width="0.7" stroke-dasharray="6 3"/><line x1="298.0" y1="213.3" x2="299.4" y2="219.9" stroke="#3558ff" stroke-width="0.8" /><line x1="305.0" y1="211.8" x2="306.4" y2="218.4" stroke="#3558ff" stroke-width="0.8" /><line x1="312.0" y1="210.3" x2="313.4" y2="216.9" stroke="#3558ff" stroke-width="0.8" /><line x1="372.0" y1="197.5" x2="373.4" y2="204.0" stroke="#3558ff" stroke-width="0.8" /><line x1="379.5" y1="196.3" x2="379.8" y2="203.0" stroke="#3558ff" stroke-width="0.9" /><line x1="388.0" y1="196.3" x2="388.0" y2="202.3" stroke="#3558ff" stroke-width="0.8" /><line x1="536.0" y1="195.2" x2="845.0" y2="193.4" stroke="#3558ff" stroke-width="1.2" /><line x1="536.0" y1="202.2" x2="845.0" y2="200.4" stroke="#3558ff" stroke-width="1.2" /><line x1="536.0" y1="196.4" x2="845.0" y2="194.7" stroke="#8aa4ff" stroke-width="0.7" /><line x1="536.0" y1="201.0" x2="845.0" y2="199.2" stroke="#8aa4ff" stroke-width="0.7" /><line x1="622.0" y1="198.2" x2="845.0" y2="196.9" stroke="#999" stroke-width="0.8" stroke-dasharray="7 3"/><ellipse cx="619.3" cy="195.2" rx="1.7" ry="4.6" fill="#fff" stroke="#3a20e0" stroke-width="0.8" transform="rotate(28 619.3 195.2)"/><line x1="838.0" y1="193.5" x2="838.4" y2="200.4" stroke="#3558ff" stroke-width="0.8" /><rect x="205.3" y="183.0" width="76.9" height="59.4" fill="#fff" stroke="none" stroke-width="1" /><path d="M205.3,183.5 H219 V191 H212.8 V234.5 H274.5 V191 H268.6 V183.5 H282.2 V242.4 H205.3 Z" fill="#7e7e7e" stroke="#6f8fff" stroke-width="0.8" /><rect x="219.6" y="164.3" width="17.0" height="19.7" fill="#3558ff" stroke="none" stroke-width="1" /><rect x="219.0" y="163.8" width="18.2" height="1.5" fill="#3558ff" stroke="none" stroke-width="1" /><rect x="224.2" y="167.0" width="2.3" height="14.6" fill="#fff" stroke="none" stroke-width="1" /><rect x="228.8" y="167.0" width="1.9" height="14.6" fill="#fff" stroke="none" stroke-width="1" /><rect x="232.2" y="167.0" width="1.6" height="14.6" fill="#fff" stroke="none" stroke-width="1" /><rect x="225.8" y="168.0" width="1.2" height="6.0" fill="#3558ff" stroke="none" stroke-width="1" /><rect x="229.2" y="170.0" width="1.0" height="9.0" fill="#3558ff" stroke="none" stroke-width="1" /><rect x="250.6" y="164.3" width="16.8" height="19.7" fill="#3558ff" stroke="none" stroke-width="1" /><rect x="250.0" y="163.8" width="18.0" height="1.5" fill="#3558ff" stroke="none" stroke-width="1" /><rect x="255.2" y="167.0" width="2.3" height="14.6" fill="#fff" stroke="none" stroke-width="1" /><rect x="259.8" y="167.0" width="1.9" height="14.6" fill="#fff" stroke="none" stroke-width="1" /><rect x="263.2" y="167.0" width="1.6" height="14.6" fill="#fff" stroke="none" stroke-width="1" /><rect x="256.8" y="168.0" width="1.2" height="6.0" fill="#3558ff" stroke="none" stroke-width="1" /><rect x="260.2" y="170.0" width="1.0" height="9.0" fill="#3558ff" stroke="none" stroke-width="1" /><rect x="218.8" y="183.5" width="50.0" height="11.0" fill="#3558ff" stroke="none" stroke-width="1" /><rect x="236.6" y="185.5" width="3.6" height="9.0" fill="#fff" stroke="none" stroke-width="1" /><rect x="246.4" y="185.5" width="4.2" height="9.0" fill="#fff" stroke="none" stroke-width="1" /><rect x="219.6" y="194.0" width="17.0" height="40.2" fill="#3558ff" stroke="none" stroke-width="1" /><rect x="224.0" y="187.2" width="8.6" height="6.0" fill="#fff" stroke="none" stroke-width="1" /><rect x="226.0" y="187.2" width="1.2" height="6.0" fill="#3558ff" stroke="none" stroke-width="1" /><rect x="229.2" y="187.2" width="1.2" height="6.0" fill="#3558ff" stroke="none" stroke-width="1" /><rect x="227.2" y="189.8" width="2.0" height="0.9" fill="#3558ff" stroke="none" stroke-width="1" /><rect x="222.2" y="196.5" width="1.1" height="10.0" fill="#fff" stroke="none" stroke-width="1" /><rect x="224.8" y="196.5" width="1.1" height="10.0" fill="#fff" stroke="none" stroke-width="1" /><rect x="227.4" y="196.5" width="1.1" height="10.0" fill="#fff" stroke="none" stroke-width="1" /><rect x="230.0" y="196.5" width="1.1" height="10.0" fill="#fff" stroke="none" stroke-width="1" /><rect x="232.6" y="196.5" width="1.1" height="10.0" fill="#fff" stroke="none" stroke-width="1" /><rect x="221.1" y="200.5" width="14.0" height="1.1" fill="#3558ff" stroke="none" stroke-width="1" /><rect x="221.1" y="218.0" width="0.9" height="6.0" fill="#cfd8ff" stroke="none" stroke-width="1" /><rect x="223.7" y="218.0" width="0.9" height="6.0" fill="#cfd8ff" stroke="none" stroke-width="1" /><rect x="226.3" y="218.0" width="0.9" height="6.0" fill="#cfd8ff" stroke="none" stroke-width="1" /><rect x="228.9" y="218.0" width="0.9" height="6.0" fill="#cfd8ff" stroke="none" stroke-width="1" /><rect x="231.5" y="218.0" width="0.9" height="6.0" fill="#cfd8ff" stroke="none" stroke-width="1" /><rect x="234.1" y="218.0" width="0.9" height="6.0" fill="#cfd8ff" stroke="none" stroke-width="1" /><ellipse cx="224.6" cy="226.8" rx="1.9" ry="3.0" fill="#fff" stroke="none" stroke-width="0" /><ellipse cx="231.8" cy="226.8" rx="1.9" ry="3.0" fill="#fff" stroke="none" stroke-width="0" /><rect x="220.6" y="231.5" width="15.0" height="1.0" fill="#fff" stroke="none" stroke-width="1" /><rect x="250.6" y="194.0" width="17.0" height="40.2" fill="#3558ff" stroke="none" stroke-width="1" /><rect x="255.0" y="187.2" width="8.6" height="6.0" fill="#fff" stroke="none" stroke-width="1" /><rect x="257.0" y="187.2" width="1.2" height="6.0" fill="#3558ff" stroke="none" stroke-width="1" /><rect x="260.2" y="187.2" width="1.2" height="6.0" fill="#3558ff" stroke="none" stroke-width="1" /><rect x="258.2" y="189.8" width="2.0" height="0.9" fill="#3558ff" stroke="none" stroke-width="1" /><rect x="253.2" y="196.5" width="1.1" height="10.0" fill="#fff" stroke="none" stroke-width="1" /><rect x="255.8" y="196.5" width="1.1" height="10.0" fill="#fff" stroke="none" stroke-width="1" /><rect x="258.4" y="196.5" width="1.1" height="10.0" fill="#fff" stroke="none" stroke-width="1" /><rect x="261.0" y="196.5" width="1.1" height="10.0" fill="#fff" stroke="none" stroke-width="1" /><rect x="263.6" y="196.5" width="1.1" height="10.0" fill="#fff" stroke="none" stroke-width="1" /><rect x="252.1" y="200.5" width="14.0" height="1.1" fill="#3558ff" stroke="none" stroke-width="1" /><rect x="252.1" y="218.0" width="0.9" height="6.0" fill="#cfd8ff" stroke="none" stroke-width="1" /><rect x="254.7" y="218.0" width="0.9" height="6.0" fill="#cfd8ff" stroke="none" stroke-width="1" /><rect x="257.3" y="218.0" width="0.9" height="6.0" fill="#cfd8ff" stroke="none" stroke-width="1" /><rect x="259.9" y="218.0" width="0.9" height="6.0" fill="#cfd8ff" stroke="none" stroke-width="1" /><rect x="262.5" y="218.0" width="0.9" height="6.0" fill="#cfd8ff" stroke="none" stroke-width="1" /><rect x="265.1" y="218.0" width="0.9" height="6.0" fill="#cfd8ff" stroke="none" stroke-width="1" /><ellipse cx="255.6" cy="226.8" rx="1.9" ry="3.0" fill="#fff" stroke="none" stroke-width="0" /><ellipse cx="262.8" cy="226.8" rx="1.9" ry="3.0" fill="#fff" stroke="none" stroke-width="0" /><rect x="251.6" y="231.5" width="15.0" height="1.0" fill="#fff" stroke="none" stroke-width="1" /><rect x="240.3" y="185.5" width="6.0" height="48.7" fill="#fff" stroke="none" stroke-width="1" /><line x1="240.6" y1="185.5" x2="240.6" y2="234.2" stroke="#3558ff" stroke-width="1" /><line x1="246.0" y1="185.5" x2="246.0" y2="234.2" stroke="#3558ff" stroke-width="1" /><rect x="240.6" y="186.5" width="5.4" height="1.4" fill="#3558ff" stroke="none" stroke-width="1" /><rect x="240.6" y="190.0" width="5.4" height="1.4" fill="#3558ff" stroke="none" stroke-width="1" /><rect x="240.6" y="193.5" width="5.4" height="1.4" fill="#3558ff" stroke="none" stroke-width="1" /><rect x="240.6" y="197.0" width="5.4" height="1.4" fill="#3558ff" stroke="none" stroke-width="1" /><rect x="240.6" y="200.5" width="5.4" height="1.4" fill="#3558ff" stroke="none" stroke-width="1" /><rect x="240.6" y="204.0" width="5.4" height="1.4" fill="#3558ff" stroke="none" stroke-width="1" /><rect x="240.6" y="207.5" width="5.4" height="1.4" fill="#3558ff" stroke="none" stroke-width="1" /><rect x="240.6" y="211.0" width="5.4" height="1.4" fill="#3558ff" stroke="none" stroke-width="1" /><rect x="240.6" y="214.5" width="5.4" height="1.4" fill="#3558ff" stroke="none" stroke-width="1" /><rect x="240.6" y="218.0" width="5.4" height="1.4" fill="#3558ff" stroke="none" stroke-width="1" /><rect x="240.6" y="221.5" width="5.4" height="1.4" fill="#3558ff" stroke="none" stroke-width="1" /><rect x="240.6" y="225.0" width="5.4" height="1.4" fill="#3558ff" stroke="none" stroke-width="1" /><rect x="240.6" y="228.5" width="5.4" height="1.4" fill="#3558ff" stroke="none" stroke-width="1" /><rect x="240.6" y="232.0" width="5.4" height="1.4" fill="#3558ff" stroke="none" stroke-width="1" /><rect x="237.3" y="194.5" width="2.1" height="39.7" fill="#8aa0ff" stroke="none" stroke-width="1" /><rect x="247.2" y="194.5" width="2.4" height="39.7" fill="#8aa0ff" stroke="none" stroke-width="1" /><rect x="270.0" y="191.8" width="3.4" height="41.7" fill="#9fb2ff" stroke="none" stroke-width="1" /><rect x="270.6" y="193.0" width="1.6" height="12.0" fill="#3558ff" stroke="none" stroke-width="1" /><rect x="213.2" y="195.0" width="1.2" height="35.0" fill="#b8c6ff" stroke="none" stroke-width="1" /><line x1="170.0" y1="212.0" x2="213.0" y2="212.0" stroke="#ff1a28" stroke-width="0.9" /><line x1="213.0" y1="212.0" x2="250.0" y2="212.0" stroke="#ff7f88" stroke-width="1.2" /><line x1="257.0" y1="230.0" x2="290.0" y2="246.5" stroke="#ff1a28" stroke-width="0.8" stroke-dasharray="2 1"/><circle cx="252.5" cy="228.5" r="1.0" fill="#ff1a28" stroke="#ff1a28" stroke-width="0" /><circle cx="256.0" cy="229.5" r="0.8" fill="#ff1a28" stroke="#ff1a28" stroke-width="0" /><rect x="480.4" y="182.2" width="55.6" height="48.5" fill="#fff" stroke="none" stroke-width="1" /><path d="M480.4,182.2 H493 V188 H488 V223 H528.5 V188 H516.5 V182.2 H536 V230.7 H480.4 Z" fill="#7e7e7e" stroke="#ff8fa0" stroke-width="0.8" /><rect x="506.2" y="162.7" width="9.2" height="25.3" fill="#ff5a78" stroke="none" stroke-width="1" /><rect x="505.6" y="162.4" width="10.4" height="1.6" fill="#ff5a78" stroke="none" stroke-width="1" /><rect x="508.6" y="167.5" width="4.2" height="0.9" fill="#fff" stroke="none" stroke-width="1" /><rect x="508.6" y="171.0" width="4.2" height="0.8" fill="#fff" stroke="none" stroke-width="1" /><rect x="510.2" y="173.0" width="0.8" height="8.0" fill="#fff" stroke="none" stroke-width="1" /><rect x="493.0" y="182.5" width="13.2" height="7.5" fill="#fff" stroke="#ff8fa0" stroke-width="0.6" /><rect x="488.5" y="189.5" width="14.5" height="33.0" fill="#fff" stroke="#ff5a78" stroke-width="0.9" stroke-dasharray="3 1.2"/><rect x="503.0" y="186.0" width="13.5" height="37.0" fill="#ff5a78" stroke="none" stroke-width="1" /><rect x="509.3" y="186.0" width="3.2" height="14.0" fill="#fff" stroke="none" stroke-width="1" /><rect x="508.0" y="202.0" width="5.8" height="16.5" fill="#fff" stroke="none" stroke-width="1" /><rect x="504.2" y="196.0" width="3.4" height="23.0" fill="#ffc0cc" stroke="none" stroke-width="1" /><rect x="517.5" y="190.0" width="10.1" height="32.5" fill="#fff" stroke="#ff5a78" stroke-width="0.9" stroke-dasharray="3 1.2"/><rect x="516.5" y="192.0" width="3.0" height="29.0" fill="#ff9db0" stroke="none" stroke-width="1" /><line x1="488.5" y1="223.0" x2="528.0" y2="223.0" stroke="#ff5a78" stroke-width="1.2" /><line x1="470.0" y1="207.3" x2="489.0" y2="207.3" stroke="#ff1a28" stroke-width="0.8" /><line x1="489.0" y1="207.3" x2="499.0" y2="224.0" stroke="#ff1a28" stroke-width="0.8" /><line x1="472.0" y1="217.0" x2="482.0" y2="217.0" stroke="#ff1a28" stroke-width="0.8" /><line x1="482.0" y1="217.0" x2="491.0" y2="226.0" stroke="#ff1a28" stroke-width="0.8" opacity="0.6"/><text x="170.4" y="210.6" font-size="3.5" fill="#4608ff" font-weight="bold" stroke="#4608ff" stroke-width="0.32" textLength="27.0" lengthAdjust="spacingAndGlyphs" >INCOMING PCA DUCT</text><text x="170.4" y="214.4" font-size="3.5" fill="#4608ff" font-weight="bold" stroke="#4608ff" stroke-width="0.32" textLength="22.0" lengthAdjust="spacingAndGlyphs" >ENTRY @ PCA PIT</text><text x="170.4" y="218.6" font-size="3.5" fill="#4608ff" font-weight="bold" stroke="#4608ff" stroke-width="0.32" textLength="14.0" lengthAdjust="spacingAndGlyphs" >IL= -0.865</text><text x="232.3" y="254.4" font-size="3.6" fill="#4608ff" font-weight="bold" stroke="#4608ff" stroke-width="0.32" textLength="23.5" lengthAdjust="spacingAndGlyphs" >4xPCA PIT</text><text x="173.4" y="174.4" font-size="3.6" fill="#4608ff" font-weight="bold" stroke="#4608ff" stroke-width="0.32" textLength="15.0" lengthAdjust="spacingAndGlyphs" >FFL=2.435</text><text x="173.4" y="178.8" font-size="3.6" fill="#4608ff" font-weight="bold" stroke="#4608ff" stroke-width="0.32" textLength="13.0" lengthAdjust="spacingAndGlyphs" >(APRON)</text><line x1="173.4" y1="179.6" x2="192.6" y2="179.6" stroke="#111" stroke-width="0.7" /><path d="M187.2,179.8 L192.4,179.8 L189.8,183.2 Z" fill="none" stroke="#111" stroke-width="0.8" /><text x="300.0" y="174.4" font-size="3.6" fill="#4608ff" font-weight="bold" stroke="#4608ff" stroke-width="0.32" textLength="15.0" lengthAdjust="spacingAndGlyphs" >FFL=2.435</text><text x="300.0" y="178.8" font-size="3.6" fill="#4608ff" font-weight="bold" stroke="#4608ff" stroke-width="0.32" textLength="13.0" lengthAdjust="spacingAndGlyphs" >(APRON)</text><line x1="292.0" y1="179.6" x2="315.0" y2="179.6" stroke="#111" stroke-width="0.7" /><path d="M292.4,179.8 L297.6,179.8 L295.0,183.2 Z" fill="none" stroke="#111" stroke-width="0.8" /><text x="713.0" y="170.8" font-size="3.4" fill="#4608ff" font-weight="bold" stroke="#4608ff" stroke-width="0.31" textLength="15.5" lengthAdjust="spacingAndGlyphs" >FFL=2.435</text><text x="713.0" y="175.6" font-size="3.4" fill="#4608ff" font-weight="bold" stroke="#4608ff" stroke-width="0.31" textLength="13.0" lengthAdjust="spacingAndGlyphs" >(APRON)</text><line x1="713.0" y1="177.7" x2="735.0" y2="177.7" stroke="#111" stroke-width="0.6" /><path d="M729.8,178.0 L733.8,178.0 L731.8,181.2 Z" fill="none" stroke="#111" stroke-width="0.6" /><text x="205.0" y="177.6" font-size="2.6" fill="#111" font-weight="bold" stroke="#111" stroke-width="0.23" textLength="7.5" lengthAdjust="spacingAndGlyphs" >TOC FL</text><path d="M204.0,178.0 L207.2,183.6" fill="none" stroke="#111" stroke-width="0.6" /><text x="279.5" y="180.0" font-size="2.6" fill="#111" font-weight="bold" stroke="#111" stroke-width="0.23" textLength="7.5" lengthAdjust="spacingAndGlyphs" >TOC FL</text><path d="M270.3,183.4 L279.0,179.6" fill="none" stroke="#111" stroke-width="0.6" /><text x="387.5" y="218.6" font-size="3.4" fill="#4608ff" font-weight="bold" stroke="#4608ff" stroke-width="0.31" textLength="30.0" lengthAdjust="spacingAndGlyphs" >45° ELBOW REQUIRED</text><text x="387.5" y="222.9" font-size="3.4" fill="#4608ff" font-weight="bold" stroke="#4608ff" stroke-width="0.31" textLength="34.0" lengthAdjust="spacingAndGlyphs" >TO ALIGN THE DUCTING</text><path d="M307.3,216.0 L319.0,223.8 L421.6,223.8" fill="none" stroke="#ff1a28" stroke-width="0.9" /><line x1="380.6" y1="199.0" x2="380.6" y2="223.8" stroke="#ff1a28" stroke-width="0.9" /><text x="299.4" y="245.6" font-size="3.4" fill="#4608ff" font-weight="bold" stroke="#4608ff" stroke-width="0.31" textLength="30.0" lengthAdjust="spacingAndGlyphs" >45° ELBOW REQUIRED</text><text x="299.4" y="249.6" font-size="3.4" fill="#4608ff" font-weight="bold" stroke="#4608ff" stroke-width="0.31" textLength="34.5" lengthAdjust="spacingAndGlyphs" >TO ALIGN THE DUCTING</text><path d="M282.5,242.8 L294.6,250.3 L335.7,250.3" fill="none" stroke="#ff1a28" stroke-width="0.9" /><line x1="333.8" y1="219.3" x2="356.2" y2="214.6" stroke="#ff1a28" stroke-width="0.9" /><path d="M333.8,219.3 L338.6,217.2 L338.9,219.3 Z" fill="#ff1a28" stroke="#ff1a28" stroke-width="0.5" /><text x="341.0" y="216.2" font-size="3.2" fill="#4608ff" font-weight="bold" stroke="#4608ff" stroke-width="0.29" textLength="9.0" lengthAdjust="spacingAndGlyphs" transform="rotate(-12 341 216.2)">SLOPE</text><text x="451.0" y="209.0" font-size="3.4" fill="#4608ff" font-weight="bold" stroke="#4608ff" stroke-width="0.31" textLength="15.0" lengthAdjust="spacingAndGlyphs" >SLOPE 2%</text><text x="451.0" y="218.3" font-size="3.4" fill="#4608ff" font-weight="bold" stroke="#4608ff" stroke-width="0.31" textLength="17.0" lengthAdjust="spacingAndGlyphs" >SUMP PUMP</text><text x="461.0" y="174.2" font-size="3.4" fill="#4608ff" font-weight="bold" stroke="#4608ff" stroke-width="0.31" textLength="14.5" lengthAdjust="spacingAndGlyphs" >SLOPE 2%</text><path d="M475.7,173.0 L479.0,173.0 L483.5,182.5" fill="none" stroke="#ff1a28" stroke-width="0.9" /><text x="536.6" y="174.2" font-size="3.4" fill="#4608ff" font-weight="bold" stroke="#4608ff" stroke-width="0.31" textLength="14.5" lengthAdjust="spacingAndGlyphs" >SLOPE 2%</text><path d="M536.0,173.0 L532.5,173.0 L528.0,182.5" fill="none" stroke="#ff1a28" stroke-width="0.9" /><text x="500.0" y="242.4" font-size="3.6" fill="#4608ff" font-weight="bold" stroke="#4608ff" stroke-width="0.32" textLength="23.5" lengthAdjust="spacingAndGlyphs" >400Hz PIT</text><text x="499.5" y="247.8" font-size="3.6" fill="#4608ff" font-weight="bold" stroke="#4608ff" stroke-width="0.32" textLength="24.5" lengthAdjust="spacingAndGlyphs" >(4x90kVA)</text><text x="579.0" y="205.6" font-size="3.2" fill="#4608ff" font-weight="bold" stroke="#4608ff" stroke-width="0.29" textLength="8.5" lengthAdjust="spacingAndGlyphs" >SLOPE</text><line x1="568.8" y1="206.2" x2="591.4" y2="206.2" stroke="#ff1a28" stroke-width="0.9" /><path d="M568.8,206.2 L573.0,205.0 L573.0,207.4 Z" fill="#ff1a28" stroke="#ff1a28" stroke-width="0.4" /><text x="646.6" y="168.4" font-size="3.4" fill="#4608ff" font-weight="bold" stroke="#4608ff" stroke-width="0.31" textLength="36.5" lengthAdjust="spacingAndGlyphs" >CONTROL CABLE TO THE</text><text x="646.6" y="172.7" font-size="3.4" fill="#4608ff" font-weight="bold" stroke="#4608ff" stroke-width="0.31" textLength="43.0" lengthAdjust="spacingAndGlyphs" >TECH. ROOM BY OTHERS REF</text><text x="646.6" y="177.0" font-size="3.4" fill="#4608ff" font-weight="bold" stroke="#4608ff" stroke-width="0.31" textLength="47.0" lengthAdjust="spacingAndGlyphs" >RELEVANT SERVICE DWG. (TYP.)</text><path d="M621.5,190.5 L638.0,167.3 L646.0,167.3" fill="none" stroke="#ff1a28" stroke-width="0.9" /><rect x="836.9" y="96.3" width="129.1" height="90.7" fill="#fff" stroke="none" stroke-width="1" /><rect x="831.7" y="96.3" width="139.1" height="4.3" fill="#7e7e7e" stroke="none" stroke-width="1" /><path d="M897.1,101.4h1.1M842.8,101.6l1.5,0.5M915.4,100.9h1.0M895.8,102.0h0.7M855.2,101.6l-1.7,-0.6M887.7,102.0h0.8M922.2,102.0h0.7M873.7,101.1h1.1M865.7,102.2l1.5,0.3M900.5,100.8h1.1M855.3,101.8h0.9M948.5,101.1h0.7M906.2,100.8h0.9M951.6,101.5h1.0M853.1,101.7h1.0M956.0,100.9h1.0M859.8,101.2l1.3,-0.0M926.0,102.3h1.0M847.1,101.4h1.0M934.2,100.9h1.1M911.5,101.5h1.2M910.4,100.8l-0.8,0.9M867.4,101.5h0.7M916.9,101.0l2.0,0.2M938.1,101.6l0.0,1.2M892.6,101.2l-1.3,0.6M944.3,101.4h0.7M942.3,101.2h1.2M862.6,102.3l-1.0,-0.5M849.2,101.1h1.0M957.0,101.4h0.9M858.3,100.9h1.0M849.8,101.5l0.1,-0.9M947.6,101.1l0.3,-1.2M900.8,101.0h0.9M862.6,101.8h1.1M868.5,100.8h0.9M908.6,101.4h0.9M954.6,101.7l2.2,0.2M947.8,101.7h0.9M950.2,100.9h0.9M877.7,102.0l1.5,0.7M896.0,101.6h0.6M913.7,101.4l0.2,1.2M928.8,101.8l1.8,0.2M915.0,101.9h0.6M864.5,101.8h0.6M884.2,101.6h0.6M934.3,101.3l2.2,0.1M912.2,102.4l0.6,-0.7M883.5,101.2l0.5,0.8M855.2,101.0l1.6,-0.1M930.2,101.5h0.8M917.5,101.2h0.9M865.5,101.5l1.3,0.1M937.2,100.9h1.1M914.0,101.2h0.8M877.7,102.1l0.5,-1.2M952.8,102.2l1.3,-0.2M879.8,101.2h0.9M883.3,102.1h0.7M874.9,101.5h0.9M894.4,101.1h0.8M862.3,101.7h1.0M920.4,101.0h0.8M895.2,101.8l1.4,-0.8M867.1,101.7h0.6M907.7,101.6l-0.9,1.1M903.2,101.0l-0.4,1.0M850.5,100.8l1.3,0.2" stroke="#5c5c5c" stroke-width="0.85" fill="none"/><line x1="837.0" y1="100.2" x2="966.0" y2="100.2" stroke="#14d2d2" stroke-width="1.0" /><line x1="842.0" y1="103.0" x2="961.4" y2="103.0" stroke="#14d2d2" stroke-width="1.1" /><line x1="842.0" y1="106.9" x2="961.4" y2="106.9" stroke="#999" stroke-width="0.8" /><rect x="831.7" y="100.6" width="9.5" height="7.8" fill="#7e7e7e" stroke="none" stroke-width="1" /><rect x="961.2" y="100.6" width="9.6" height="7.8" fill="#7e7e7e" stroke="none" stroke-width="1" /><rect x="833.5" y="102.5" width="2.5" height="4.0" fill="#fff" stroke="none" stroke-width="1" /><rect x="967.0" y="102.5" width="2.4" height="4.0" fill="#fff" stroke="none" stroke-width="1" /><rect x="836.9" y="100.0" width="4.2" height="76.6" fill="#7e7e7e" stroke="none" stroke-width="1" /><rect x="838.0" y="176.6" width="2.4" height="10.0" fill="#7e7e7e" stroke="none" stroke-width="1" /><rect x="963.0" y="100.0" width="3.2" height="76.6" fill="#7e7e7e" stroke="none" stroke-width="1" /><rect x="963.4" y="176.6" width="2.2" height="10.0" fill="#7e7e7e" stroke="none" stroke-width="1" /><line x1="841.9" y1="104.0" x2="841.9" y2="179.0" stroke="#14d2d2" stroke-width="1.2" /><line x1="961.6" y1="104.0" x2="961.6" y2="179.0" stroke="#14d2d2" stroke-width="1.2" /><rect x="838.6" y="178.0" width="126.0" height="3.0" fill="#14d2d2" stroke="none" stroke-width="1" /><line x1="838.6" y1="182.2" x2="964.6" y2="182.2" stroke="#888" stroke-width="0.9" /><rect x="838.8" y="181.0" width="3.2" height="6.4" fill="#14d2d2" stroke="none" stroke-width="1" /><rect x="960.6" y="181.0" width="3.2" height="6.4" fill="#14d2d2" stroke="none" stroke-width="1" /><rect x="837.2" y="119.0" width="3.9" height="52.7" fill="#8c9cff" stroke="#3558ff" stroke-width="0.9" /><line x1="839.2" y1="119.0" x2="839.2" y2="171.7" stroke="#3558ff" stroke-width="0.7" /><path d="M841.3,119.0 L852.0,124.8 L852.0,136.6 L846.5,150.0 L841.3,171.7 Z" fill="#8a8a8a" stroke="#777" stroke-width="0.5" /><rect x="858.3" y="124.4" width="6.2" height="12.2" fill="#fff" stroke="#111" stroke-width="0.9" /><rect x="860.6" y="128.6" width="1.6" height="4.0" fill="#fff" stroke="#111" stroke-width="0.7" /><line x1="852.0" y1="124.8" x2="945.0" y2="124.8" stroke="#3558ff" stroke-width="0.8" /><line x1="852.0" y1="136.6" x2="945.0" y2="136.6" stroke="#3558ff" stroke-width="1.6" /><rect x="890.3" y="124.8" width="39.9" height="11.0" fill="#787878" stroke="#3558ff" stroke-width="0.8" /><rect x="930.2" y="124.8" width="12.5" height="11.0" fill="#fff" stroke="#3558ff" stroke-width="0.8" /><rect x="895.5" y="132.5" width="1.9" height="3.5" fill="#3558ff" stroke="none" stroke-width="1" /><rect x="909.0" y="132.5" width="2.0" height="3.5" fill="#3558ff" stroke="none" stroke-width="1" /><rect x="912.5" y="122.8" width="5.0" height="1.7" fill="#222" stroke="none" stroke-width="1" /><line x1="897.3" y1="121.3" x2="967.7" y2="121.3" stroke="#ff14e6" stroke-width="2.2" /><line x1="930.0" y1="124.8" x2="961.0" y2="124.8" stroke="#14d2d2" stroke-width="2.0" /><line x1="955.3" y1="121.0" x2="955.3" y2="129.5" stroke="#ff14e6" stroke-width="1.3" /><line x1="952.5" y1="124.5" x2="952.5" y2="127.5" stroke="#14d2d2" stroke-width="1.3" /><line x1="958.8" y1="124.0" x2="958.8" y2="127.0" stroke="#14d2d2" stroke-width="1.2" /><circle cx="955.3" cy="130.0" r="0.9" fill="#ff14e6" stroke="#ff14e6" stroke-width="0" /><text x="899.5" y="120.6" font-size="2.8" fill="#4608ff" font-weight="bold" stroke="#4608ff" stroke-width="0.25" textLength="9.0" lengthAdjust="spacingAndGlyphs" >A.F.F.L</text><rect x="865.3" y="136.6" width="79.7" height="34.4" fill="#fff" stroke="#3558ff" stroke-width="1.4" /><path d="M869.5,140.5h2.4v1.8h-2.4zM869.5,148.9h2.4v1.8h-2.4zM869.5,157.3h2.4v1.8h-2.4zM869.5,165.7h2.4v1.8h-2.4zM876.0,140.5h2.4v1.8h-2.4zM876.0,148.9h2.4v1.8h-2.4zM876.0,157.3h2.4v1.8h-2.4zM876.0,165.7h2.4v1.8h-2.4zM882.5,140.5h2.4v1.8h-2.4zM882.5,148.9h2.4v1.8h-2.4zM882.5,157.3h2.4v1.8h-2.4zM882.5,165.7h2.4v1.8h-2.4zM889.0,140.5h2.4v1.8h-2.4zM889.0,148.9h2.4v1.8h-2.4zM889.0,157.3h2.4v1.8h-2.4zM889.0,165.7h2.4v1.8h-2.4zM895.5,140.5h2.4v1.8h-2.4zM895.5,148.9h2.4v1.8h-2.4zM895.5,157.3h2.4v1.8h-2.4zM895.5,165.7h2.4v1.8h-2.4zM902.0,140.5h2.4v1.8h-2.4zM902.0,148.9h2.4v1.8h-2.4zM902.0,157.3h2.4v1.8h-2.4zM902.0,165.7h2.4v1.8h-2.4zM908.5,140.5h2.4v1.8h-2.4zM908.5,148.9h2.4v1.8h-2.4zM908.5,157.3h2.4v1.8h-2.4zM908.5,165.7h2.4v1.8h-2.4zM915.0,140.5h2.4v1.8h-2.4zM915.0,148.9h2.4v1.8h-2.4zM915.0,157.3h2.4v1.8h-2.4zM915.0,165.7h2.4v1.8h-2.4zM921.5,140.5h2.4v1.8h-2.4zM921.5,148.9h2.4v1.8h-2.4zM921.5,157.3h2.4v1.8h-2.4zM921.5,165.7h2.4v1.8h-2.4zM928.0,140.5h2.4v1.8h-2.4zM928.0,148.9h2.4v1.8h-2.4zM928.0,157.3h2.4v1.8h-2.4zM928.0,165.7h2.4v1.8h-2.4zM934.5,140.5h2.4v1.8h-2.4zM934.5,148.9h2.4v1.8h-2.4zM934.5,157.3h2.4v1.8h-2.4zM934.5,165.7h2.4v1.8h-2.4zM941.0,140.5h2.4v1.8h-2.4zM941.0,148.9h2.4v1.8h-2.4zM941.0,157.3h2.4v1.8h-2.4zM941.0,165.7h2.4v1.8h-2.4z" fill="#7c7c7c"/><rect x="890.1" y="136.6" width="2.8" height="34.4" fill="#9db2ff" stroke="#3558ff" stroke-width="0.7" /><rect x="908.2" y="136.6" width="2.8" height="34.4" fill="#9db2ff" stroke="#3558ff" stroke-width="0.7" /><rect x="927.8" y="136.6" width="2.8" height="34.4" fill="#9db2ff" stroke="#3558ff" stroke-width="0.7" /><line x1="865.3" y1="153.8" x2="945.0" y2="153.8" stroke="#3558ff" stroke-width="1.5" /><line x1="865.3" y1="152.2" x2="945.0" y2="152.2" stroke="#8aa4ff" stroke-width="0.8" /><line x1="865.3" y1="169.3" x2="945.0" y2="169.3" stroke="#8aa4ff" stroke-width="1.0" /><line x1="897.0" y1="136.6" x2="897.0" y2="153.0" stroke="#999" stroke-width="2.2" /><text x="918.4" y="148.0" font-size="2.9" fill="#4608ff" font-weight="bold" stroke="#4608ff" stroke-width="0.26" textLength="18.5" lengthAdjust="spacingAndGlyphs" >PCA UNIT-01</text><text x="875.5" y="158.4" font-size="3" fill="#ff2a40" font-weight="normal" textLength="6.5" lengthAdjust="spacingAndGlyphs" >PCA</text><text x="875.3" y="162.6" font-size="3" fill="#ff2a40" font-weight="normal" textLength="9.5" lengthAdjust="spacingAndGlyphs" >UNIT-1</text><path d="M858.3,138 Q847.4,139 847.4,155.3 H853.5 Q853.8,145.6 858.3,145.2 Z" fill="#e8ecff" stroke="#3558ff" stroke-width="1.0" /><path d="M857,140.3 Q849.5,142 849.2,154 M856.5,142.6 Q851.4,144 851.2,154" fill="none" stroke="#3558ff" stroke-width="0.6" /><line x1="849.0" y1="147.0" x2="854.5" y2="149.6" stroke="#3558ff" stroke-width="0.6" /><line x1="852.0" y1="141.5" x2="855.6" y2="146.0" stroke="#3558ff" stroke-width="0.6" /><rect x="859.2" y="140.6" width="2.8" height="6.4" fill="#ff8a1e" stroke="none" stroke-width="1" /><rect x="862.0" y="139.6" width="2.4" height="8.4" fill="#bbb" stroke="#888" stroke-width="0.5" /><circle cx="853.6" cy="161.6" r="4.9" fill="#fff" stroke="#3558ff" stroke-width="1.0" /><line x1="848.7" y1="161.6" x2="858.5" y2="161.6" stroke="#3558ff" stroke-width="0.6" /><line x1="853.6" y1="156.7" x2="853.6" y2="166.5" stroke="#3558ff" stroke-width="0.6" /><rect x="859.2" y="158.4" width="2.8" height="6.2" fill="#ff8a1e" stroke="none" stroke-width="1" /><rect x="862.0" y="157.6" width="2.4" height="8.0" fill="#bbb" stroke="#888" stroke-width="0.5" /><rect x="849.7" y="167.2" width="7.8" height="3.2" fill="#3558ff" stroke="none" stroke-width="1" /><rect x="850.4" y="171.2" width="6.4" height="2.4" fill="#ff8a1e" stroke="none" stroke-width="1" /><rect x="849.6" y="173.6" width="8.0" height="1.4" fill="#222" stroke="none" stroke-width="1" /><rect x="862.2" y="169.4" width="1.4" height="4.0" fill="#e6e600" stroke="none" stroke-width="1" /><rect x="864.8" y="173.4" width="6.6" height="4.0" fill="#fff" stroke="#111" stroke-width="0.9" /><rect x="871.8" y="173.4" width="6.2" height="4.0" fill="#fff" stroke="#111" stroke-width="0.9" /><rect x="886.4" y="173.4" width="5.6" height="4.0" fill="#fff" stroke="#111" stroke-width="0.9" /><rect x="892.4" y="173.4" width="7.0" height="4.0" fill="#fff" stroke="#111" stroke-width="0.9" /><rect x="909.0" y="173.4" width="6.0" height="4.0" fill="#fff" stroke="#111" stroke-width="0.9" /><rect x="915.4" y="173.4" width="6.2" height="4.0" fill="#fff" stroke="#111" stroke-width="0.9" /><rect x="932.6" y="173.4" width="5.8" height="4.0" fill="#fff" stroke="#111" stroke-width="0.9" /><rect x="938.8" y="173.4" width="6.2" height="4.0" fill="#fff" stroke="#111" stroke-width="0.9" /><line x1="864.8" y1="173.2" x2="945.0" y2="173.2" stroke="#111" stroke-width="1.0" /><rect x="866.4" y="165.0" width="2.2" height="6.0" fill="#111" stroke="none" stroke-width="1" /><line x1="869.4" y1="160.8" x2="869.4" y2="177.0" stroke="#e01020" stroke-width="1.2" /><rect x="868.0" y="160.4" width="3.0" height="1.2" fill="#e01020" stroke="none" stroke-width="1" /><rect x="880.0" y="176.0" width="4.0" height="1.6" fill="#fff" stroke="#333" stroke-width="0.6" /><rect x="953.0" y="175.6" width="4.4" height="1.8" fill="#fff" stroke="#333" stroke-width="0.6" /><line x1="955.2" y1="171.3" x2="955.2" y2="175.6" stroke="#333" stroke-width="0.6" /><text x="873.0" y="117.2" font-size="3.2" fill="#111" font-weight="bold" stroke="#111" stroke-width="0.29" textLength="10.6" lengthAdjust="spacingAndGlyphs" >CODE F</text><text x="866.0" y="121.4" font-size="3.2" fill="#111" font-weight="bold" stroke="#111" stroke-width="0.29" textLength="25.0" lengthAdjust="spacingAndGlyphs" >TECHNICAL ROOM</text><rect x="850.0" y="175.0" width="7.6" height="17.0" fill="#fff" stroke="none" stroke-width="1" /><path d="M850,175 V189 Q850,193.4 845,193.4 M857.6,175 V189 Q857.6,200.2 845,200.4" fill="none" stroke="#3558ff" stroke-width="1.2" /><path d="M851.2,175 V189 Q851.2,194.6 845,194.7 M856.4,175 V189 Q856.4,198.8 845,199.2" fill="none" stroke="#8aa4ff" stroke-width="0.7" /><line x1="849.6" y1="186.0" x2="857.8" y2="186.0" stroke="#3558ff" stroke-width="0.8" /><line x1="849.6" y1="180.0" x2="857.8" y2="180.0" stroke="#3558ff" stroke-width="0.8" /><line x1="853.8" y1="176.0" x2="853.8" y2="190.0" stroke="#999" stroke-width="0.7" stroke-dasharray="3 2"/><text x="766.3" y="94.6" font-size="3.5" fill="#4608ff" font-weight="bold" stroke="#4608ff" stroke-width="0.32" textLength="39.5" lengthAdjust="spacingAndGlyphs" >AIR QUANTITY 4Kg/S WITH</text><text x="766.3" y="98.6" font-size="3.5" fill="#4608ff" font-weight="bold" stroke="#4608ff" stroke-width="0.32" textLength="42.0" lengthAdjust="spacingAndGlyphs" >FACE VELOCITY OF 1.5m/S.</text><text x="766.3" y="102.8" font-size="3.5" fill="#4608ff" font-weight="bold" stroke="#4608ff" stroke-width="0.32" textLength="44.5" lengthAdjust="spacingAndGlyphs" >@ PRESSURE DROP OF 50Kpa.</text><text x="766.3" y="107.9" font-size="3.5" fill="#4608ff" font-weight="bold" stroke="#4608ff" stroke-width="0.32" textLength="26.5" lengthAdjust="spacingAndGlyphs" >FRESH AIR INTAKE</text><text x="766.3" y="112.2" font-size="3.5" fill="#4608ff" font-weight="bold" stroke="#4608ff" stroke-width="0.32" textLength="25.5" lengthAdjust="spacingAndGlyphs" >DUCT 2500X1800</text><text x="766.3" y="116.5" font-size="3.5" fill="#4608ff" font-weight="bold" stroke="#4608ff" stroke-width="0.32" textLength="53.5" lengthAdjust="spacingAndGlyphs" >FOR CHILLED WATER VALVE PACKAGE</text><text x="766.3" y="121.3" font-size="3.5" fill="#4608ff" font-weight="bold" stroke="#4608ff" stroke-width="0.32" textLength="54.0" lengthAdjust="spacingAndGlyphs" >DETAILS REFER TO CHW/R VALVE &amp;</text><text x="766.3" y="125.4" font-size="3.5" fill="#4608ff" font-weight="bold" stroke="#4608ff" stroke-width="0.32" textLength="59.0" lengthAdjust="spacingAndGlyphs" >ACCESSORIES TYPICAL SECTION DRAWING</text><text x="766.3" y="129.4" font-size="3.5" fill="#4608ff" font-weight="bold" stroke="#4608ff" stroke-width="0.32" textLength="48.0" lengthAdjust="spacingAndGlyphs" >NO. C1088-CAC-A2H-SEC-001</text><text x="766.3" y="134.0" font-size="3.5" fill="#4608ff" font-weight="bold" stroke="#4608ff" stroke-width="0.32" textLength="47.0" lengthAdjust="spacingAndGlyphs" >Ø500 PCA DISTRIBUTION DUCT</text><text x="766.3" y="139.6" font-size="3.5" fill="#4608ff" font-weight="bold" stroke="#4608ff" stroke-width="0.32" textLength="44.0" lengthAdjust="spacingAndGlyphs" >FRESH AIR (FA) INTAKE SAND</text><text x="766.3" y="144.0" font-size="3.5" fill="#4608ff" font-weight="bold" stroke="#4608ff" stroke-width="0.32" textLength="44.0" lengthAdjust="spacingAndGlyphs" >TRAP LOUVRE (SL-2)&amp;INSECT</text><text x="766.3" y="148.1" font-size="3.5" fill="#4608ff" font-weight="bold" stroke="#4608ff" stroke-width="0.32" textLength="43.0" lengthAdjust="spacingAndGlyphs" >SCREEN BY MAIN CONTRACTOR</text><text x="766.3" y="153.1" font-size="3.5" fill="#4608ff" font-weight="bold" stroke="#4608ff" stroke-width="0.32" textLength="38.5" lengthAdjust="spacingAndGlyphs" >VOLUME CONTROL DAMPER</text><text x="766.3" y="157.1" font-size="3.5" fill="#4608ff" font-weight="bold" stroke="#4608ff" stroke-width="0.32" textLength="15.5" lengthAdjust="spacingAndGlyphs" >MOTORIZED.</text><text x="766.3" y="161.5" font-size="3.5" fill="#4608ff" font-weight="bold" stroke="#4608ff" stroke-width="0.32" textLength="56.0" lengthAdjust="spacingAndGlyphs" >FLEXIBLE HOSE CONNECTION BETWEEN</text><text x="766.3" y="165.6" font-size="3.5" fill="#4608ff" font-weight="bold" stroke="#4608ff" stroke-width="0.32" textLength="54.0" lengthAdjust="spacingAndGlyphs" >RISING CONDUIT &amp; PCA UNIT TYP.</text><text x="766.3" y="171.2" font-size="3.5" fill="#4608ff" font-weight="bold" stroke="#4608ff" stroke-width="0.32" textLength="54.0" lengthAdjust="spacingAndGlyphs" >PCA UNIT CONDENSATE DRAIN TO BE</text><text x="766.3" y="175.3" font-size="3.5" fill="#4608ff" font-weight="bold" stroke="#4608ff" stroke-width="0.32" textLength="50.0" lengthAdjust="spacingAndGlyphs" >CONNECTED WITH NEAREST FLOOR</text><text x="766.3" y="179.3" font-size="3.5" fill="#4608ff" font-weight="bold" stroke="#4608ff" stroke-width="0.32" textLength="51.0" lengthAdjust="spacingAndGlyphs" >DRAIN BY MAIN CONTRACTOR (TYP)</text><path d="M766.3,95.6 L808.3,95.6 L838.0,121.0" fill="none" stroke="#ff1a28" stroke-width="0.85" /><path d="M766.3,108.9 L814.3,108.9 L838.5,125.5" fill="none" stroke="#ff1a28" stroke-width="0.85" /><path d="M766.3,122.3 L825.3,122.3 L846.0,131.0" fill="none" stroke="#ff1a28" stroke-width="0.85" /><path d="M766.3,135.0 L813.3,135.0 L851.0,150.0" fill="none" stroke="#ff1a28" stroke-width="0.85" /><path d="M766.3,140.6 L813.3,140.6 L848.0,156.0" fill="none" stroke="#ff1a28" stroke-width="0.85" /><path d="M766.3,154.1 L824.3,154.1 L851.0,163.0" fill="none" stroke="#ff1a28" stroke-width="0.85" /><path d="M766.3,162.5 L822.3,162.5 L852.0,168.0" fill="none" stroke="#ff1a28" stroke-width="0.85" /><path d="M766.3,172.2 L822.3,172.2 L851.0,172.5" fill="none" stroke="#ff1a28" stroke-width="0.85" /><text x="867.5" y="90.2" font-size="3.5" fill="#4608ff" font-weight="bold" stroke="#4608ff" stroke-width="0.32" textLength="73.0" lengthAdjust="spacingAndGlyphs" >FRESH AIR INTAKE DUCT 750x300 WITH LINING</text><text x="867.5" y="94.5" font-size="3.5" fill="#4608ff" font-weight="bold" stroke="#4608ff" stroke-width="0.32" textLength="58.5" lengthAdjust="spacingAndGlyphs" >VOLUME CONTROL DAMPER (MOTORIZED)</text><path d="M867.0,89.2 L863.0,89.2 L852.5,124.0" fill="none" stroke="#ff1a28" stroke-width="0.85" /><path d="M867.0,93.4 L866.5,93.4 L859.5,124.0" fill="none" stroke="#ff1a28" stroke-width="0.85" /><text x="934.0" y="94.6" font-size="3.5" fill="#4608ff" font-weight="bold" stroke="#4608ff" stroke-width="0.32" textLength="27.5" lengthAdjust="spacingAndGlyphs" >SLAB WATER (REF)</text><path d="M961.6,95.8 L931.5,95.8 L926.0,103.5" fill="none" stroke="#ff1a28" stroke-width="0.85" /><text x="970.0" y="91.7" font-size="3.5" fill="#4608ff" font-weight="bold" stroke="#4608ff" stroke-width="0.32" textLength="38.5" lengthAdjust="spacingAndGlyphs" >800x1100 SYSTEM AC/FCU</text><text x="970.0" y="95.4" font-size="3.5" fill="#4608ff" font-weight="bold" stroke="#4608ff" stroke-width="0.32" textLength="37.0" lengthAdjust="spacingAndGlyphs" >DETAIL REFER  DWG NO.</text><text x="970.0" y="99.1" font-size="3.5" fill="#4608ff" font-weight="bold" stroke="#4608ff" stroke-width="0.32" textLength="42.0" lengthAdjust="spacingAndGlyphs" >C1088-CAC-A2H-SEC-001</text><text x="970.0" y="103.3" font-size="3.5" fill="#4608ff" font-weight="bold" stroke="#4608ff" stroke-width="0.32" textLength="32.0" lengthAdjust="spacingAndGlyphs" >BY MAIN CONTRACTOR</text><text x="970.0" y="110.5" font-size="3.5" fill="#4608ff" font-weight="bold" stroke="#4608ff" stroke-width="0.32" textLength="41.0" lengthAdjust="spacingAndGlyphs" >ACCESS DOOR (600X600MM)</text><text x="970.0" y="114.7" font-size="3.5" fill="#4608ff" font-weight="bold" stroke="#4608ff" stroke-width="0.32" textLength="41.5" lengthAdjust="spacingAndGlyphs" >IN FA DUCT SIDE WALL FOR</text><text x="970.0" y="118.4" font-size="3.5" fill="#4608ff" font-weight="bold" stroke="#4608ff" stroke-width="0.32" textLength="30.5" lengthAdjust="spacingAndGlyphs" >FA FILTER CLEANING.</text><text x="970.0" y="126.3" font-size="3.5" fill="#4608ff" font-weight="bold" stroke="#4608ff" stroke-width="0.32" textLength="38.5" lengthAdjust="spacingAndGlyphs" >Ø1000 FCU/ SUPPLY AIR</text><text x="970.0" y="130.7" font-size="3.5" fill="#4608ff" font-weight="bold" stroke="#4608ff" stroke-width="0.32" textLength="30.5" lengthAdjust="spacingAndGlyphs" >OUTLET (600X600-4)</text><text x="970.0" y="136.6" font-size="3.5" fill="#4608ff" font-weight="bold" stroke="#4608ff" stroke-width="0.32" textLength="22.0" lengthAdjust="spacingAndGlyphs" >FLEXIBLE HOSE</text><text x="970.0" y="140.3" font-size="3.5" fill="#4608ff" font-weight="bold" stroke="#4608ff" stroke-width="0.32" textLength="32.0" lengthAdjust="spacingAndGlyphs" >CONNECTION TYPICAL</text><text x="970.0" y="145.3" font-size="3.5" fill="#4608ff" font-weight="bold" stroke="#4608ff" stroke-width="0.32" textLength="37.0" lengthAdjust="spacingAndGlyphs" >Ø1000 45° ELBOW WITH</text><text x="970.0" y="149.0" font-size="3.5" fill="#4608ff" font-weight="bold" stroke="#4608ff" stroke-width="0.32" textLength="37.5" lengthAdjust="spacingAndGlyphs" >ACCESS DOOR AS INLET</text><text x="970.0" y="153.1" font-size="3.5" fill="#4608ff" font-weight="bold" stroke="#4608ff" stroke-width="0.32" textLength="42.0" lengthAdjust="spacingAndGlyphs" >FOR PCA UNIT CONNECTION.</text><text x="970.0" y="157.2" font-size="3.5" fill="#4608ff" font-weight="bold" stroke="#4608ff" stroke-width="0.32" textLength="34.5" lengthAdjust="spacingAndGlyphs" >150x50x5 I CHANNEL</text><text x="970.0" y="161.4" font-size="3.5" fill="#4608ff" font-weight="bold" stroke="#4608ff" stroke-width="0.32" textLength="33.0" lengthAdjust="spacingAndGlyphs" >STEEL BEAM FOR PCA</text><text x="970.0" y="165.0" font-size="3.5" fill="#4608ff" font-weight="bold" stroke="#4608ff" stroke-width="0.32" textLength="42.0" lengthAdjust="spacingAndGlyphs" >UNIT BY MAIN CONTRACTOR.</text><text x="976.0" y="171.0" font-size="3.5" fill="#4608ff" font-weight="bold" stroke="#4608ff" stroke-width="0.32" textLength="25.5" lengthAdjust="spacingAndGlyphs" >+0.00 (-0.000 FFL)</text><text x="976.0" y="175.8" font-size="3.5" fill="#4608ff" font-weight="bold" stroke="#4608ff" stroke-width="0.32" textLength="25.5" lengthAdjust="spacingAndGlyphs" >+0.00 (-0.300 SSL)</text><path d="M955.4,175.6 L955.4,171.4 L1001.4,171.4" fill="none" stroke="#222" stroke-width="0.7" /><path d="M966.4,176.9 L1001.4,176.9" fill="none" stroke="#222" stroke-width="0.7" /><path d="M966.0,176.9 L970.4,176.9" fill="none" stroke="#111" stroke-width="1.4" /><path d="M1008.0,92.8 L970.0,92.8 L962.0,97.5 L921.0,123.0" fill="none" stroke="#ff1a28" stroke-width="0.85" /><path d="M1011.0,111.6 L970.0,111.6 L950.0,111.6 L914.0,132.0" fill="none" stroke="#ff1a28" stroke-width="0.85" /><path d="M1006.0,127.4 L970.0,127.4 L955.0,127.4" fill="none" stroke="#ff1a28" stroke-width="0.85" /><path d="M1001.0,137.7 L970.0,137.7 L866.0,137.7 L861.0,142.0" fill="none" stroke="#ff1a28" stroke-width="0.85" /><path d="M1010.0,146.4 L970.0,146.4 L866.0,146.4 L855.0,150.0" fill="none" stroke="#ff1a28" stroke-width="0.85" /><path d="M1005.0,158.3 L970.0,158.3 L958.0,158.3 L936.0,170.0 L921.0,176.0" fill="none" stroke="#ff1a28" stroke-width="0.85" /><path d="M962.0,97.5 L905.0,123.5" fill="none" stroke="#ff1a28" stroke-width="0.85" /><path d="M851.0,124.0 L880.0,139.0 L902.0,151.0" fill="none" stroke="#ff1a28" stroke-width="0.85" /><path d="M856.0,150.0 L876.0,132.0 L961.0,132.0" fill="none" stroke="#ff1a28" stroke-width="0.85" /><text x="767.6" y="206.1" font-size="3.5" fill="#4608ff" font-weight="bold" stroke="#4608ff" stroke-width="0.32" textLength="50.0" lengthAdjust="spacingAndGlyphs" >Ø1000 PRE-INSULATED PCA DUCT</text><text x="767.6" y="210.3" font-size="3.5" fill="#4608ff" font-weight="bold" stroke="#4608ff" stroke-width="0.32" textLength="46.0" lengthAdjust="spacingAndGlyphs" >(SEE CLIENT ENGINEER FOR AP.</text><path d="M767.6,207.0 L821.5,207.0 L830.9,201.4" fill="none" stroke="#ff1a28" stroke-width="0.9" /><text x="864.0" y="203.5" font-size="3.4" fill="#5a3cff" font-weight="normal" textLength="87.0" lengthAdjust="spacingAndGlyphs" >STAND 01 PCA UNITS PLANTROOM - SEC. SIDE ELEVATION</text><text x="884.0" y="208.4" font-size="3.4" fill="#5a3cff" font-weight="normal" textLength="46.0" lengthAdjust="spacingAndGlyphs" >(CODE F: TECHNICAL ROOM)</text><line x1="864.0" y1="204.4" x2="951.0" y2="204.4" stroke="#5a3cff" stroke-width="0.5" /><line x1="884.0" y1="209.3" x2="930.0" y2="209.3" stroke="#5a3cff" stroke-width="0.5" /></g><g id="panel2"><clipPath id="c2"><path d="M10,515 L420,513.5 L827,512.6 L827,505 L1020,500 L1020.0,516.0 C1018.6,517.1 1017.4,519.8 1011.8,522.6 C1006.2,525.4 994.7,530.0 986.2,532.8 C977.7,535.6 969.1,537.3 960.6,539.4 C952.1,541.5 943.5,543.9 935.0,545.6 C926.5,547.3 917.9,549.0 909.4,549.7 C900.9,550.4 892.3,550.2 883.8,549.7 C875.3,549.2 866.7,547.3 858.2,546.6 C849.7,545.9 841.1,544.9 832.6,545.6 C824.1,546.3 814.7,549.7 807.0,550.7 C799.3,551.7 793.4,551.7 786.6,551.7 C779.8,551.7 772.8,550.7 766.0,550.7 C759.2,550.7 753.3,550.7 745.6,551.7 C737.9,552.8 728.5,555.0 720.0,557.0 C711.5,559.0 703.0,561.2 694.5,563.5 C686.0,565.8 677.5,568.9 669.0,571.0 C660.5,573.1 651.8,575.6 643.3,576.3 C634.8,577.0 627.1,576.3 617.7,575.3 C608.3,574.2 596.4,571.7 587.0,570.0 C577.6,568.3 569.1,566.1 561.4,565.0 C553.7,563.9 547.0,563.2 541.0,563.5 C535.0,563.8 531.1,565.2 525.6,566.5 C520.1,567.8 515.2,569.5 508.0,571.4 C500.8,573.3 491.0,575.8 482.5,578.0 C474.0,580.2 465.5,582.6 457.0,584.6 C448.5,586.6 440.1,588.3 431.7,589.7 C423.2,591.1 414.8,592.4 406.3,593.2 C397.9,594.1 389.5,594.6 381.0,594.8 C372.5,595.0 364.0,594.8 355.5,594.3 C347.0,593.8 338.5,592.7 330.0,591.7 C321.5,590.7 313.1,589.7 304.7,588.2 C296.2,586.8 287.8,584.7 279.3,583.0 C270.9,581.3 262.5,579.4 254.0,578.0 C245.5,576.6 237.0,575.3 228.5,574.5 C220.0,573.7 215.7,573.5 203.0,573.4 C190.3,573.3 169.3,573.9 152.4,574.0 C135.5,574.1 118.5,574.2 101.6,574.0 C84.7,573.8 66.1,573.4 50.8,573.0 C35.5,572.6 16.8,571.7 10.0,571.4 Z"/></clipPath><g clip-path="url(#c2)"><g transform="rotate(30)" fill="none" stroke="#828282" stroke-width="0.82" stroke-dasharray="9.40 9.40"><path d="M1109.2,-74.0h38M1109.2,-70.5h38M1109.2,-67.0h38M1090.4,-55.2h56M1071.6,-51.7h94M1071.6,-48.2h94M1052.8,-36.4h113M1052.8,-32.9h113M1034.0,-29.4h132M1015.2,-17.6h169M1015.2,-14.1h169M1015.2,-10.6h169M977.6,1.2h207M977.6,4.7h207M977.6,8.2h207M958.8,20.0h207M940.0,23.5h226M940.0,27.0h207M921.2,38.8h207M921.2,42.3h207M902.4,45.8h226M883.6,57.6h226M883.6,61.1h207M883.6,64.6h207M864.8,76.4h207M846.0,79.9h226M846.0,83.4h207M827.2,95.2h207M808.4,98.7h226M808.4,102.2h207M789.6,114.0h207M789.6,117.5h207M770.8,121.0h226M752.0,132.8h226M752.0,136.3h207M752.0,139.8h207M733.2,151.6h207M714.4,155.1h226M714.4,158.6h207M695.6,170.4h207M695.6,173.9h207M676.8,177.4h226M658.0,189.2h207M658.0,192.7h207M658.0,196.2h207M620.4,208.0h226M620.4,211.5h207M620.4,215.0h207M601.6,226.8h207M582.8,230.3h226M582.8,233.8h207M564.0,245.6h207M564.0,249.1h207M545.2,252.6h226M526.4,264.4h226M526.4,267.9h207M526.4,271.4h207M488.8,283.2h226M488.8,286.7h207M488.8,290.2h207M470.0,302.0h207M451.2,305.5h226M451.2,309.0h207M432.4,320.8h207M432.4,324.3h207M413.6,327.8h226M394.8,339.6h226M394.8,343.1h207M394.8,346.6h207M376.0,358.4h207M357.2,361.9h226M357.2,365.4h207M338.4,377.2h207M338.4,380.7h207M319.6,384.2h226M300.8,396.0h207M300.8,399.5h207M282.0,403.0h226M263.2,414.8h226M263.2,418.3h207M263.2,421.8h207M244.4,433.6h207M263.2,437.1h188M263.2,440.6h169M263.2,452.4h150M263.2,455.9h150M263.2,459.4h150M282.0,471.2h94M282.0,474.7h94M282.0,478.2h94M282.0,490.0h75M282.0,493.5h56M282.0,497.0h56M300.8,508.8h19"/><path d="M1128.0,-76.4h19M1109.2,-64.6h38M1090.4,-61.1h56M1090.4,-57.6h56M1071.6,-45.8h94M1052.8,-42.3h113M1052.8,-38.8h113M1034.0,-27.0h132M1034.0,-23.5h132M1015.2,-20.0h169M996.4,-8.2h188M996.4,-4.7h188M996.4,-1.2h188M977.6,10.6h207M958.8,14.1h226M958.8,17.6h207M940.0,29.4h207M940.0,32.9h207M921.2,36.4h226M902.4,48.2h207M902.4,51.7h207M883.6,55.2h226M864.8,67.0h226M864.8,70.5h207M864.8,74.0h207M846.0,85.8h207M827.2,89.3h226M827.2,92.8h207M808.4,104.6h207M808.4,108.1h207M789.6,111.6h226M770.8,123.4h226M770.8,126.9h207M770.8,130.4h207M733.2,142.2h226M733.2,145.7h207M733.2,149.2h207M714.4,161.0h207M695.6,164.5h226M695.6,168.0h207M676.8,179.8h207M676.8,183.3h207M658.0,186.8h226M639.2,198.6h226M639.2,202.1h207M639.2,205.6h207M620.4,217.4h207M601.6,220.9h226M601.6,224.4h207M582.8,236.2h207M582.8,239.7h207M564.0,243.2h207M545.2,255.0h207M545.2,258.5h207M526.4,262.0h226M507.6,273.8h226M507.6,277.3h207M507.6,280.8h207M488.8,292.6h207M470.0,296.1h226M470.0,299.6h207M451.2,311.4h207M451.2,314.9h207M432.4,318.4h226M413.6,330.2h207M413.6,333.7h207M413.6,337.2h207M376.0,349.0h226M376.0,352.5h207M376.0,356.0h207M357.2,367.8h207M338.4,371.3h226M338.4,374.8h207M319.6,386.6h207M319.6,390.1h207M300.8,393.6h226M282.0,405.4h226M282.0,408.9h207M282.0,412.4h207M263.2,424.2h207M244.4,427.7h226M244.4,431.2h207M263.2,443.0h169M263.2,446.5h169M263.2,450.0h150M263.2,461.8h132M263.2,465.3h132M282.0,468.8h113M282.0,480.6h94M282.0,484.1h75M282.0,487.6h75M282.0,499.4h56M300.8,502.9h38M300.8,506.4h19" stroke-dashoffset="9.40"/><path d="M264.4,413.6v38M267.9,413.6v38M271.4,413.6v38M283.2,394.8v94M286.7,394.8v94M290.2,394.8v94M302.0,394.8v113M305.5,394.8v132M309.0,394.8v132M320.8,376.0v132M324.3,376.0v132M327.8,376.0v132M339.6,376.0v132M343.1,376.0v132M346.6,376.0v113M358.4,357.2v132M361.9,357.2v132M365.4,357.2v132M377.2,357.2v132M380.7,338.4v132M384.2,338.4v132M396.0,338.4v132M399.5,338.4v132M403.0,338.4v132M414.8,319.6v132M418.3,319.6v132M421.8,319.6v132M433.6,319.6v132M437.1,319.6v132M440.6,319.6v132M452.4,300.8v132M455.9,300.8v132M459.4,300.8v132M471.2,300.8v132M474.7,300.8v132M478.2,282.0v132M490.0,282.0v132M493.5,282.0v132M497.0,282.0v132M508.8,282.0v113M512.3,263.2v132M515.8,263.2v132M527.6,263.2v132M531.1,263.2v132M534.6,263.2v132M546.4,244.4v132M549.9,244.4v132M553.4,244.4v132M565.2,244.4v132M568.7,244.4v132M572.2,244.4v132M584.0,225.6v132M587.5,225.6v132M591.0,225.6v132M602.8,225.6v132M606.3,225.6v113M609.8,206.8v132M621.6,206.8v132M625.1,206.8v132M628.6,206.8v132M640.4,188.0v132M643.9,188.0v132M647.4,188.0v132M659.2,188.0v132M662.7,188.0v132M666.2,188.0v132M678.0,169.2v132M681.5,169.2v132M685.0,169.2v132M696.8,169.2v132M700.3,169.2v132M703.8,169.2v113M715.6,150.4v132M719.1,150.4v132M722.6,150.4v132M734.4,150.4v132M737.9,131.6v132M741.4,131.6v132M753.2,131.6v132M756.7,131.6v132M760.2,131.6v132M772.0,112.8v132M775.5,112.8v132M779.0,112.8v132M790.8,112.8v132M794.3,112.8v132M797.8,112.8v132M809.6,94.0v132M813.1,94.0v132M816.6,94.0v132M828.4,94.0v132M831.9,94.0v132M835.4,75.2v132M847.2,75.2v132M850.7,75.2v132M854.2,75.2v132M866.0,75.2v132M869.5,56.4v132M873.0,56.4v132M884.8,56.4v132M888.3,56.4v132M891.8,56.4v132M903.6,37.6v132M907.1,37.6v132M910.6,37.6v132M922.4,37.6v132M925.9,37.6v132M929.4,37.6v132M941.2,18.8v132M944.7,18.8v132M948.2,18.8v132M960.0,18.8v132M963.5,18.8v132M967.0,0.0v132M978.8,0.0v132M982.3,0.0v132M985.8,0.0v132M997.6,0.0v113M1001.1,-18.8v132M1004.6,-18.8v132M1016.4,-18.8v132M1019.9,-18.8v132M1023.4,-18.8v132M1035.2,-37.6v132M1038.7,-37.6v132M1042.2,-37.6v132M1054.0,-37.6v132M1057.5,-37.6v132M1061.0,-37.6v132M1072.8,-56.4v132M1076.3,-56.4v132M1079.8,-56.4v132M1091.6,-56.4v132M1095.1,-56.4v113M1098.6,-75.2v132M1110.4,-75.2v132M1113.9,-75.2v132M1117.4,-75.2v132M1129.2,-94.0v132M1132.7,-94.0v132M1136.2,-75.2v113M1148.0,-56.4v94M1151.5,-56.4v94M1155.0,-56.4v94M1166.8,-37.6v56M1170.3,-18.8v38M1173.8,-18.8v38" stroke-dashoffset="9.40"/><path d="M258.5,413.6v19M262.0,413.6v38M273.8,413.6v56M277.3,413.6v56M280.8,413.6v56M292.6,394.8v94M296.1,394.8v113M299.6,394.8v113M311.4,394.8v132M314.9,376.0v132M318.4,376.0v132M330.2,376.0v132M333.7,376.0v132M337.2,376.0v132M349.0,357.2v132M352.5,357.2v132M356.0,357.2v132M367.8,357.2v132M371.3,357.2v132M374.8,357.2v132M386.6,338.4v132M390.1,338.4v132M393.6,338.4v132M405.4,338.4v132M408.9,338.4v132M412.4,319.6v132M424.2,319.6v132M427.7,319.6v132M431.2,319.6v132M443.0,319.6v132M446.5,300.8v132M450.0,300.8v132M461.8,300.8v132M465.3,300.8v132M468.8,300.8v132M480.6,282.0v132M484.1,282.0v132M487.6,282.0v132M499.4,282.0v132M502.9,282.0v132M506.4,282.0v132M518.2,263.2v132M521.7,263.2v132M525.2,263.2v132M537.0,263.2v132M540.5,263.2v132M544.0,244.4v132M555.8,244.4v132M559.3,244.4v132M562.8,244.4v132M574.6,244.4v113M578.1,225.6v132M581.6,225.6v132M593.4,225.6v132M596.9,225.6v132M600.4,225.6v132M612.2,206.8v132M615.7,206.8v132M619.2,206.8v132M631.0,206.8v132M634.5,206.8v132M638.0,206.8v132M649.8,188.0v132M653.3,188.0v132M656.8,188.0v132M668.6,188.0v132M672.1,188.0v113M675.6,169.2v132M687.4,169.2v132M690.9,169.2v132M694.4,169.2v132M706.2,150.4v132M709.7,150.4v132M713.2,150.4v132M725.0,150.4v132M728.5,150.4v132M732.0,150.4v132M743.8,131.6v132M747.3,131.6v132M750.8,131.6v132M762.6,131.6v132M766.1,131.6v132M769.6,131.6v113M781.4,112.8v132M784.9,112.8v132M788.4,112.8v132M800.2,112.8v132M803.7,94.0v132M807.2,94.0v132M819.0,94.0v132M822.5,94.0v132M826.0,94.0v132M837.8,75.2v132M841.3,75.2v132M844.8,75.2v132M856.6,75.2v132M860.1,75.2v132M863.6,75.2v132M875.4,56.4v132M878.9,56.4v132M882.4,56.4v132M894.2,56.4v132M897.7,56.4v132M901.2,37.6v132M913.0,37.6v132M916.5,37.6v132M920.0,37.6v132M931.8,37.6v113M935.3,18.8v132M938.8,18.8v132M950.6,18.8v132M954.1,18.8v132M957.6,18.8v132M969.4,0.0v132M972.9,0.0v132M976.4,0.0v132M988.2,0.0v132M991.7,0.0v132M995.2,0.0v132M1007.0,-18.8v132M1010.5,-18.8v132M1014.0,-18.8v132M1025.8,-18.8v132M1029.3,-18.8v113M1032.8,-37.6v132M1044.6,-37.6v132M1048.1,-37.6v132M1051.6,-37.6v132M1063.4,-56.4v132M1066.9,-56.4v132M1070.4,-56.4v132M1082.2,-56.4v132M1085.7,-56.4v132M1089.2,-56.4v132M1101.0,-75.2v132M1104.5,-75.2v132M1108.0,-75.2v132M1119.8,-75.2v132M1123.3,-75.2v132M1126.8,-75.2v132M1138.6,-75.2v113M1142.1,-75.2v113M1145.6,-56.4v94M1157.4,-37.6v75M1160.9,-37.6v56M1164.4,-37.6v56M1176.2,-18.8v38M1179.7,0.0v19"/></g></g><path d="M518.3,510.3l1.8,-0.4M762.6,505.3h1.2M539.6,511.2h0.9M211.2,509.7h0.6M186.9,508.1l0.1,-0.8M660.5,506.2h0.7M11.4,512.2h0.7M811.7,510.4h1.2M450.0,510.0h1.2M573.6,511.6l-0.5,0.9M145.4,507.4h0.8M502.1,505.7h0.8M262.9,511.3h0.8M402.7,510.3h1.2M28.7,511.4l2.0,0.1M308.8,509.7h0.6M157.6,512.4h1.1M768.6,511.0h0.8M438.2,510.7h1.0M660.5,510.7h1.2M84.4,508.7h1.2M287.4,511.9h0.8M268.5,507.3h0.7M572.4,511.7h0.6M815.1,508.3h0.7M494.7,510.9h0.9M55.5,512.4h0.9M694.2,506.1l1.7,-0.3M653.0,506.0h0.7M699.3,507.1h1.2M705.4,511.3h0.9M605.3,508.5h0.8M129.5,508.9l1.8,-0.3M417.4,508.0h0.8M648.1,510.8h1.1M642.3,509.7h1.1M306.6,510.5h0.9M638.1,509.7h1.2M540.1,509.2h0.9M214.6,510.5h1.1M538.3,510.6h1.0M612.1,510.6h1.1M719.8,509.5l1.7,-0.3M441.9,506.9l1.5,-0.4M574.2,510.0l0.9,1.0M484.0,509.9h1.0M642.2,509.4l1.3,0.1M369.9,510.0h1.0M524.8,505.9h0.7M54.2,507.5h0.7M167.8,506.7h0.8M509.2,509.4h1.1M10.5,509.3h0.8M103.9,511.7h0.6M510.7,506.3h0.8M484.0,511.7l-1.8,0.6M534.1,507.9h1.0M470.1,511.7l-1.2,-0.6M739.1,505.2h0.9M512.0,506.6h1.1M316.7,508.8h0.8M803.5,507.4l1.5,-0.6M222.0,512.4h0.8M270.4,512.3h0.8M399.2,506.7h0.9M249.2,511.1l1.7,0.1M233.4,512.1l0.0,0.9M136.3,512.7h1.0M397.3,509.9h1.0M106.4,511.3h0.9M284.3,508.0h0.9M304.6,510.8h0.6M216.0,509.2l1.3,-0.7M21.9,511.6h0.9M587.9,509.4h1.1M324.5,508.5l0.5,0.8M687.3,505.7l-0.6,-0.9M243.7,511.1l1.0,0.8M458.1,508.9h0.7M488.1,510.8h0.7M678.8,510.2h0.6M599.6,511.6l-0.4,-0.7M697.1,506.6h1.2M591.4,506.4h1.2M132.2,510.3h0.7M517.9,506.0h0.8M68.8,507.0h1.0M726.8,506.1h0.8M499.8,508.8l-0.9,0.5M579.0,506.5h0.9M752.9,508.6h0.8M460.2,507.4l-1.3,-0.1M201.3,508.7l0.8,1.0M544.5,506.2h0.7M111.8,510.3h1.1M402.1,507.9l1.9,0.2M53.8,507.6l-0.6,-0.8M104.7,512.6h1.1M124.0,510.4h0.7M281.9,510.0h0.8M121.3,511.7h1.1M363.6,511.3h1.0M477.8,510.4h0.7M37.1,508.0h1.1M402.5,510.7h0.9M736.1,509.0h0.9M91.4,507.6h0.8M324.7,511.6h0.8M236.4,507.3h0.7M403.3,506.1l-1.5,0.9M571.2,509.7h1.2M106.2,510.7h1.0M605.1,506.5h0.6M198.1,506.9h1.2M307.2,508.1h0.8M607.6,509.9h0.7M558.5,511.4h0.9M806.0,505.1h1.1M344.7,506.3h1.2M433.5,508.0h0.6M743.4,508.2l1.4,0.3M51.2,509.2h0.8M342.5,508.0h0.6M802.8,506.2h0.8M443.5,506.4h0.7M452.2,511.5h1.1M185.0,506.5h0.9M476.3,508.1h1.0M755.0,507.1h1.1M192.8,507.1h0.7M640.3,510.5h0.7M76.9,508.2h0.9M480.8,507.3h1.0M49.2,508.0h0.8M90.4,509.2h1.1M463.8,511.4h1.1M479.0,508.5l-1.2,-1.1M604.1,509.8h1.1M322.0,506.9h0.7M224.3,510.5h0.6M633.3,508.9h0.6M116.2,508.8l1.7,-0.3M198.6,509.0h0.8M20.2,510.4l-0.2,-0.8M442.7,506.9l-2.0,0.4M658.5,506.1h1.1M386.2,508.7h1.1M774.0,508.4l-1.1,-0.4M674.4,507.9h1.2M36.8,510.3h1.1M330.5,507.4h0.7M468.9,508.0l0.1,0.9M212.6,512.4l1.1,-0.9M337.1,507.0l-1.2,0.0M148.4,507.1l1.1,-0.5M660.4,507.4h1.1M518.5,510.6h0.6M427.6,509.5h0.8M268.9,506.4h0.8M398.5,510.3h1.2M675.5,511.1h1.0M448.0,510.8h1.0M564.4,508.8h0.6M81.2,508.8h1.1M593.0,507.4l-0.3,1.1M68.8,511.3h1.2M742.1,509.5l-0.1,-1.1M180.3,509.6l0.2,1.3M453.9,508.3h0.8M155.4,510.5l1.5,-0.6M325.5,506.8h0.9M593.7,507.8l0.4,0.9M228.4,510.2l0.9,1.0M635.5,506.8h0.9M687.5,510.8l-1.4,0.5M441.5,511.5h0.8M504.0,511.7h0.6M104.3,510.1h0.7M165.3,510.1h1.0M604.8,505.9h1.1M791.1,507.1l-1.3,-1.0M196.9,510.7l-1.3,0.1M167.9,507.4h0.7M512.4,506.3l-0.2,-1.2M665.8,509.8l1.8,-0.3M797.5,505.7h0.6M178.4,508.8h1.0M616.2,506.0h0.9M316.1,506.9h0.8M567.9,508.6l1.2,-0.3M630.0,509.9h0.7M400.9,508.1l1.4,-0.5M247.1,509.4h1.1M479.8,507.6h1.1M433.7,506.2h0.7M553.6,506.1h0.7M399.7,512.0h0.8M772.1,505.7h1.1M14.2,511.5h0.6M214.7,509.2h0.9M53.4,508.1l-1.6,0.4M79.6,508.4l-0.7,-0.9M53.2,509.1l-1.6,0.4M746.3,509.2h0.6M29.4,511.5h1.1M683.8,511.0h1.2M627.1,511.0h1.1M354.5,512.1l0.3,1.0M231.1,509.2h1.0M110.6,507.6h0.6M321.0,511.7l0.4,0.7M685.9,511.3h0.7M203.0,512.1l1.4,0.2M360.1,507.7l-1.4,0.8M134.0,509.7l-0.4,-0.7M100.6,510.6h0.8M399.8,509.5l0.1,1.1M224.7,509.7l1.1,0.8M585.9,505.6l-1.5,0.5M508.2,510.6h0.9M41.2,509.1h0.6M253.0,509.1h1.2M312.3,509.4l2.0,-0.5M816.2,506.9h1.2M73.1,509.4l-1.6,-0.2M764.4,507.0h1.1M122.6,508.7h0.9M179.2,509.2h0.7M289.2,507.1l-0.1,0.9M649.5,510.0h1.1M520.6,508.1h0.7M224.9,511.8h1.1M154.4,507.3h1.0M468.0,505.9h1.1M413.4,511.3h1.0M105.8,511.1h1.0M190.8,512.3h0.6M568.2,506.1h0.9M539.5,511.2l1.7,0.5M698.4,506.0l-0.1,0.9M11.2,511.5h1.1M389.9,506.9h0.8M782.6,506.4h0.8M74.6,509.3h1.0M152.6,507.3h1.0M374.9,509.6l0.9,0.7M412.9,509.2l-1.8,-0.4M352.4,510.9l-0.4,0.8M221.5,508.6l-0.2,1.1M532.8,511.6h1.1M284.5,506.8h1.1M485.3,506.1l-1.4,0.7M600.8,507.1h0.8M88.3,507.0l-1.7,0.7M61.2,508.6h1.2M655.1,510.9h0.7M349.6,507.5h0.9M246.6,506.9h1.2M781.9,508.0h1.1M103.7,509.9h1.2M452.9,508.5h0.9M803.9,507.7h0.9M759.3,507.5h1.2M275.8,511.2h0.7M53.7,512.5h0.9M758.8,508.7h0.8M617.2,507.1h1.1M503.6,506.5h1.0M604.9,506.1l0.9,0.6M83.2,509.4h1.1M143.1,510.8h0.9M215.5,508.6h1.0M109.8,511.3h1.0M531.5,508.7l1.3,-0.4M282.4,511.6h0.9M348.4,512.1h1.0M627.7,510.0h1.2M265.0,511.5h0.9M693.5,509.5h1.0M422.2,510.3h1.1M140.0,509.6h1.1M639.5,510.6h0.9M400.5,506.7h1.2M705.8,506.7l-0.9,-0.8M536.1,507.1h0.6M545.8,509.2l-1.6,-0.0M260.0,510.8h1.0M628.2,508.2h0.6M222.6,511.5h0.6M21.8,511.5h0.9M367.8,511.0h0.9M30.2,511.7l-1.5,-0.9M511.1,510.1l-0.9,-0.5M731.8,511.3h0.6M287.4,506.8h0.7M189.7,506.4h0.8M604.7,507.9h1.2M739.9,509.5h0.8M378.0,508.5h0.9M636.4,509.7l-0.8,-1.1M720.5,510.9l-1.6,0.6M547.1,511.1l-1.3,0.3M277.2,507.8h1.1M166.7,509.8l-0.9,0.6M504.2,508.0h0.8M15.6,507.7h0.7M14.9,510.2l0.8,-0.8M764.4,505.6h0.6M57.7,510.4l-2.0,0.2M378.2,511.7h0.9M149.3,509.1h1.1M197.4,508.2l1.6,0.4M189.2,510.5h0.7M605.9,508.0h1.1M645.5,507.3h0.7M433.4,506.4h1.1M529.2,505.9h0.9M371.5,506.9h0.9M68.0,510.9h0.8M84.1,508.5l-0.3,0.8M292.2,512.0h0.8M180.6,510.7h0.7M713.6,507.3h0.9M721.3,505.6h0.8M225.7,511.4h0.8M423.6,511.1h0.9M546.0,509.4h0.9M117.5,509.3l-0.5,0.9M502.3,509.4h0.9M608.9,505.7h1.1M748.7,505.6h1.0M242.2,510.4h0.9M141.9,508.6h0.9M706.4,510.5h1.1M154.8,509.4h1.0M100.8,512.1h1.1M779.3,510.9h1.1M823.6,505.8l-0.2,-1.0M236.8,507.4h1.2M338.0,507.7h0.9M510.7,508.5h0.6M677.8,509.4h0.9M484.0,508.9l0.3,-0.9M286.4,510.0h1.2M47.1,509.8h0.9M47.2,508.1l0.3,-0.8M382.1,506.2h0.7M813.2,507.0h0.6M99.7,512.8l1.8,-0.6M648.6,507.0h0.8M63.4,507.8l-1.2,0.0M258.7,511.5l-0.3,-1.1M754.0,508.6h0.9M240.5,506.5h0.9M108.1,507.1h0.8M791.0,508.1l-0.1,-1.1M272.9,508.7h1.0M707.7,510.2h0.7M17.3,510.4h0.6M256.5,507.7h1.0M486.8,507.5l0.6,1.2M107.0,510.3l-0.2,-1.0M721.2,509.1h0.6M162.4,509.4h0.7M615.2,507.6h0.9M694.5,507.2h1.0M544.8,507.6h0.9M500.4,509.7h0.9M467.2,507.0h1.2M27.0,509.9h0.6M230.3,507.3h1.1M74.8,508.8h1.0M27.0,508.2h1.1M370.8,507.6h0.9M132.0,510.7l-1.7,0.2M638.8,511.3h0.6M422.2,510.0h1.0M310.1,510.0h1.0M765.2,509.5l-0.4,-0.8M511.1,509.5h1.1M195.1,509.4h1.0M634.5,508.3l-1.7,0.4M819.1,507.0l1.2,-0.2M644.2,509.4h1.1M711.7,506.2h1.0M580.3,511.5l0.6,-0.7M357.9,511.7l0.1,-0.9M638.2,508.7h1.0M716.0,509.7l-1.7,0.0M546.5,509.1h1.2M270.1,509.3h0.7M767.8,506.9h1.1M207.0,510.5h1.1M399.1,508.0h0.8M10.1,507.5h0.8M637.0,511.3h0.7M249.3,510.2h0.7M437.4,507.5h1.1M95.9,509.3l-2.0,-0.3M268.9,512.1h1.1M356.2,506.1h1.2M594.5,510.1l1.5,0.0M390.0,511.6l1.3,1.1M462.3,507.7h0.9M434.8,508.7h1.2M397.9,507.9l0.1,1.0M94.9,508.1l-1.2,-0.7M559.4,509.8h0.8M130.3,506.7h0.8M18.3,511.0h0.7M265.9,509.3h1.1M404.1,506.4h1.1M481.8,507.6l2.0,0.4M774.2,509.2h0.9M692.9,509.0h0.7M62.0,509.9h0.9M740.8,510.8h1.1M119.4,512.4l-2.1,0.1M252.6,512.3h1.2M693.1,511.1l1.3,0.4M545.0,511.3h0.6M293.7,508.3h0.7M431.2,508.2h0.8M782.9,508.8l1.1,-0.3M728.4,505.8h1.0M624.4,509.3h1.0M359.2,507.2h0.7M40.0,512.6l-0.9,0.8M237.5,511.1h0.7M731.5,511.0h0.9M190.3,510.4h0.8M256.8,510.0h0.9M565.4,508.5l-1.8,0.5M769.3,509.0h1.1M590.9,506.7h0.7M27.2,511.0h0.8M31.2,506.9h0.8M365.8,510.2l-0.4,-0.8M817.1,506.2h1.0M244.5,511.8h1.0M123.1,511.7h1.0M611.4,507.5h0.8M808.2,509.1h0.9M545.1,507.2h0.7M485.0,509.5l-1.5,-0.8M815.3,508.1h0.9M313.3,510.8h0.7M789.6,508.3l-1.7,-0.3M480.1,506.5h1.0M295.2,507.0l-0.0,-1.2M325.9,506.9l0.4,1.1M578.3,507.2h1.0M654.9,509.0l0.3,1.1M365.2,509.6h0.7M457.5,509.6l-1.4,-0.6M541.2,509.5h0.8M566.8,508.0h0.7M302.9,510.4h0.9M676.1,507.4h1.1M564.3,508.2l1.7,0.2M710.4,510.7h1.1M445.0,511.6h1.0M533.8,511.8h0.8M111.8,510.8h1.1M129.2,507.7l-2.0,0.0M292.0,507.7h1.2M166.6,512.1l-0.6,-0.8M606.1,511.1h0.7M507.6,511.6h0.7M175.2,510.3h0.6M315.2,507.7h0.6M466.7,510.0h0.9M440.1,510.7h1.0M470.0,510.9h0.7M716.4,510.4h1.1M506.9,511.0l-0.9,0.6M634.0,509.8h0.8M307.2,511.9h0.7M814.8,511.1h0.7M605.5,507.9h1.0M232.9,510.0h0.7M455.1,508.5l1.3,1.0M223.7,508.5h0.8M810.3,507.3l1.9,-0.2M160.4,509.1h0.7M283.3,507.2h0.9M247.4,507.9h0.7M368.0,506.5h0.8M640.1,507.1l2.0,-0.4M195.7,512.2h1.1M388.7,509.3h1.1M310.1,511.6l-1.1,0.3M229.2,508.9h0.9M14.3,509.7l1.8,-0.3M570.2,509.3l0.4,-1.0M414.4,511.7h1.0M261.0,510.4h1.2M825.8,511.2l1.2,0.2M286.7,511.3h0.8M92.1,508.2h0.7M617.8,506.7h1.0M116.5,511.7h1.1M602.4,510.0h0.9M320.0,508.5l-1.8,0.5M524.7,506.2h0.9M654.1,506.8h0.8M384.6,508.6l-1.2,-0.6M290.8,509.3h0.8M63.0,510.8l1.4,-0.6M323.9,509.6h0.7M450.9,508.9h0.9M692.3,509.3h0.7M524.3,509.1h0.9M341.9,510.0l-1.2,0.7M468.6,509.9h0.7M762.7,506.0h0.8M410.8,508.7h0.7M791.2,505.3h1.0M312.9,507.3l1.4,-0.1M586.8,508.0l-1.7,-0.7M551.1,506.4h1.0M134.8,507.1l1.6,-0.5M61.8,511.0l0.4,-1.1M368.9,509.9l-1.3,0.0M128.5,512.4l1.2,-0.3M96.0,510.8h0.9M199.9,511.1l-0.2,-1.0M410.5,508.4h0.8M392.7,511.9l1.2,0.8M678.9,507.5l1.2,-0.3M520.1,508.0h0.9M711.4,509.2l0.0,1.2M329.7,507.2l-1.3,-0.4M739.1,508.2h1.2M276.7,509.6h0.8M445.8,511.8h0.8M567.7,509.4h1.0M316.7,511.0h1.1M252.5,507.3h0.7M723.9,511.4h0.7M729.6,510.5h0.8M415.9,506.7h0.8M107.5,507.5h0.8M757.0,511.1h0.8M629.9,507.5l-1.7,0.5M622.7,509.8l-0.7,0.7M310.7,512.1h0.8M262.5,509.0l0.6,0.7M24.5,508.9l-1.8,0.3M428.4,508.1h0.6M786.8,509.6h0.7M649.1,508.5l0.0,-0.8M681.2,506.6h1.0M675.2,507.2h1.0M250.1,509.0l1.5,0.9M734.0,511.4h0.7M367.0,507.1l-1.8,-0.5M411.0,509.0l1.0,0.6M708.8,508.9l2.0,-0.0M507.8,510.4h0.7M275.4,511.9h0.6M533.5,511.8h0.9M382.1,509.9h0.9M747.2,510.7l-0.3,-1.1M171.1,509.5h0.7M785.2,506.5l0.8,-0.8M30.0,507.9h1.0M299.6,509.9h1.0M647.9,510.2h0.9M11.7,508.4h0.6M70.0,512.6h0.9M572.6,510.9h0.9M330.2,512.1l1.2,1.0M534.4,507.8h0.8M618.4,508.9h0.6M747.0,511.1l-0.5,1.1M105.0,510.0h0.9M246.3,506.7h0.7M153.0,508.5h0.6M804.6,505.4l-1.2,0.4M360.0,509.2h0.9M16.0,508.6l0.8,-0.7M341.9,511.9h0.7M211.4,511.7h1.0M775.2,509.0h0.9M275.6,509.2h1.2M572.0,508.7l-1.4,-0.0M556.9,507.3h0.8M405.6,506.1h1.2M426.0,508.2h1.0M420.3,508.4h0.8M567.1,508.2l-1.1,0.9M170.1,509.5h0.6M113.1,509.4l0.8,-1.1M667.8,511.3h0.7M123.1,511.5h0.8M123.0,512.2h0.7M495.0,510.1h0.9M442.4,509.3h1.1M681.2,510.7h0.6M394.0,506.1h0.9M619.3,510.6l-0.5,-0.9M602.5,509.5h1.1M395.7,509.2h1.1M396.6,510.6l-1.8,-0.1M388.1,507.4l1.1,-0.4M37.0,509.7h0.9M288.9,507.7l-1.9,-0.6M168.6,508.8h1.1M359.2,507.2h0.9M799.3,509.1l0.8,-0.8M422.9,511.1l-1.1,0.5M607.0,507.3h0.8M570.4,509.6l-1.4,-0.5M731.7,506.1h1.2M281.8,507.1h0.6M607.6,508.0l0.6,-0.6M260.2,507.9h0.6M218.1,508.4h0.9M813.7,505.7h1.1M244.8,509.6h1.1M772.3,508.7h0.8M584.5,509.0h0.8M60.2,509.2l-1.3,0.7M146.9,510.9h0.8M641.0,507.3h1.0M612.3,505.8h1.1M425.3,508.4h0.8M489.0,511.4h1.2M342.5,506.5h0.8M56.5,507.2l1.1,-0.5M77.0,512.7h0.8M194.3,507.7h0.9M643.0,505.8h0.7M652.8,511.0l-1.3,-0.2M595.3,505.9l-0.6,1.2M242.4,510.9h0.7M410.8,508.6h0.9M444.3,510.2h1.0M171.8,509.7h1.1M165.7,508.3h0.8M451.6,507.2h1.1M263.3,507.6h1.1M619.2,511.1h0.8M419.0,506.3h1.1M757.1,510.3h1.1M247.8,509.8h1.2M428.0,507.0l-1.0,-0.6M700.0,509.2h1.1M267.8,508.0h0.7M580.2,508.5h0.7M142.3,510.1l0.6,-1.2M472.4,510.7h0.8M747.3,506.8h0.9M52.5,510.2l1.2,-0.6M743.3,505.4l-0.9,-1.1M375.5,509.6l0.2,0.8M624.6,510.9h0.9M424.2,507.8l-0.4,1.2M346.4,507.0l0.8,0.6M34.0,508.9h0.7M777.9,506.7l0.3,0.7M15.8,507.5l-1.4,0.2M48.3,510.7h0.7M366.6,510.4h0.9M163.7,509.9h1.2M767.5,508.7h0.8M621.1,509.0l-1.5,0.3M600.0,506.6h0.7M178.0,511.8h1.0M49.6,512.4h1.0M96.6,510.4l-0.3,0.8M322.5,510.9l1.4,0.4M757.1,506.9h1.1M679.0,508.1h1.1M692.8,506.5l1.8,-0.6M436.0,508.3l2.0,-0.1M423.3,511.4l-1.3,-0.0M509.6,506.5h0.9M419.5,509.9l1.4,-0.3M788.6,507.1h1.1M806.2,508.2l0.7,-0.8M513.7,511.5h0.7M722.0,508.7h1.1M372.2,506.9h1.1M533.6,508.7h1.2M74.4,508.4l1.7,-0.4M321.7,510.7h0.9M650.9,508.8h0.8M644.4,506.1h1.0M47.8,512.1h0.9M222.1,509.3h0.7M453.8,511.9h0.7M169.3,507.1h1.2M795.9,505.3l-1.2,-0.4M730.2,505.9h1.0M580.2,507.0h1.0M249.7,510.0l1.9,0.2M808.8,507.5h0.8M728.1,506.6h0.9M372.5,509.5h1.2M446.2,508.3l2.1,0.3M690.9,506.9h0.6M656.9,511.4h1.2M395.4,511.3l1.5,-0.5M425.0,506.1l1.5,0.6M501.8,506.8h0.8M17.5,509.3h1.0M580.8,511.4l-0.1,1.1M575.3,510.4h0.8M511.1,507.7l-1.6,0.6M65.8,512.2l1.5,-0.2M690.0,511.4h0.6M552.1,511.7h1.1M548.7,508.6h0.9M416.7,507.2l-0.1,-0.8M517.1,509.4l2.1,-0.2M54.4,509.3h1.1M77.3,511.8h1.0M781.0,510.5l-1.2,-0.8M432.6,506.0h1.0M348.5,508.9l-1.5,0.8M666.1,510.5h1.0M391.0,509.6h0.7M210.4,511.2l-1.3,0.7M369.5,509.3h0.8M791.6,510.6h0.7M715.7,508.0h1.0M503.1,511.3h1.1M222.1,506.8h0.9M664.8,509.0l0.6,0.9M478.3,509.4h0.9M92.2,511.5l1.8,0.5M14.8,511.0h0.8M83.1,508.2h0.9M673.8,506.4h0.8M44.8,507.9h0.7M40.8,512.8h1.1M354.5,509.2h1.2M182.6,512.4l0.8,-0.6M815.1,509.1h0.9M373.5,511.9l1.3,-0.2M442.4,510.2h1.1M623.8,506.2h1.0M729.3,511.4h1.1M488.4,508.0h0.7M38.3,509.4h0.7M272.7,507.1h0.8M805.9,507.7h0.9M793.1,510.2l1.3,-0.8M724.9,507.3h0.8M765.2,506.8l0.1,0.9M615.9,509.0h0.7M724.7,506.5h1.1M406.4,508.9h1.2M500.9,509.9h1.0M319.2,507.2h1.1M714.9,508.4h1.2M540.5,511.7h1.1M622.7,509.0h0.7M23.7,507.0l-1.4,0.6M371.1,511.5l-1.3,0.8M184.9,512.3h1.1M447.5,506.8l0.6,1.1M222.0,507.2l1.6,-0.8M559.2,509.6h1.2M277.4,510.2h0.8M436.6,508.8h0.8M25.6,510.8h0.7M310.6,510.3l-1.1,0.4M520.9,509.4h1.2M308.9,509.4h0.7M168.5,507.6h0.7M760.3,508.8h0.9M241.0,511.7l-1.1,0.3M10.2,507.0l1.6,0.2M433.0,508.2h1.2M788.7,509.8h1.2M582.8,507.0h0.7M94.7,509.0h0.7M76.5,508.7h1.1M737.2,510.3h1.1M239.1,509.9h0.7M451.4,507.5l0.2,1.2M163.7,506.5h1.1M528.2,507.2h0.8M550.6,507.4h1.2M41.7,507.6h0.8M462.0,508.9h1.1M588.8,506.7h0.7M427.3,509.8l0.2,1.2M745.8,508.1h0.7M597.2,505.9h1.0M26.6,507.7h0.9M704.0,510.2h0.6M451.3,507.0h1.2M244.9,508.7h1.2M59.9,510.3h0.7M93.2,508.7h1.0M800.3,509.2h1.2M772.3,507.9h0.9M95.9,510.6l-1.8,0.2M751.3,509.0h1.1M609.0,508.3l1.2,-0.3M826.0,506.0l-1.2,-0.9M292.5,508.0h0.7M103.0,507.6l-2.0,-0.3M814.9,507.8h1.1M102.1,509.8l1.0,0.6M541.6,506.2l-0.0,-1.1M644.5,506.3l-1.5,-0.2M674.3,508.2h1.0M39.7,510.2h0.8M352.2,510.4h0.8M196.9,511.2h1.0M603.3,509.4h0.6M534.2,510.5h1.2M581.4,508.2l0.1,0.8M328.5,506.3h0.9M164.0,510.2h1.0M655.0,510.3h0.7M478.4,509.9h0.8M435.2,507.5h0.8M347.8,510.9l1.2,-1.0M812.3,508.2h0.6M598.0,510.7h1.0M88.6,512.4h0.9M190.9,511.8l-1.5,0.5M244.0,510.6h1.1M24.4,509.9l1.8,0.2M316.9,506.8h1.2M185.0,509.4l0.9,0.5M502.1,509.6h1.1M636.3,509.1h1.2M189.9,512.6h1.1M455.0,509.6l-1.4,0.3M799.2,511.2h1.1M631.0,506.7h0.6M692.9,505.8l0.6,-1.3M101.7,511.6h0.7M700.4,506.2l1.7,-0.1M354.7,511.6h1.2M574.0,508.3h1.1M625.7,506.3h0.8M368.9,507.0h0.9M593.0,509.9l1.7,-0.6M213.7,511.2l0.9,0.5M754.0,506.2l1.5,-0.3M440.9,506.3h1.1M518.6,507.3h0.6M634.7,507.1h1.1M266.3,507.3h0.8M438.8,508.7h0.8M419.3,511.8h0.9M387.1,508.8h1.0M771.6,506.1h1.2M10.7,511.1h0.9M603.0,507.1h1.0M815.8,507.8l-1.9,-0.1M549.8,510.4h1.0M591.0,507.1l-1.3,-0.6M525.3,507.8h1.1M183.0,508.6h0.9M85.3,508.3l1.1,0.8M99.7,507.1l-1.5,0.4M69.8,507.7h1.2M775.5,507.6h0.7M690.6,506.2h0.7M613.2,510.9h0.8M758.0,505.8l-0.9,1.2M219.4,511.7l-0.5,0.8M526.2,506.1h0.8M554.6,506.3h0.8M479.6,510.2h0.8M592.8,509.8l1.6,0.2M295.0,511.7h0.8M140.1,509.3h0.6M523.8,511.2h0.9M727.3,511.1l-0.0,-0.8M305.5,508.3l0.4,-1.2M135.3,507.9l-1.0,0.9M358.7,510.5h1.1M751.9,509.5h1.0M182.2,511.2l-1.6,-0.6M575.4,510.3l0.1,-1.3M591.2,506.0h1.1M82.2,512.0l1.3,1.0M594.4,506.9h1.0M519.7,509.3l-0.9,1.1M797.5,510.3h0.7M418.4,508.4h0.7M249.1,506.8h0.8M451.6,510.7h1.1M415.5,511.8h0.8M141.7,511.4h1.2M415.1,510.7h1.2M69.8,507.8l1.9,0.6M820.9,505.4h1.1M801.5,508.4l-1.7,0.5M66.2,510.7h1.0M240.6,506.5h0.7M423.1,505.9h0.7M304.0,509.9l-1.6,0.1M244.2,510.1l0.1,0.8M583.9,507.2l-1.2,-0.3M290.1,512.0l-1.3,-1.1M820.2,509.9l-2.1,0.0M243.4,512.1l0.9,-1.2M566.2,509.8h1.0M81.1,512.2l1.4,-0.8M236.9,510.0h1.1M497.5,508.3l0.3,-1.1M312.3,510.3h0.7M231.2,507.2h0.7M633.6,509.1h1.0M651.0,505.6l-2.1,0.2M758.3,509.0l0.7,1.1M580.9,510.2h0.7M319.9,507.2h1.0M516.6,510.6h1.0M660.7,509.3h0.8M263.5,508.2h0.8M179.3,512.3h1.1M361.4,506.8h1.1M31.8,507.2h0.8M41.8,508.8h0.7M315.8,507.6h1.1M490.7,510.4l1.3,0.1M678.3,508.4h1.1M216.5,509.3l-0.3,-0.7M222.7,511.7h0.8M742.4,508.5l-0.3,1.1M318.9,506.1h0.9M275.5,508.2h1.0M799.5,509.6l-0.4,0.7M136.4,511.7h1.1M818.3,509.9h0.7M695.5,506.5h0.9M762.9,511.3h0.6M389.7,508.7h0.8M341.9,511.4l-0.0,1.0M46.5,509.8h1.0M326.7,511.9h0.7M627.6,507.9h1.0M337.4,509.4h0.8M69.3,509.8h0.7M304.6,506.2l1.0,-0.7M818.4,509.5h0.8M582.4,510.7l-2.0,0.4M187.3,511.3l1.3,0.2M562.3,509.8h0.6M767.7,511.3l1.8,0.4M373.1,508.3h1.0M334.7,507.1h0.6M354.3,510.5h1.2M732.5,510.8h0.9M576.3,509.5h0.9M382.3,509.0h0.9M504.5,507.7h1.2M623.6,507.2l0.3,-0.9M241.9,507.5h0.7M753.3,511.2h1.2M52.4,510.1l-0.1,0.7M770.5,508.9l1.8,0.6M487.2,511.1h0.6M526.8,507.8h0.7M85.0,510.4l1.2,0.5M681.6,506.8h0.7M677.0,508.9h0.8M556.8,507.1h0.8M27.6,507.1h0.8M675.5,510.9h1.0M682.8,511.4h1.0M741.8,509.8h1.1M637.3,509.1h0.6M16.1,510.2h0.7M691.3,507.8h1.0M225.5,507.7h1.1M90.6,508.1h1.0M562.7,508.2h0.6M767.6,508.9h1.0M690.1,506.6l0.8,0.9M367.0,512.0h1.0M599.2,507.3h0.9M280.4,507.4h1.2M765.9,506.1l-1.1,1.0M391.5,508.9h0.6M434.9,507.4l-1.0,-0.7M693.1,508.9h1.0M605.7,506.8l-0.1,-1.2M616.7,506.9l-0.3,-1.3M242.1,508.2l1.9,-0.0M131.3,508.3h0.6M285.4,509.7l-0.8,-1.2M178.2,511.8h0.8M546.8,507.1h1.0M62.6,510.6h0.9M743.3,507.8h1.1M758.5,508.1l0.0,0.7M193.5,510.1l0.8,0.6M252.9,507.9h1.0M307.3,510.8h1.1M490.6,511.8h0.9M173.1,507.7h1.1M746.5,508.0h0.8M471.9,508.6l-0.6,-0.9M470.7,508.7l0.8,1.1M241.1,508.7h0.8M270.3,507.9h0.7M259.6,509.6h1.0M151.5,508.1l1.4,-0.1M79.8,512.1l-1.8,0.7M495.0,511.3h0.6M694.7,508.2h1.1M11.0,508.0l-0.1,-1.0M507.4,509.4h0.8M517.4,507.1l1.6,-0.5M144.9,508.3h0.9M331.3,506.2h0.8M102.8,512.7l1.4,-0.2M566.7,510.0h1.0M599.7,509.2h0.8M226.0,508.3h0.9M178.3,506.8l-1.3,1.0M740.2,506.2h0.7M12.3,508.2h1.0M151.3,509.8h1.0M568.5,510.3h0.7M601.6,508.3l-0.3,-1.2M591.2,508.2l-0.8,-0.9M682.7,507.4h1.0M810.0,506.2h0.7M540.7,508.6h0.8M309.3,509.7h0.9M129.8,509.7h0.8M267.3,511.2h0.9M797.7,507.3h1.0M415.8,510.8l0.2,1.0M396.2,508.8h0.7M238.7,507.8h0.8M253.9,512.1h0.8M89.4,510.6h0.9M46.9,510.5l-1.7,-0.4M298.8,508.5h1.1M617.2,508.8h0.8M804.1,505.3h0.8M664.6,511.4h1.0M177.8,512.6h1.1M32.2,508.8h0.7M18.0,508.8h1.1M163.2,510.1l0.1,-1.1M410.5,507.3h0.9M257.0,510.6h1.0M182.0,510.7l1.3,-0.6M766.4,506.0h0.8M327.9,506.4h1.0M622.1,508.2l-0.9,-1.0M694.3,507.5l-1.5,0.1M556.2,510.0h1.0M788.8,505.3l-1.9,0.6M330.8,508.9h0.8M200.6,510.5h0.6M247.1,511.8l1.1,0.8M499.6,506.8l1.8,-0.2M652.7,507.9h1.0M723.7,509.8h1.2M748.7,509.5h0.7M105.5,511.4h1.2M152.0,508.7h1.1M634.5,509.9h0.8M334.8,506.8l-1.4,-0.6M721.0,506.1h0.7M218.1,510.4h1.1M193.3,508.6h0.8M561.2,507.7h1.1M72.6,510.7h0.8M369.5,507.1h1.0M274.3,507.8h1.0M580.1,509.3h0.9M348.7,507.1l-1.7,0.7M412.8,507.4l1.4,0.3M306.1,506.8h0.8M779.2,510.8h0.7M554.1,510.0h0.8M814.4,510.8h1.0M801.9,509.1h1.2M485.2,509.9l1.2,0.3M63.2,508.4l-0.3,-0.9M500.4,508.4h0.8M765.2,509.8h1.0M774.4,507.5h0.6M449.1,508.1h1.0M364.8,509.8h0.9M431.7,507.2h1.0M775.5,505.8h0.9M778.1,510.6h1.0M69.3,511.7h1.2M300.2,508.1h0.7M301.7,507.5h0.9M690.3,510.0h0.7M382.8,507.6h1.1M169.2,509.8h0.9M67.3,512.4l0.4,1.2M381.4,511.3h0.6M815.8,507.3h0.7M281.9,511.4l-0.2,0.8M105.8,512.7h0.7M262.4,509.4h0.9M641.5,508.2l-0.7,-1.0M90.4,508.6h1.1M721.2,509.6h0.7M23.4,507.3h0.8M819.0,505.6h0.8M159.2,511.5l-1.7,0.1M104.7,510.3l1.5,-0.8M667.9,506.6l1.2,0.5M455.0,510.2h1.0M592.9,508.0h0.8M482.2,510.2h0.9M705.6,509.1h0.8M94.4,508.9l-1.7,-0.0M547.1,507.0h0.7M439.4,509.0l0.1,-0.9M818.0,508.5h0.7M23.0,509.0h0.8M115.6,509.5h0.7M416.8,510.4h1.0M270.0,507.1l-1.1,-0.9M617.2,508.6h0.7M451.6,509.9h1.0M756.7,508.9l-1.9,0.1M31.0,510.1l0.5,-1.2M341.5,506.4l2.1,-0.1M715.1,505.4h1.2M255.8,510.1h0.8M760.2,505.7h1.0M634.3,508.4l0.5,0.8M42.7,511.9h1.0M403.9,509.3h0.7M664.7,508.1h0.9M49.2,511.3h0.8M226.3,506.6l-1.0,-1.0M395.5,511.3h0.9M674.7,507.2h0.8M55.2,512.7l0.2,-0.7M749.8,506.0l-0.8,0.5M628.4,505.6l1.4,0.9M47.2,507.5h1.0M599.3,506.3h1.1M672.3,510.6h1.1M425.7,508.8h1.1M161.8,508.2l0.1,0.8M661.3,511.4h0.6M425.3,509.4h1.0M405.9,506.6h0.9M816.1,508.1h1.0M515.5,509.9h0.7M174.8,509.1h1.1M86.5,507.0l1.2,0.3M222.4,508.8h1.0M622.2,511.2h0.9M323.7,507.3h1.1M190.7,507.4h0.8M825.9,509.0h1.2M185.0,509.2h1.2M721.6,507.4l-1.7,-0.7M262.6,510.2l2.0,-0.1M499.4,506.2l1.5,0.9M787.2,510.5h1.0M528.1,510.5l1.0,0.6M13.5,512.9h1.0M719.3,506.4h1.0M289.5,510.8h0.9M458.1,508.2l0.7,-0.8M461.2,509.6h0.7M353.4,509.7l-1.6,-0.3M387.0,506.2h1.1M534.9,506.2l1.5,-0.9M626.3,507.5h0.8M350.5,506.4h1.0M700.3,505.7h0.7M684.5,508.3h1.0M606.7,509.1h1.1M459.2,509.8h1.1M769.7,508.6h1.1M104.9,508.7h1.0M644.4,509.1h1.1M303.1,510.3l-1.9,0.2M23.9,510.6l-0.4,-0.7M432.8,509.8l1.2,-0.2M185.5,510.5h0.9M50.7,510.6h0.7M128.7,508.6h0.9M489.8,507.8h0.6M708.0,506.4l-1.2,0.4M475.2,506.3h1.0M309.9,506.6h0.8M794.7,506.3h0.8M667.6,510.8l0.3,0.9M450.3,509.1l0.3,-1.0M126.2,512.7l0.8,-1.1M621.1,511.3l-1.5,-0.5M508.4,506.0h0.7M719.3,505.9h1.0M136.6,507.7h1.2M806.6,505.6h0.7M659.4,509.4l-1.6,-0.0M687.8,507.6l-1.1,-0.4M32.7,509.7h1.2M50.0,509.7l-0.7,1.0M324.0,507.5h1.0M557.9,509.0h0.7M154.0,511.9h1.0M148.9,508.0h1.2M225.7,509.0h0.9M803.7,507.4h0.8M507.0,507.8h1.0M365.3,511.6l-1.5,-0.8M614.1,505.9h1.1M650.1,509.0l0.7,-1.1M197.3,512.5l1.2,0.5M81.4,509.9h0.9M299.0,509.8h0.7M11.1,512.4h1.0M69.0,507.1h1.0M766.9,506.8l1.6,-0.2M477.4,506.3h1.1M688.1,509.1h0.7M358.0,509.9h0.8M710.3,509.0l1.3,0.7M207.2,510.3l-1.4,-1.0M632.0,506.7l-0.9,-1.0M756.0,506.0l0.7,-0.6M484.3,508.9h0.8M86.7,509.9l0.3,-0.7M484.0,507.9l0.6,-0.9M226.6,506.5h0.7M641.1,508.6h0.7M115.5,507.7h0.7M277.3,509.6h0.9M422.5,506.2h1.0M27.6,510.9l2.1,-0.2M268.5,508.1h0.6M552.7,508.6h1.0M698.7,509.2h0.8M48.2,508.3l0.8,-0.7M710.7,505.4h0.8M154.7,511.5l0.3,-1.1M533.6,511.4l-1.1,-1.2M15.8,509.5h1.0M119.7,509.4h1.0M650.7,508.3l0.8,1.1M483.9,510.6l1.1,-1.1M348.4,507.3h0.9M451.6,510.1l1.3,0.2M207.7,508.6h0.6M162.9,507.8h0.8M698.9,505.3l-1.3,0.9M193.6,512.2h0.7M742.0,509.4l-2.0,0.5M748.7,510.3l1.2,-0.3M687.3,506.3h0.8M331.2,507.8h0.9M723.3,507.4h1.1M222.5,507.0h1.0M793.3,509.3h1.0M623.8,511.6h0.7M825.9,509.3h1.1M738.8,507.6h0.7M784.4,509.5h0.7M618.5,511.3l-1.2,0.2M536.7,506.0h0.9M771.5,509.8h0.9M539.7,507.2h0.6M608.0,509.1l1.3,-0.5M54.5,510.8h1.0M269.3,508.8l-1.2,-0.5M103.7,511.0h1.2M695.0,508.0h0.6M448.7,510.3h0.9M314.7,509.1h0.9M577.0,507.0l-1.8,0.1M514.0,511.3l1.9,0.1M445.3,509.8h0.9M350.3,508.6l-0.5,0.9M46.9,508.8h0.8M139.2,508.3h0.9M392.0,509.9h0.9M353.9,509.2h0.8M814.8,510.0l0.9,0.7M514.7,511.1h1.1M500.8,505.7l1.3,-0.5M673.3,506.6h1.0M328.9,511.4h0.7M474.6,510.3h1.0M192.1,509.6h1.0M339.6,510.9h1.2M298.7,507.2h1.2M575.1,507.6h1.0M595.9,506.4h1.1" stroke="#5c5c5c" stroke-width="0.85" fill="none"/><line x1="10.0" y1="505.5" x2="420.0" y2="504.4" stroke="#1a1a1a" stroke-width="0.95" /><line x1="420.0" y1="504.4" x2="826.0" y2="504.0" stroke="#1a1a1a" stroke-width="0.95" /><line x1="10.0" y1="515.2" x2="420.0" y2="513.4" stroke="#7a7a7a" stroke-width="2.4" /><line x1="420.0" y1="513.4" x2="828.0" y2="512.6" stroke="#7a7a7a" stroke-width="2.4" /><clipPath id="cp2"><rect x="10" y="326" width="1010" height="294"/></clipPath><g clip-path="url(#cp2)"><path d="M148.9,350.1 C151.3,350.5 159.2,350.7 163.4,352.2 C167.6,353.7 171.0,356.3 173.9,359.2 C176.8,362.1 178.3,365.3 180.9,369.7 C183.5,374.1 187.3,380.8 189.6,385.4 C191.9,390.0 193.5,392.9 194.9,397.6 C196.3,402.3 197.6,407.9 197.9,413.4 C198.2,418.9 197.7,425.3 196.6,430.8 C195.5,436.3 193.9,441.7 191.3,446.6 C188.7,451.6 185.0,456.9 180.9,460.5 C176.8,464.1 172.2,466.6 166.9,468.4 C161.6,470.2 151.9,471.0 148.9,471.5" fill="none" stroke="#33cc11" stroke-width="1.0" /><path d="M148.9,350.1 C146.5,350.5 138.6,350.7 134.4,352.2 C130.2,353.7 126.8,356.3 123.9,359.2 C121.0,362.1 119.5,365.3 116.9,369.7 C114.3,374.1 110.5,380.8 108.2,385.4 C105.9,390.0 104.3,392.9 102.9,397.6 C101.5,402.3 100.2,407.9 99.9,413.4 C99.6,418.9 100.1,425.3 101.2,430.8 C102.3,436.3 103.9,441.7 106.5,446.6 C109.1,451.6 112.8,456.9 116.9,460.5 C121.0,464.1 125.6,466.6 130.9,468.4 C136.2,470.2 145.9,471.0 148.9,471.5" fill="none" stroke="#33cc11" stroke-width="1.0" /><circle cx="148.9" cy="416.9" r="18.8" fill="none" stroke="#33cc11" stroke-width="1.0" /><line x1="139.4" y1="326.0" x2="138.2" y2="350.8" stroke="#33cc11" stroke-width="1.0" /><line x1="157.4" y1="326.0" x2="158.6" y2="350.6" stroke="#33cc11" stroke-width="1.0" /><path d="M127.6,372.3 L132.8,364.5 L165.1,364.5 L170.0,372.3 L163.2,370.2 L155.4,372.3 L148.9,371.1 L142.4,372.3 L135.8,370.2 Z" fill="none" stroke="#33cc11" stroke-width="1.0" /><path d="M129.6,371.3 L134.0,364.6" fill="none" stroke="#33cc11" stroke-width="1.0" /><path d="M131.4,370.8 L135.2,364.6" fill="none" stroke="#33cc11" stroke-width="1.0" /><path d="M133.2,370.4 L136.6,364.6" fill="none" stroke="#33cc11" stroke-width="1.0" /><path d="M136.6,364.6 L139.4,369.8" fill="none" stroke="#33cc11" stroke-width="1.0" /><path d="M168.2,371.3 L163.8,364.6" fill="none" stroke="#33cc11" stroke-width="1.0" /><path d="M166.4,370.8 L162.6,364.6" fill="none" stroke="#33cc11" stroke-width="1.0" /><path d="M164.6,370.4 L161.2,364.6" fill="none" stroke="#33cc11" stroke-width="1.0" /><path d="M161.2,364.6 L158.4,369.8" fill="none" stroke="#33cc11" stroke-width="1.0" /><path d="M152.9,352.2 Q158,353.6 160.7,356.6" fill="none" stroke="#33cc11" stroke-width="1.6" /><line x1="181.4" y1="368.6" x2="183.4" y2="373.6" stroke="#33cc11" stroke-width="2" /><ellipse cx="192.6" cy="412" rx="1.3" ry="15.2" fill="none" stroke="#33cc11" stroke-width="1.0" transform="rotate(-4 192.6 412)"/><rect x="178.0" y="409.6" width="20.4" height="6.2" fill="#33cc11" stroke="none" stroke-width="1" /><line x1="167.5" y1="415.8" x2="168.6" y2="409.6" stroke="#33cc11" stroke-width="0.9" /><line x1="169.2" y1="415.8" x2="170.3" y2="409.6" stroke="#33cc11" stroke-width="0.9" /><line x1="171.0" y1="415.8" x2="172.1" y2="409.6" stroke="#33cc11" stroke-width="0.9" /><line x1="172.8" y1="415.8" x2="173.8" y2="409.6" stroke="#33cc11" stroke-width="0.9" /><line x1="174.5" y1="415.8" x2="175.6" y2="409.6" stroke="#33cc11" stroke-width="0.9" /><line x1="176.2" y1="415.8" x2="177.3" y2="409.6" stroke="#33cc11" stroke-width="0.9" /><line x1="178.0" y1="415.8" x2="179.1" y2="409.6" stroke="#33cc11" stroke-width="0.9" /><rect x="179.0" y="409.6" width="0.1" height="6.2" fill="#33cc11" stroke="none" stroke-width="1" /><line x1="177.4" y1="409.6" x2="177.4" y2="415.8" stroke="#33cc11" stroke-width="1.3" /><line x1="175.8" y1="409.6" x2="175.8" y2="415.8" stroke="#33cc11" stroke-width="1.24" /><line x1="174.2" y1="409.6" x2="174.2" y2="415.8" stroke="#33cc11" stroke-width="1.18" /><line x1="172.6" y1="409.6" x2="172.6" y2="415.8" stroke="#33cc11" stroke-width="1.12" /><line x1="171.0" y1="409.6" x2="171.0" y2="415.8" stroke="#33cc11" stroke-width="1.06" /><line x1="169.4" y1="409.6" x2="169.4" y2="415.8" stroke="#33cc11" stroke-width="1.0" /><path d="M190.3,384.2 L316.2,371.0" fill="none" stroke="#33cc11" stroke-width="1.0" /><path d="M194.8,393.9 L316.2,374.6" fill="none" stroke="#33cc11" stroke-width="1.0" /><path d="M316.2,371 Q318.6,372.6 316.2,374.6" fill="none" stroke="#33cc11" stroke-width="1.0" /><path d="M198,423.5 Q198.6,430 204,431 L309,423 L478.9,409.8 L537,404.7 L625,396.8 Q660,392.6 671,391.2 Q673.4,391.6 671.6,393 Q650,396.6 625,401.8" fill="none" stroke="#33cc11" stroke-width="1.0" /><path d="M625.0,401.8 C610.4,403.8 561.4,409.8 537.2,413.5 C513.0,417.2 499.5,421.2 480.0,423.8 C460.5,426.4 446.1,426.8 420.0,429.2 C393.9,431.6 346.1,435.6 323.6,438.4 C301.1,441.2 298.9,443.3 285.0,446.0 C271.1,448.7 251.7,452.6 240.0,454.5 C228.3,456.4 221.1,456.8 215.0,457.5 C208.9,458.2 205.3,458.8 203.4,459.0" fill="none" stroke="#33cc11" stroke-width="1.0" /><path d="M203.4,459 Q196,461 190,466.5 Q184,472 178.8,473.6" fill="none" stroke="#33cc11" stroke-width="1.0" /><path d="M237.2,454.6 A5.2,5.8 0 0 0 247.6,453.7" fill="none" stroke="#33cc11" stroke-width="1.0" /><path d="M280.3,446.4 A5.2,5.8 0 0 0 290.7,445.5" fill="none" stroke="#33cc11" stroke-width="1.0" /><path d="M374.0,431.5 A5.2,5.8 0 0 0 384.4,430.6" fill="none" stroke="#33cc11" stroke-width="1.0" /><path d="M425.8,427.0 A5.2,5.8 0 0 0 436.2,426.1" fill="none" stroke="#33cc11" stroke-width="1.0" /><line x1="233.0" y1="456.5" x2="233.0" y2="495.4" stroke="#33cc11" stroke-width="1.0" /><line x1="224.0" y1="495.4" x2="242.0" y2="495.4" stroke="#33cc11" stroke-width="1.0" /><path d="M220.4,505.3 V488.2 Q220.4,485.7 222.8,485.7 H225.6 Q228.0,485.7 228.0,488.2 V505.3" fill="none" stroke="#33cc11" stroke-width="1.0"/><path d="M238.7,505.3 V488.2 Q238.7,485.7 241.1,485.7 H243.9 Q246.3,485.7 246.3,488.2 V505.3" fill="none" stroke="#33cc11" stroke-width="1.0"/><line x1="178.6" y1="473.6" x2="178.6" y2="495.4" stroke="#33cc11" stroke-width="1.0" /><line x1="170.0" y1="495.4" x2="187.0" y2="495.4" stroke="#33cc11" stroke-width="1.0" /><path d="M166.3,505.3 V488.2 Q166.3,485.7 168.7,485.7 H171.6 Q174.0,485.7 174.0,488.2 V505.3" fill="none" stroke="#33cc11" stroke-width="1.0"/><path d="M183.3,505.3 V488.2 Q183.3,485.7 185.7,485.7 H188.6 Q191.0,485.7 191.0,488.2 V505.3" fill="none" stroke="#33cc11" stroke-width="1.0"/><g transform="translate(297.8,0) scale(-1,1)"><line x1="181.4" y1="368.6" x2="183.4" y2="373.6" stroke="#33cc11" stroke-width="2" /><ellipse cx="192.6" cy="412" rx="1.3" ry="15.2" fill="none" stroke="#33cc11" stroke-width="1.0" transform="rotate(-4 192.6 412)"/><rect x="178.0" y="409.6" width="20.4" height="6.2" fill="#33cc11" stroke="none" stroke-width="1" /><line x1="167.5" y1="415.8" x2="168.6" y2="409.6" stroke="#33cc11" stroke-width="0.9" /><line x1="169.2" y1="415.8" x2="170.3" y2="409.6" stroke="#33cc11" stroke-width="0.9" /><line x1="171.0" y1="415.8" x2="172.1" y2="409.6" stroke="#33cc11" stroke-width="0.9" /><line x1="172.8" y1="415.8" x2="173.8" y2="409.6" stroke="#33cc11" stroke-width="0.9" /><line x1="174.5" y1="415.8" x2="175.6" y2="409.6" stroke="#33cc11" stroke-width="0.9" /><line x1="176.2" y1="415.8" x2="177.3" y2="409.6" stroke="#33cc11" stroke-width="0.9" /><line x1="178.0" y1="415.8" x2="179.1" y2="409.6" stroke="#33cc11" stroke-width="0.9" /><rect x="179.0" y="409.6" width="0.1" height="6.2" fill="#33cc11" stroke="none" stroke-width="1" /><line x1="177.4" y1="409.6" x2="177.4" y2="415.8" stroke="#33cc11" stroke-width="1.3" /><line x1="175.8" y1="409.6" x2="175.8" y2="415.8" stroke="#33cc11" stroke-width="1.24" /><line x1="174.2" y1="409.6" x2="174.2" y2="415.8" stroke="#33cc11" stroke-width="1.18" /><line x1="172.6" y1="409.6" x2="172.6" y2="415.8" stroke="#33cc11" stroke-width="1.12" /><line x1="171.0" y1="409.6" x2="171.0" y2="415.8" stroke="#33cc11" stroke-width="1.06" /><line x1="169.4" y1="409.6" x2="169.4" y2="415.8" stroke="#33cc11" stroke-width="1.0" /><path d="M190.3,384.2 L316.2,371.0" fill="none" stroke="#33cc11" stroke-width="1.0" /><path d="M194.8,393.9 L316.2,374.6" fill="none" stroke="#33cc11" stroke-width="1.0" /><path d="M316.2,371 Q318.6,372.6 316.2,374.6" fill="none" stroke="#33cc11" stroke-width="1.0" /><path d="M198,423.5 Q198.6,430 204,431 L309,423 L478.9,409.8 L537,404.7 L625,396.8 Q660,392.6 671,391.2 Q673.4,391.6 671.6,393 Q650,396.6 625,401.8" fill="none" stroke="#33cc11" stroke-width="1.0" /><path d="M625.0,401.8 C610.4,403.8 561.4,409.8 537.2,413.5 C513.0,417.2 499.5,421.2 480.0,423.8 C460.5,426.4 446.1,426.8 420.0,429.2 C393.9,431.6 346.1,435.6 323.6,438.4 C301.1,441.2 298.9,443.3 285.0,446.0 C271.1,448.7 251.7,452.6 240.0,454.5 C228.3,456.4 221.1,456.8 215.0,457.5 C208.9,458.2 205.3,458.8 203.4,459.0" fill="none" stroke="#33cc11" stroke-width="1.0" /><path d="M203.4,459 Q196,461 190,466.5 Q184,472 178.8,473.6" fill="none" stroke="#33cc11" stroke-width="1.0" /><path d="M237.2,454.6 A5.2,5.8 0 0 0 247.6,453.7" fill="none" stroke="#33cc11" stroke-width="1.0" /><path d="M280.3,446.4 A5.2,5.8 0 0 0 290.7,445.5" fill="none" stroke="#33cc11" stroke-width="1.0" /><path d="M374.0,431.5 A5.2,5.8 0 0 0 384.4,430.6" fill="none" stroke="#33cc11" stroke-width="1.0" /><path d="M425.8,427.0 A5.2,5.8 0 0 0 436.2,426.1" fill="none" stroke="#33cc11" stroke-width="1.0" /><line x1="233.0" y1="456.5" x2="233.0" y2="495.4" stroke="#33cc11" stroke-width="1.0" /><line x1="224.0" y1="495.4" x2="242.0" y2="495.4" stroke="#33cc11" stroke-width="1.0" /><path d="M220.4,505.3 V488.2 Q220.4,485.7 222.8,485.7 H225.6 Q228.0,485.7 228.0,488.2 V505.3" fill="none" stroke="#33cc11" stroke-width="1.0"/><path d="M238.7,505.3 V488.2 Q238.7,485.7 241.1,485.7 H243.9 Q246.3,485.7 246.3,488.2 V505.3" fill="none" stroke="#33cc11" stroke-width="1.0"/><line x1="178.6" y1="473.6" x2="178.6" y2="495.4" stroke="#33cc11" stroke-width="1.0" /><line x1="170.0" y1="495.4" x2="187.0" y2="495.4" stroke="#33cc11" stroke-width="1.0" /><path d="M166.3,505.3 V488.2 Q166.3,485.7 168.7,485.7 H171.6 Q174.0,485.7 174.0,488.2 V505.3" fill="none" stroke="#33cc11" stroke-width="1.0"/><path d="M183.3,505.3 V488.2 Q183.3,485.7 185.7,485.7 H188.6 Q191.0,485.7 191.0,488.2 V505.3" fill="none" stroke="#33cc11" stroke-width="1.0"/></g><line x1="118.8" y1="473.6" x2="179.0" y2="473.6" stroke="#33cc11" stroke-width="1.0" /><path d="M138.4,505.3 V488.2 Q138.4,485.7 140.8,485.7 H143.6 Q146.0,485.7 146.0,488.2 V505.3" fill="none" stroke="#33cc11" stroke-width="1.0"/><path d="M152.4,505.3 V488.2 Q152.4,485.7 154.8,485.7 H157.6 Q160.0,485.7 160.0,488.2 V505.3" fill="none" stroke="#33cc11" stroke-width="1.0"/><line x1="142.0" y1="495.4" x2="156.0" y2="495.4" stroke="#33cc11" stroke-width="1.0" /><line x1="148.9" y1="471.5" x2="148.9" y2="495.0" stroke="#33cc11" stroke-width="1.0" /><circle cx="332.4" cy="464.0" r="26.4" fill="none" stroke="#33cc11" stroke-width="1.0" /><circle cx="332.4" cy="464.0" r="22.0" fill="none" stroke="#33cc11" stroke-width="1.0" /><circle cx="332.4" cy="464.0" r="19.3" fill="none" stroke="#33cc11" stroke-width="1.0" /><circle cx="332.4" cy="464.0" r="6.3" fill="none" stroke="#33cc11" stroke-width="1.0" /><path d="M325.9,436.8 l0.5,-2.2 h11.5 l0.8,2.2" fill="none" stroke="#33cc11" stroke-width="1.0" /><circle cx="472.6" cy="447.6" r="26.4" fill="none" stroke="#33cc11" stroke-width="1.0" /><circle cx="472.6" cy="447.6" r="22.0" fill="none" stroke="#33cc11" stroke-width="1.0" /><circle cx="472.6" cy="447.6" r="19.3" fill="none" stroke="#33cc11" stroke-width="1.0" /><circle cx="472.6" cy="447.6" r="6.3" fill="none" stroke="#33cc11" stroke-width="1.0" /><path d="M466.1,420.4 l0.5,-2.2 h11.5 l0.8,2.2" fill="none" stroke="#33cc11" stroke-width="1.0" /></g><path d="M243.0,545.6 L754.0,520.2 L832.0,519.4 L838.0,512.0 L838.0,497.0 L845.4,497.0 L845.4,512.0 L841.0,523.0 L834.0,526.0 L754.0,527.2 L243.0,554.6 Z" fill="#fff" stroke="none" stroke-width="0" /><path d="M243.0,545.6 L754.0,520.2 L832.0,519.4" fill="none" stroke="#3558ff" stroke-width="1.2" /><path d="M243.0,554.6 L754.0,527.2 L834.0,526.0" fill="none" stroke="#3558ff" stroke-width="1.2" /><path d="M243.0,547.4 L754.0,521.6 L832.0,520.8" fill="none" stroke="#8aa4ff" stroke-width="0.7" /><path d="M243.0,552.8 L754.0,525.8 L833.0,524.8" fill="none" stroke="#8aa4ff" stroke-width="0.7" /><path d="M262.0,549.2 L754.0,523.8 L830.0,523.0" fill="none" stroke="#999" stroke-width="0.9" stroke-dasharray="8 4"/><line x1="253.0" y1="545.2" x2="253.4" y2="554.0" stroke="#3558ff" stroke-width="0.8" /><line x1="259.4" y1="544.8" x2="259.8" y2="553.6" stroke="#3558ff" stroke-width="0.8" /><line x1="753.0" y1="520.2" x2="753.4" y2="527.2" stroke="#3558ff" stroke-width="0.8" /><line x1="757.0" y1="520.2" x2="757.4" y2="527.2" stroke="#3558ff" stroke-width="0.8" /><rect x="752.6" y="522.0" width="4.4" height="3.4" fill="none" stroke="#c03030" stroke-width="0.7" /><path d="M832,519.4 Q838,519 838,512 V497.5 M834,526 Q845.4,525 845.4,512 V497.5" fill="none" stroke="#3558ff" stroke-width="1.2" /><path d="M832,520.8 Q839.4,520.4 839.4,512 V497.5 M833,524.8 Q844,524 844,512 V497.5" fill="none" stroke="#8aa4ff" stroke-width="0.7" /><line x1="826.0" y1="519.6" x2="826.3" y2="526.0" stroke="#3558ff" stroke-width="0.8" /><rect x="179.8" y="505.5" width="63.2" height="58.6" fill="#fff" stroke="none" stroke-width="1" /><path d="M179.8,505.2 H195.6 V513 H184.6 V556.3 H238.2 V513 H207.3 V505.2 H243 V564.1 H179.8 Z" fill="#7e7e7e" stroke="#6f8fff" stroke-width="0.8" /><path d="M153.9,472.6 V496.2 Q153.9,504.2 162.9,504.2 H190 Q198,504.2 201,504.6" fill="none" stroke="#f08a1e" stroke-width="0.8" /><path d="M155.8,472.6 V494.3 Q155.8,502.3 164.8,502.3 H190 Q198,502.3 201,504.6" fill="none" stroke="#f08a1e" stroke-width="0.8" /><path d="M157.7,472.6 V492.4 Q157.7,500.4 166.7,500.4 H190 Q198,500.4 201,504.6" fill="none" stroke="#f08a1e" stroke-width="0.8" /><rect x="153.2" y="469.6" width="6.1" height="3.4" fill="#111" stroke="none" stroke-width="1" /><rect x="196.3" y="486.3" width="11.1" height="2.7" fill="#3558ff" stroke="none" stroke-width="1" /><rect x="197.6" y="489.0" width="8.4" height="4.0" fill="#fff" stroke="#3558ff" stroke-width="1.0" /><rect x="199.0" y="490.0" width="5.6" height="1.4" fill="#3558ff" stroke="none" stroke-width="1" /><rect x="197.4" y="493.0" width="10.2" height="59.0" fill="#dfe5ff" stroke="#3558ff" stroke-width="1.0" /><rect x="201.8" y="493.0" width="5.2" height="59.0" fill="#3558ff" stroke="none" stroke-width="1" /><rect x="198.6" y="507.0" width="2.0" height="13.0" fill="#fff" stroke="none" stroke-width="1" /><line x1="199.6" y1="520.0" x2="199.6" y2="548.0" stroke="#3558ff" stroke-width="0.8" /><rect x="203.0" y="494.0" width="1.4" height="11.0" fill="#fff" stroke="none" stroke-width="1" /><rect x="207.6" y="513.8" width="5.0" height="2.2" fill="#3558ff" stroke="none" stroke-width="1" /><rect x="211.6" y="512.6" width="1.2" height="4.8" fill="#3558ff" stroke="none" stroke-width="1" /><path d="M197.4,548 V555.4 H219.6 V546.8 H213 Q207.6,546.4 207.6,541 Z" fill="#3558ff" stroke="#3558ff" stroke-width="0.8" /><path d="M200,548 L205,554 M203,545 L209,553 M199,551.6 H206" fill="none" stroke="#cfd8ff" stroke-width="0.7" /><rect x="219.6" y="546.8" width="6.6" height="7.6" fill="#fff" stroke="#f08a1e" stroke-width="1.1" /><line x1="221.8" y1="546.8" x2="221.8" y2="554.4" stroke="#f08a1e" stroke-width="0.7" /><line x1="224.0" y1="546.8" x2="224.0" y2="554.4" stroke="#f08a1e" stroke-width="0.7" /><rect x="226.2" y="546.4" width="16.8" height="8.4" fill="#dfe5ff" stroke="#3558ff" stroke-width="1.2" /><rect x="226.2" y="548.6" width="16.8" height="1.2" fill="#3558ff" stroke="none" stroke-width="1" /><rect x="238.0" y="545.6" width="5.0" height="10.0" fill="#3558ff" stroke="none" stroke-width="1" /><text x="10.6" y="481.8" font-size="6.4" fill="#4608ff" font-weight="normal" textLength="36.6" lengthAdjust="spacingAndGlyphs" stroke="#4608ff" stroke-width="0.35">I PQC LAYER</text><path d="M10.0,482.6 L42.0,482.6 L67.3,509.8" fill="none" stroke="#ff1a28" stroke-width="0.9" /><path d="M67.3,509.8 L63.4,507.6 L65.6,506.0 Z" fill="#ff1a28" stroke="#ff1a28" stroke-width="0.4" /><text x="118.8" y="535.4" font-size="6.4" fill="#4608ff" font-weight="normal" textLength="40.0" lengthAdjust="spacingAndGlyphs" stroke="#4608ff" stroke-width="0.35">INCOMING PCA</text><text x="118.8" y="543.2" font-size="6.4" fill="#4608ff" font-weight="normal" textLength="41.5" lengthAdjust="spacingAndGlyphs" stroke="#4608ff" stroke-width="0.35">DUCT ENTRY @</text><text x="118.8" y="551.0" font-size="6.4" fill="#4608ff" font-weight="normal" textLength="59.0" lengthAdjust="spacingAndGlyphs" stroke="#4608ff" stroke-width="0.35">PCA PIT IL= -0.865</text><path d="M118.8,536.6 L230.0,536.6 L240.6,548.2" fill="none" stroke="#ff1a28" stroke-width="0.9" /><path d="M240.6,548.2 L237.0,546.4 L239.0,544.6 Z" fill="#ff1a28" stroke="#ff1a28" stroke-width="0.4" /><text x="183.6" y="586.0" font-size="8.3" fill="#4608ff" font-weight="bold" textLength="49.0" lengthAdjust="spacingAndGlyphs" stroke="#4608ff" stroke-width="0.5">4xPCA PIT</text><line x1="148.6" y1="326.0" x2="148.6" y2="470.5" stroke="#111" stroke-width="1.2" /><line x1="148.6" y1="505.0" x2="148.6" y2="521.0" stroke="#111" stroke-width="1.0" /><line x1="242.7" y1="460.0" x2="242.7" y2="564.0" stroke="#111" stroke-width="1.0" /><line x1="296.3" y1="465.7" x2="296.3" y2="566.7" stroke="#111" stroke-width="1.1" /><line x1="349.8" y1="461.0" x2="349.8" y2="564.0" stroke="#555" stroke-width="0.9" /><line x1="754.7" y1="487.6" x2="754.7" y2="562.0" stroke="#111" stroke-width="1.1" /><text x="246.9" y="492.2" font-size="6.4" fill="#4608ff" font-weight="normal" textLength="28.5" lengthAdjust="spacingAndGlyphs" stroke="#4608ff" stroke-width="0.35">FFL=2.325</text><text x="246.9" y="500.5" font-size="6.4" fill="#4608ff" font-weight="normal" textLength="21.5" lengthAdjust="spacingAndGlyphs" stroke="#4608ff" stroke-width="0.35">(APRON)</text><line x1="221.0" y1="502.6" x2="268.0" y2="502.6" stroke="#111" stroke-width="0.6" /><path d="M230.0,503.0 L235.0,503.0 L232.5,505.3 Z" fill="none" stroke="#111" stroke-width="0.6" /><text x="320.5" y="401.4" font-size="6.4" fill="#4608ff" font-weight="normal" textLength="99.0" lengthAdjust="spacingAndGlyphs" stroke="#4608ff" stroke-width="0.35">CONTROL CABLE TO THE TECH.RM.</text><text x="320.5" y="409.4" font-size="6.4" fill="#4608ff" font-weight="normal" textLength="105.0" lengthAdjust="spacingAndGlyphs" stroke="#4608ff" stroke-width="0.35">BY OTHERS  REF RELEVANT SERVICE</text><text x="320.5" y="417.7" font-size="6.4" fill="#4608ff" font-weight="normal" textLength="34.0" lengthAdjust="spacingAndGlyphs" stroke="#4608ff" stroke-width="0.35">DWG. (TYP.)</text><path d="M425.5,402.6 L317.0,402.6 L275.7,520.4" fill="none" stroke="#ff1a28" stroke-width="0.9" /><line x1="243.0" y1="522.2" x2="274.4" y2="522.2" stroke="#ff14e6" stroke-width="1.3" /><ellipse cx="275.6" cy="520.8" rx="1.8" ry="4.4" fill="#fff" stroke="#3a12e6" stroke-width="0.8" transform="rotate(-35 275.6 520.8)"/><text x="0.0" y="0.0" font-size="6.4" fill="#4608ff" font-weight="normal" textLength="38.5" lengthAdjust="spacingAndGlyphs" stroke="#4608ff" stroke-width="0.35" transform="translate(294.6,514.8) rotate(-90)">C/L EXISTING</text><text x="0.0" y="0.0" font-size="6.4" fill="#4608ff" font-weight="normal" textLength="27.0" lengthAdjust="spacingAndGlyphs" stroke="#4608ff" stroke-width="0.35" transform="translate(303.2,514.8) rotate(-90)">FUEL LINE</text><text x="370.4" y="480.8" font-size="6.4" fill="#4608ff" font-weight="normal" textLength="46.2" lengthAdjust="spacingAndGlyphs" stroke="#4608ff" stroke-width="0.35">FUEL LINE DUCT</text><text x="370.4" y="488.6" font-size="6.4" fill="#4608ff" font-weight="normal" textLength="44.0" lengthAdjust="spacingAndGlyphs" stroke="#4608ff" stroke-width="0.35">TOP LVL=0.830</text><line x1="296.3" y1="482.4" x2="416.6" y2="482.4" stroke="#ff1a28" stroke-width="0.9" /><text x="307.3" y="524.7" font-size="6.4" fill="#4608ff" font-weight="normal" textLength="57.0" lengthAdjust="spacingAndGlyphs" stroke="#4608ff" stroke-width="0.35">IL= -0.727/-0.522</text><text x="307.3" y="533.0" font-size="6.4" fill="#4608ff" font-weight="normal" textLength="69.2" lengthAdjust="spacingAndGlyphs" stroke="#4608ff" stroke-width="0.35">(PCA DUCT) REF.LAYOUT</text><line x1="307.3" y1="534.4" x2="376.5" y2="534.4" stroke="#ff1a28" stroke-width="0.9" /><rect x="290.8" y="528.3" width="12.4" height="12.3" fill="none" stroke="#c8301e" stroke-width="0.9" /><circle cx="297.0" cy="534.4" r="3.6" fill="none" stroke="#c8301e" stroke-width="0.9" /><circle cx="297.0" cy="534.4" r="1.2" fill="none" stroke="#c8301e" stroke-width="0.6" /><text x="399.3" y="536.0" font-size="7.2" fill="#4608ff" font-weight="normal" textLength="19.2" lengthAdjust="spacingAndGlyphs" stroke="#4608ff" stroke-width="0.35">SLOPE</text><line x1="380.0" y1="537.2" x2="424.0" y2="537.2" stroke="#ff1a28" stroke-width="0.9" /><path d="M380.0,537.2 L385.0,535.8 L385.0,538.6 Z" fill="#ff1a28" stroke="#ff1a28" stroke-width="0.4" /><text x="248.8" y="536.5" font-size="6.4" fill="#4608ff" font-weight="normal" textLength="36.0" lengthAdjust="spacingAndGlyphs" stroke="#4608ff" stroke-width="0.35">IL= -0.800@</text><text x="248.8" y="544.2" font-size="6.4" fill="#4608ff" font-weight="normal" textLength="28.5" lengthAdjust="spacingAndGlyphs" stroke="#4608ff" stroke-width="0.35">PIT ENTRY</text><path d="M252.0,538.0 L288.0,538.0" fill="none" stroke="#ff1a28" stroke-width="0.8" /><line x1="252.4" y1="538.0" x2="252.4" y2="552.0" stroke="#ff1a28" stroke-width="0.8" /><path d="M252.4,552.6 L251.0,549.0 L253.8,549.0 Z" fill="#ff1a28" stroke="#ff1a28" stroke-width="0.4" /><text x="273.0" y="576.3" font-size="6.4" fill="#4608ff" font-weight="normal" textLength="54.0" lengthAdjust="spacingAndGlyphs" stroke="#4608ff" stroke-width="0.35">CUSTOM ELBOW TO</text><text x="273.0" y="584.1" font-size="6.4" fill="#4608ff" font-weight="normal" textLength="56.4" lengthAdjust="spacingAndGlyphs" stroke="#4608ff" stroke-width="0.35">ALIGN THE DUCTING</text><path d="M329.3,577.8 L273.0,577.8 L259.2,551.6" fill="none" stroke="#ff1a28" stroke-width="0.9" /><path d="M259.2,551.6 L262.2,554.6 L259.8,555.8 Z" fill="#ff1a28" stroke="#ff1a28" stroke-width="0.4" /><text x="348.0" y="572.2" font-size="6.4" fill="#4608ff" font-weight="normal" textLength="94.5" lengthAdjust="spacingAndGlyphs" stroke="#4608ff" stroke-width="0.35">FUEL LINE CROSSING ELEVATION.</text><path d="M443.0,573.6 L339.0,573.6 L299.0,538.0" fill="none" stroke="#ff1a28" stroke-width="0.9" /><path d="M299.0,538.0 L303.4,539.6 L301.4,541.6 Z" fill="#ff1a28" stroke="#ff1a28" stroke-width="0.4" /><text x="474.5" y="559.8" font-size="6.4" fill="#4608ff" font-weight="normal" textLength="50.5" lengthAdjust="spacingAndGlyphs" stroke="#4608ff" stroke-width="0.35">4xDUCT TO ALIGN</text><text x="474.5" y="568.5" font-size="6.4" fill="#4608ff" font-weight="normal" textLength="62.0" lengthAdjust="spacingAndGlyphs" stroke="#4608ff" stroke-width="0.35">AS / SITE CONDITION</text><path d="M525.5,561.4 L474.5,561.4 L443.0,541.6" fill="none" stroke="#ff1a28" stroke-width="0.9" /><text x="630.3" y="522.0" font-size="7.2" fill="#4608ff" font-weight="normal" textLength="19.5" lengthAdjust="spacingAndGlyphs" stroke="#4608ff" stroke-width="0.35">SLOPE</text><line x1="615.0" y1="523.6" x2="659.0" y2="523.6" stroke="#ff1a28" stroke-width="0.9" /><path d="M615.0,523.6 L620.0,522.2 L620.0,525.0 Z" fill="#ff1a28" stroke="#ff1a28" stroke-width="0.4" /><text x="658.4" y="494.0" font-size="6.4" fill="#4608ff" font-weight="normal" textLength="89.0" lengthAdjust="spacingAndGlyphs" stroke="#4608ff" stroke-width="0.35">IL=0.980/1.100 (REF. LAYOUT)</text><line x1="658.4" y1="495.8" x2="754.7" y2="495.8" stroke="#5a3cff" stroke-width="0.7" /><text x="743.5" y="569.2" font-size="6.4" fill="#4608ff" font-weight="normal" textLength="33.5" lengthAdjust="spacingAndGlyphs" stroke="#4608ff" stroke-width="0.35">C/L ELBOW</text><rect x="826.4" y="419.8" width="129.6" height="85.2" fill="#fff" stroke="none" stroke-width="1" /><rect x="821.0" y="419.8" width="139.0" height="3.8" fill="#7e7e7e" stroke="none" stroke-width="1" /><path d="M888.4,424.6h0.7M832.3,424.2h1.1M914.6,424.5h1.0M848.6,424.3h1.1M838.1,424.8h1.0M871.8,424.3l1.3,0.1M941.7,424.4h1.2M945.6,423.9h0.7M868.8,424.5h1.0M837.2,424.0l-1.3,0.6M903.1,424.4h0.6M918.9,425.0l-0.8,-0.8M874.9,424.6h0.7M859.4,424.2h1.1M891.5,423.8l-1.6,0.4M857.9,424.3h1.1M843.4,424.5h1.0M835.5,424.1h1.0M837.3,424.4h0.8M888.6,425.0h1.2M851.3,424.9h0.7M921.6,424.9h0.8M924.3,424.2h0.6M835.8,424.5l1.7,-0.0M833.9,424.2l0.9,-1.0M858.8,424.4h1.0M862.8,424.9l0.8,0.8M936.7,424.1l-1.9,-0.1M916.3,424.1h0.8M913.7,424.6h1.1M881.9,424.1h1.2M898.8,424.5l1.9,-0.3M881.5,424.5l0.4,-1.0M873.0,424.2l-1.1,-0.3M916.9,424.9l1.7,-0.8M895.7,424.7h0.7M873.7,424.2l-0.7,-1.0M906.3,423.9h1.0M878.7,424.1h0.8M913.9,424.0h0.8M915.2,424.7h1.2M875.2,423.8h0.9M852.7,424.6h0.7M870.6,424.9h0.8M864.8,424.0h0.7M942.2,424.4h0.7M887.2,424.5l0.0,1.0M934.4,424.8h0.9M923.1,424.3h1.0M948.7,424.5h0.8M919.6,424.2h0.8M868.2,424.0h0.9M861.5,423.9l-0.5,1.2M903.5,424.3l1.2,-0.6M846.2,424.6l-1.5,-0.7M880.9,424.5h0.8M876.9,424.3h1.1M851.5,424.0h1.2M894.3,423.9l1.4,-0.9M874.4,424.7h0.7" stroke="#5c5c5c" stroke-width="0.85" fill="none"/><line x1="826.0" y1="422.9" x2="956.0" y2="422.9" stroke="#14d2d2" stroke-width="1.0" /><line x1="831.0" y1="425.6" x2="951.4" y2="425.6" stroke="#14d2d2" stroke-width="1.1" /><line x1="831.0" y1="429.2" x2="951.4" y2="429.2" stroke="#999" stroke-width="0.8" /><rect x="821.0" y="423.6" width="9.4" height="7.4" fill="#7e7e7e" stroke="none" stroke-width="1" /><rect x="951.4" y="423.6" width="8.6" height="7.4" fill="#7e7e7e" stroke="none" stroke-width="1" /><rect x="822.6" y="425.4" width="2.4" height="4.0" fill="#fff" stroke="none" stroke-width="1" /><rect x="956.4" y="425.4" width="2.2" height="4.0" fill="#fff" stroke="none" stroke-width="1" /><rect x="826.4" y="423.0" width="3.9" height="77.0" fill="#7e7e7e" stroke="none" stroke-width="1" /><rect x="827.4" y="500.0" width="2.4" height="9.0" fill="#7e7e7e" stroke="none" stroke-width="1" /><rect x="953.0" y="423.0" width="3.0" height="77.0" fill="#7e7e7e" stroke="none" stroke-width="1" /><rect x="953.4" y="500.0" width="2.2" height="9.0" fill="#7e7e7e" stroke="none" stroke-width="1" /><line x1="831.2" y1="427.0" x2="831.2" y2="501.0" stroke="#14d2d2" stroke-width="1.2" /><line x1="951.6" y1="427.0" x2="951.6" y2="501.0" stroke="#14d2d2" stroke-width="1.2" /><rect x="828.4" y="500.3" width="126.6" height="3.9" fill="#14d2d2" stroke="none" stroke-width="1" /><line x1="828.4" y1="505.3" x2="955.0" y2="505.3" stroke="#888" stroke-width="0.9" /><rect x="828.6" y="504.0" width="3.0" height="6.6" fill="#14d2d2" stroke="none" stroke-width="1" /><rect x="950.2" y="504.0" width="3.0" height="6.6" fill="#14d2d2" stroke="none" stroke-width="1" /><line x1="956.0" y1="499.6" x2="1020.0" y2="499.6" stroke="#14d2d2" stroke-width="0.9" /><rect x="834.2" y="439.7" width="39.1" height="48.9" fill="#fff" stroke="#3a12e6" stroke-width="1.6" /><path d="M835.6,441V487.6M837.6,441V487.6M839.7,441V487.6M841.8,441V487.6M843.8,441V487.6M845.9,441V487.6M847.9,441V487.6M850.0,441V487.6M852.0,441V487.6M854.1,441V487.6M856.1,441V487.6M858.1,441V487.6M860.2,441V487.6M862.2,441V487.6M864.3,441V487.6M866.4,441V487.6M868.4,441V487.6M870.5,441V487.6M872.5,441V487.6" stroke="#6f6f86" stroke-width="1.15" fill="none"/><path d="M835.0,440.6 L872.6,456.0 L872.6,440.6 L835.0,456.0" fill="none" stroke="#777" stroke-width="0.6" /><line x1="834.2" y1="456.6" x2="873.3" y2="456.6" stroke="#3a12e6" stroke-width="1.0" /><line x1="834.2" y1="459.6" x2="851.4" y2="459.6" stroke="#3a12e6" stroke-width="0.8" /><rect x="836.0" y="461.0" width="14.0" height="26.0" fill="#a8a8a8" stroke="none" stroke-width="1" /><rect x="851.4" y="459.0" width="21.9" height="29.6" fill="none" stroke="#3a12e6" stroke-width="1.0" /><rect x="836.6" y="462.0" width="5.4" height="12.0" fill="#c9a27a" stroke="none" stroke-width="1" /><rect x="837.3" y="476.0" width="6.3" height="5.6" fill="#f08a1e" stroke="none" stroke-width="1" /><rect x="837.0" y="474.6" width="7.0" height="1.4" fill="#14d2d2" stroke="none" stroke-width="1" /><rect x="848.6" y="463.0" width="2.8" height="5.4" fill="#fff" stroke="#3a12e6" stroke-width="0.8" /><rect x="848.6" y="482.0" width="2.8" height="5.0" fill="#fff" stroke="#3a12e6" stroke-width="0.8" /><rect x="877.5" y="446.0" width="38.7" height="10.2" fill="#787878" stroke="#3a12e6" stroke-width="0.9" /><rect x="916.2" y="446.0" width="14.1" height="10.2" fill="#fff" stroke="#3a12e6" stroke-width="0.9" /><line x1="889.4" y1="446.0" x2="889.4" y2="456.2" stroke="#5a5a5a" stroke-width="0.8" /><line x1="901.4" y1="446.0" x2="901.4" y2="456.2" stroke="#5a5a5a" stroke-width="0.8" /><rect x="851.4" y="459.0" width="80.5" height="36.6" fill="none" stroke="#3a12e6" stroke-width="1.1" /><line x1="873.3" y1="459.0" x2="931.9" y2="459.0" stroke="#3a12e6" stroke-width="2.2" /><line x1="851.4" y1="494.6" x2="931.9" y2="494.6" stroke="#7b63ff" stroke-width="1.0" /><line x1="884.2" y1="442.5" x2="944.4" y2="442.5" stroke="#ff14e6" stroke-width="2.0" /><line x1="943.6" y1="442.5" x2="943.6" y2="471.4" stroke="#ff14e6" stroke-width="1.8" /><line x1="930.0" y1="445.4" x2="942.0" y2="445.4" stroke="#14d2d2" stroke-width="1.4" /><line x1="941.2" y1="446.0" x2="941.2" y2="470.0" stroke="#14d2d2" stroke-width="0.9" /><circle cx="943.4" cy="472.0" r="0.9" fill="#14d2d2" stroke="#14d2d2" stroke-width="0" /><text x="922.0" y="441.2" font-size="2.8" fill="#4608ff" font-weight="bold" stroke="#4608ff" stroke-width="0.25" textLength="9.0" lengthAdjust="spacingAndGlyphs" >A.F.F.L</text><path d="M935.0,445.6 L939.6,445.6 L937.3,448.2 Z" fill="none" stroke="#111" stroke-width="0.6" /><rect x="881.4" y="462.0" width="2.6" height="8.0" fill="#1a1a1a" stroke="none" stroke-width="1" /><line x1="884.5" y1="470.0" x2="884.5" y2="477.7" stroke="#888" stroke-width="1.2" /><circle cx="884.5" cy="478.0" r="0.8" fill="#888" stroke="#888" stroke-width="0" /><rect x="895.0" y="462.0" width="2.6" height="8.0" fill="#1a1a1a" stroke="none" stroke-width="1" /><line x1="898.1" y1="470.0" x2="898.1" y2="477.7" stroke="#888" stroke-width="1.2" /><circle cx="898.1" cy="478.0" r="0.8" fill="#888" stroke="#888" stroke-width="0" /><text x="904.5" y="481.2" font-size="3.9" fill="#ff2aa0" font-weight="normal" textLength="23.0" lengthAdjust="spacingAndGlyphs" stroke="#ff2aa0" stroke-width="0.25">PCA UNIT-1</text><text x="873.0" y="494.0" font-size="2.6" fill="#4608ff" font-weight="bold" stroke="#4608ff" stroke-width="0.23" textLength="19.0" lengthAdjust="spacingAndGlyphs" >TOC DATE FIL</text><rect x="851.6" y="496.6" width="5.8" height="3.7" fill="#fff" stroke="#111" stroke-width="0.9" /><rect x="857.8" y="496.6" width="6.0" height="3.7" fill="#fff" stroke="#111" stroke-width="0.9" /><rect x="874.4" y="496.6" width="5.6" height="3.7" fill="#fff" stroke="#111" stroke-width="0.9" /><rect x="880.4" y="496.6" width="6.2" height="3.7" fill="#fff" stroke="#111" stroke-width="0.9" /><rect x="896.4" y="496.6" width="6.0" height="3.7" fill="#fff" stroke="#111" stroke-width="0.9" /><rect x="902.8" y="496.6" width="6.0" height="3.7" fill="#fff" stroke="#111" stroke-width="0.9" /><rect x="919.6" y="496.6" width="5.8" height="3.7" fill="#fff" stroke="#111" stroke-width="0.9" /><rect x="925.8" y="496.6" width="5.8" height="3.7" fill="#fff" stroke="#111" stroke-width="0.9" /><line x1="851.6" y1="496.4" x2="931.9" y2="496.4" stroke="#111" stroke-width="1.0" /><rect x="857.0" y="495.0" width="1.4" height="1.4" fill="#14d2d2" stroke="none" stroke-width="1" /><rect x="881.0" y="495.0" width="1.4" height="1.4" fill="#14d2d2" stroke="none" stroke-width="1" /><rect x="903.0" y="495.0" width="1.4" height="1.4" fill="#14d2d2" stroke="none" stroke-width="1" /><rect x="920.0" y="495.0" width="1.4" height="1.4" fill="#14d2d2" stroke="none" stroke-width="1" /><rect x="850.4" y="494.0" width="1.4" height="3.4" fill="#e6e600" stroke="none" stroke-width="1" /><rect x="838.0" y="493.3" width="5.3" height="3.9" fill="#f08a1e" stroke="none" stroke-width="1" /><rect x="837.2" y="492.0" width="6.8" height="1.3" fill="#bbb" stroke="none" stroke-width="1" /><rect x="837.2" y="497.2" width="6.8" height="1.2" fill="#14d2d2" stroke="none" stroke-width="1" /><rect x="838.4" y="504.4" width="6.4" height="14.6" fill="#cfd8ff" stroke="#3558ff" stroke-width="0.9" /><text x="0.0" y="0.0" font-size="2.6" fill="#3a12e6" font-weight="bold" stroke="#3a12e6" stroke-width="0.23" textLength="8.0" lengthAdjust="spacingAndGlyphs" transform="translate(843,517) rotate(-90)">Ø500</text><path d="M957.0,497.8 L957.0,493.6 L1001.0,493.6" fill="none" stroke="#222" stroke-width="0.7" /><path d="M966.0,499.4 L1001.0,499.4" fill="none" stroke="#222" stroke-width="0.7" /><path d="M956.4,498.6 L960.6,498.6 L958.5,501.0 Z" fill="none" stroke="#111" stroke-width="0.6" /><path d="M963.4,499.8 L967.6,499.8 L965.5,502.2 Z" fill="none" stroke="#111" stroke-width="0.6" /><text x="762.1" y="421.8" font-size="3.5" fill="#4608ff" font-weight="bold" stroke="#4608ff" stroke-width="0.32" textLength="44.4" lengthAdjust="spacingAndGlyphs" >FRESH AIR (FA) INTAKE SAND</text><text x="762.1" y="425.9" font-size="3.5" fill="#4608ff" font-weight="bold" stroke="#4608ff" stroke-width="0.32" textLength="38.0" lengthAdjust="spacingAndGlyphs" >TRAP  LOUVRE WITH BIRD</text><text x="762.1" y="430.1" font-size="3.5" fill="#4608ff" font-weight="bold" stroke="#4608ff" stroke-width="0.32" textLength="44.4" lengthAdjust="spacingAndGlyphs" >SCREEN (FAL-2) 3500x2500H</text><text x="762.1" y="434.1" font-size="3.5" fill="#4608ff" font-weight="bold" stroke="#4608ff" stroke-width="0.32" textLength="53.0" lengthAdjust="spacingAndGlyphs" >CLEAR AREA BY MAIN CONTRACTOR.</text><text x="762.1" y="438.7" font-size="3.5" fill="#4608ff" font-weight="bold" stroke="#4608ff" stroke-width="0.32" textLength="41.0" lengthAdjust="spacingAndGlyphs" >AIR QUANTITY 16Kg/S WITH</text><text x="762.1" y="442.8" font-size="3.5" fill="#4608ff" font-weight="bold" stroke="#4608ff" stroke-width="0.32" textLength="41.0" lengthAdjust="spacingAndGlyphs" >FACE VELOCITY OF 1.5m/S.</text><text x="762.1" y="446.9" font-size="3.5" fill="#4608ff" font-weight="bold" stroke="#4608ff" stroke-width="0.32" textLength="46.5" lengthAdjust="spacingAndGlyphs" >@ PRESSURE DROP OF 50Kpa.</text><text x="762.1" y="451.4" font-size="3.5" fill="#4608ff" font-weight="bold" stroke="#4608ff" stroke-width="0.32" textLength="26.0" lengthAdjust="spacingAndGlyphs" >AIR DISTRIBUTION</text><text x="762.1" y="455.1" font-size="3.5" fill="#4608ff" font-weight="bold" stroke="#4608ff" stroke-width="0.32" textLength="29.3" lengthAdjust="spacingAndGlyphs" >BOX-2 (500X3-4)</text><text x="762.1" y="460.0" font-size="3.5" fill="#4608ff" font-weight="bold" stroke="#4608ff" stroke-width="0.32" textLength="26.0" lengthAdjust="spacingAndGlyphs" >AIR DISTRIBUTION</text><text x="762.1" y="464.8" font-size="3.5" fill="#4608ff" font-weight="bold" stroke="#4608ff" stroke-width="0.32" textLength="29.3" lengthAdjust="spacingAndGlyphs" >BOX-1 (500X3-4)</text><text x="762.1" y="469.8" font-size="3.5" fill="#4608ff" font-weight="bold" stroke="#4608ff" stroke-width="0.32" textLength="32.7" lengthAdjust="spacingAndGlyphs" >AIR DISTRIBUTION BOX</text><text x="762.1" y="474.0" font-size="3.5" fill="#4608ff" font-weight="bold" stroke="#4608ff" stroke-width="0.32" textLength="30.0" lengthAdjust="spacingAndGlyphs" >SUPPORT - TYPICAL.</text><text x="762.1" y="478.9" font-size="3.5" fill="#4608ff" font-weight="bold" stroke="#4608ff" stroke-width="0.32" textLength="34.0" lengthAdjust="spacingAndGlyphs" >PCA UNIT CONDENSATE</text><text x="762.1" y="482.6" font-size="3.5" fill="#4608ff" font-weight="bold" stroke="#4608ff" stroke-width="0.32" textLength="37.5" lengthAdjust="spacingAndGlyphs" >DRAIN TO BE CONNECTED</text><text x="762.1" y="486.9" font-size="3.5" fill="#4608ff" font-weight="bold" stroke="#4608ff" stroke-width="0.32" textLength="42.4" lengthAdjust="spacingAndGlyphs" >WITH NEAREST FLOOR DRAIN</text><text x="762.1" y="491.1" font-size="3.5" fill="#4608ff" font-weight="bold" stroke="#4608ff" stroke-width="0.32" textLength="42.4" lengthAdjust="spacingAndGlyphs" >BY MAIN CONTRACTOR (TYP)</text><text x="762.1" y="496.8" font-size="3.5" fill="#4608ff" font-weight="bold" stroke="#4608ff" stroke-width="0.32" textLength="29.7" lengthAdjust="spacingAndGlyphs" >Ø500mm GI DUCTED</text><text x="762.1" y="500.5" font-size="3.5" fill="#4608ff" font-weight="bold" stroke="#4608ff" stroke-width="0.32" textLength="16.3" lengthAdjust="spacingAndGlyphs" >PCA RISER.</text><path d="M762.1,422.7 L821.6,422.7" fill="none" stroke="#ff1a28" stroke-width="0.85" /><path d="M762.1,452.4 L819.1,452.4 L828.0,466.0 L838.0,468.0" fill="none" stroke="#ff1a28" stroke-width="0.85" /><path d="M762.1,461.0 L812.1,461.0 L826.0,474.0 L838.0,478.0" fill="none" stroke="#ff1a28" stroke-width="0.85" /><path d="M762.1,471.0 L818.1,471.0 L827.0,482.0 L837.0,487.0" fill="none" stroke="#ff1a28" stroke-width="0.85" /><path d="M762.1,479.9 L812.1,479.9 L827.0,490.0 L850.0,496.0" fill="none" stroke="#ff1a28" stroke-width="0.85" /><path d="M762.1,497.8 L806.1,497.8 L828.0,518.0" fill="none" stroke="#ff1a28" stroke-width="0.85" /><path d="M826.0,425.0 L838.0,452.0" fill="none" stroke="#ff1a28" stroke-width="0.85" /><text x="827.4" y="413.9" font-size="3.5" fill="#4608ff" font-weight="bold" stroke="#4608ff" stroke-width="0.32" textLength="27.0" lengthAdjust="spacingAndGlyphs" >FRESH AIR INTAKE</text><text x="827.4" y="417.6" font-size="3.5" fill="#4608ff" font-weight="bold" stroke="#4608ff" stroke-width="0.32" textLength="20.5" lengthAdjust="spacingAndGlyphs" >DUCT 750x300</text><path d="M827.4,414.9 L869.0,414.9 L880.6,445.0" fill="none" stroke="#ff1a28" stroke-width="0.85" /><text x="895.5" y="412.8" font-size="3.5" fill="#4608ff" font-weight="bold" stroke="#4608ff" stroke-width="0.32" textLength="28.0" lengthAdjust="spacingAndGlyphs" >SLAB WATER (REF)</text><path d="M923.6,413.9 L896.0,413.9 L888.5,425.6" fill="none" stroke="#ff1a28" stroke-width="0.85" /><text x="970.6" y="431.6" font-size="3.5" fill="#4608ff" font-weight="bold" stroke="#4608ff" stroke-width="0.32" textLength="41.5" lengthAdjust="spacingAndGlyphs" >Ø200mm CHWS/CHWR PIPING</text><text x="970.6" y="435.4" font-size="3.5" fill="#4608ff" font-weight="bold" stroke="#4608ff" stroke-width="0.32" textLength="42.0" lengthAdjust="spacingAndGlyphs" >FROM MAIN SUPPLY  BY MAIN</text><text x="970.6" y="439.2" font-size="3.5" fill="#4608ff" font-weight="bold" stroke="#4608ff" stroke-width="0.32" textLength="42.5" lengthAdjust="spacingAndGlyphs" >CONTRACTOR UPTO PCA UNIT</text><text x="970.6" y="443.0" font-size="3.5" fill="#4608ff" font-weight="bold" stroke="#4608ff" stroke-width="0.32" textLength="41.5" lengthAdjust="spacingAndGlyphs" >Ø1/2DETAIL REFER DWG No.</text><text x="970.6" y="446.8" font-size="3.5" fill="#4608ff" font-weight="bold" stroke="#4608ff" stroke-width="0.32" textLength="39.5" lengthAdjust="spacingAndGlyphs" >C1088-CAC-A2H-SEC-001</text><text x="970.6" y="452.6" font-size="3.5" fill="#4608ff" font-weight="bold" stroke="#4608ff" stroke-width="0.32" textLength="41.5" lengthAdjust="spacingAndGlyphs" >ACCESS DOOR (600X600MM)</text><text x="970.6" y="456.8" font-size="3.5" fill="#4608ff" font-weight="bold" stroke="#4608ff" stroke-width="0.32" textLength="42.5" lengthAdjust="spacingAndGlyphs" >IN FA DUCT SIDE WALL FOR</text><text x="970.6" y="460.8" font-size="3.5" fill="#4608ff" font-weight="bold" stroke="#4608ff" stroke-width="0.32" textLength="31.0" lengthAdjust="spacingAndGlyphs" >FA FILTER CLEANING.</text><text x="970.6" y="466.6" font-size="3.5" fill="#4608ff" font-weight="bold" stroke="#4608ff" stroke-width="0.32" textLength="12.0" lengthAdjust="spacingAndGlyphs" >CODE-F</text><text x="970.6" y="470.6" font-size="3.5" fill="#4608ff" font-weight="bold" stroke="#4608ff" stroke-width="0.32" textLength="25.5" lengthAdjust="spacingAndGlyphs" >TECHNICAL ROOM</text><text x="970.6" y="476.6" font-size="3.5" fill="#4608ff" font-weight="bold" stroke="#4608ff" stroke-width="0.32" textLength="27.0" lengthAdjust="spacingAndGlyphs" >150x50x5X5X200mm</text><text x="970.6" y="480.6" font-size="3.5" fill="#4608ff" font-weight="bold" stroke="#4608ff" stroke-width="0.32" textLength="43.0" lengthAdjust="spacingAndGlyphs" >STEEL BEAM FOR PCA UNIT.</text><text x="970.6" y="484.8" font-size="3.5" fill="#4608ff" font-weight="bold" stroke="#4608ff" stroke-width="0.32" textLength="32.0" lengthAdjust="spacingAndGlyphs" >BY MAIN CONTRACTOR.</text><text x="971.6" y="493.0" font-size="3.4" fill="#4608ff" font-weight="bold" stroke="#4608ff" stroke-width="0.31" textLength="26.0" lengthAdjust="spacingAndGlyphs" >+0.00 (-0.000 FFL)</text><text x="971.6" y="499.0" font-size="3.4" fill="#4608ff" font-weight="bold" stroke="#4608ff" stroke-width="0.31" textLength="26.0" lengthAdjust="spacingAndGlyphs" >+0.00 (-0.300 SSL)</text><path d="M1011.6,432.6 L970.6,432.6 L921.0,432.6 L899.0,442.0" fill="none" stroke="#ff1a28" stroke-width="0.85" /><path d="M1011.6,453.7 L970.6,453.7 L932.0,453.7 L916.0,449.4" fill="none" stroke="#ff1a28" stroke-width="0.85" /><path d="M982.6,467.6 L970.6,467.6 L940.0,467.6" fill="none" stroke="#ff1a28" stroke-width="0.85" /><path d="M997.6,477.6 L970.6,477.6 L943.0,477.6 L925.0,498.0" fill="none" stroke="#ff1a28" stroke-width="0.85" /><path d="M921.0,432.6 L918.0,445.0" fill="none" stroke="#ff1a28" stroke-width="0.85" /><path d="M940.0,467.6 L936.0,467.6" fill="none" stroke="#ff1a28" stroke-width="1.4" /><text x="858.0" y="527.2" font-size="3.4" fill="#5a3cff" font-weight="normal" textLength="62.5" lengthAdjust="spacingAndGlyphs" >4PCA UNIT IN ROOMS -VIEW ELEVATION</text><text x="864.0" y="531.6" font-size="3.4" fill="#5a3cff" font-weight="normal" textLength="50.0" lengthAdjust="spacingAndGlyphs" >(FOR CODE -F TECHNICAL ROOM)</text><line x1="858.0" y1="528.1" x2="920.5" y2="528.1" stroke="#5a3cff" stroke-width="0.5" /><line x1="864.0" y1="532.5" x2="914.0" y2="532.5" stroke="#5a3cff" stroke-width="0.5" /></g><g id="panel3"><clipPath id="cp3"><rect x="10" y="633.5" width="1010" height="164"/></clipPath><g clip-path="url(#cp3)"><line x1="10.0" y1="657.6" x2="335.0" y2="657.6" stroke="#8a8a8a" stroke-width="1.6" /><line x1="360.0" y1="657.6" x2="992.0" y2="657.6" stroke="#8a8a8a" stroke-width="1.6" /><line x1="10.0" y1="768.2" x2="1005.0" y2="768.2" stroke="#8a8a8a" stroke-width="1.2" /><path d="M11.3,653 H21.200000000000003 V742 H16.700000000000003 V735 L11.3,705 Z" fill="#a4a4a4" stroke="#8a8a8a" stroke-width="0.8"/><path d="M12.9,655 V700 M14.9,655 V712 M16.9,655 V736 M18.9,655 V740" stroke="#8e8e8e" stroke-width="0.6" fill="none" stroke-dasharray="0.8 0.8"/><path d="M119.2,653 H129.1 V742 H124.60000000000001 V735 L119.2,705 Z" fill="#a4a4a4" stroke="#8a8a8a" stroke-width="0.8"/><path d="M120.8,655 V700 M122.8,655 V712 M124.8,655 V736 M126.8,655 V740" stroke="#8e8e8e" stroke-width="0.6" fill="none" stroke-dasharray="0.8 0.8"/><path d="M226.2,653 H236.1 V742 H231.6 V735 L226.2,705 Z" fill="#a4a4a4" stroke="#8a8a8a" stroke-width="0.8"/><path d="M227.79999999999998,655 V700 M229.79999999999998,655 V712 M231.79999999999998,655 V736 M233.79999999999998,655 V740" stroke="#8e8e8e" stroke-width="0.6" fill="none" stroke-dasharray="0.8 0.8"/><path d="M456.0,653 H465.9 V742 H461.4 V735 L456.0,705 Z" fill="#a4a4a4" stroke="#8a8a8a" stroke-width="0.8"/><path d="M457.6,655 V700 M459.6,655 V712 M461.6,655 V736 M463.6,655 V740" stroke="#8e8e8e" stroke-width="0.6" fill="none" stroke-dasharray="0.8 0.8"/><path d="M563.2,653 H573.1 V742 H568.6 V735 L563.2,705 Z" fill="#a4a4a4" stroke="#8a8a8a" stroke-width="0.8"/><path d="M564.8000000000001,655 V700 M566.8000000000001,655 V712 M568.8000000000001,655 V736 M570.8000000000001,655 V740" stroke="#8e8e8e" stroke-width="0.6" fill="none" stroke-dasharray="0.8 0.8"/><path d="M670.3,653 H680.1999999999999 V742 H675.6999999999999 V735 L670.3,705 Z" fill="#a4a4a4" stroke="#8a8a8a" stroke-width="0.8"/><path d="M671.9,655 V700 M673.9,655 V712 M675.9,655 V736 M677.9,655 V740" stroke="#8e8e8e" stroke-width="0.6" fill="none" stroke-dasharray="0.8 0.8"/><path d="M778.0,653 H787.9 V742 H783.4 V735 L778.0,705 Z" fill="#a4a4a4" stroke="#8a8a8a" stroke-width="0.8"/><path d="M779.6,655 V700 M781.6,655 V712 M783.6,655 V736 M785.6,655 V740" stroke="#8e8e8e" stroke-width="0.6" fill="none" stroke-dasharray="0.8 0.8"/><path d="M885.3,653 H895.1999999999999 V742 H890.6999999999999 V735 L885.3,705 Z" fill="#a4a4a4" stroke="#8a8a8a" stroke-width="0.8"/><path d="M886.9,655 V700 M888.9,655 V712 M890.9,655 V736 M892.9,655 V740" stroke="#8e8e8e" stroke-width="0.6" fill="none" stroke-dasharray="0.8 0.8"/><rect x="15.2" y="656.0" width="4.4" height="2.9" fill="#5a14ff" stroke="none" stroke-width="1" /><rect x="118.0" y="656.0" width="4.4" height="2.9" fill="#5a14ff" stroke="none" stroke-width="1" /><rect x="220.0" y="656.0" width="4.4" height="2.9" fill="#5a14ff" stroke="none" stroke-width="1" /><rect x="322.0" y="656.0" width="4.4" height="2.9" fill="#5a14ff" stroke="none" stroke-width="1" /><rect x="424.0" y="656.0" width="4.4" height="2.9" fill="#5a14ff" stroke="none" stroke-width="1" /><rect x="526.0" y="656.0" width="4.4" height="2.9" fill="#5a14ff" stroke="none" stroke-width="1" /><rect x="629.0" y="656.0" width="4.4" height="2.9" fill="#5a14ff" stroke="none" stroke-width="1" /><rect x="731.0" y="656.0" width="4.4" height="2.9" fill="#5a14ff" stroke="none" stroke-width="1" /><rect x="833.6" y="656.0" width="4.4" height="2.9" fill="#5a14ff" stroke="none" stroke-width="1" /><use href="#mout" x="62.8"/><use href="#mout" x="170.2"/><use href="#mout" x="277.6"/><use href="#mout" x="403.0"/><use href="#mout" x="507.2"/><use href="#mout" x="614.6"/><use href="#mout" x="721.8"/><use href="#mout" x="829.3"/><use href="#mout" x="936.5"/><use href="#mod" x="62.8"/><use href="#mod" x="170.2"/><use href="#mod" x="277.6"/><use href="#mod" x="403.0"/><use href="#mod" x="507.2"/><use href="#mod" x="614.6"/><use href="#mod" x="721.8"/><use href="#mod" x="829.3"/><use href="#mod" x="936.5"/><text x="36.2" y="662.6" font-size="2.4" fill="#ff5a7a" font-weight="normal" textLength="5.2" lengthAdjust="spacingAndGlyphs" >ST01L</text><text x="87.4" y="662.6" font-size="2.4" fill="#ff5a7a" font-weight="normal" textLength="5.2" lengthAdjust="spacingAndGlyphs" >ST01R</text><text x="143.6" y="662.6" font-size="2.4" fill="#ff5a7a" font-weight="normal" textLength="5.2" lengthAdjust="spacingAndGlyphs" >ST02L</text><text x="194.8" y="662.6" font-size="2.4" fill="#ff5a7a" font-weight="normal" textLength="5.2" lengthAdjust="spacingAndGlyphs" >ST02R</text><text x="251.0" y="662.6" font-size="2.4" fill="#ff5a7a" font-weight="normal" textLength="5.2" lengthAdjust="spacingAndGlyphs" >ST03L</text><text x="302.2" y="662.6" font-size="2.4" fill="#ff5a7a" font-weight="normal" textLength="5.2" lengthAdjust="spacingAndGlyphs" >ST03R</text><text x="376.4" y="662.6" font-size="2.4" fill="#ff5a7a" font-weight="normal" textLength="5.2" lengthAdjust="spacingAndGlyphs" >ST04L</text><text x="427.6" y="662.6" font-size="2.4" fill="#ff5a7a" font-weight="normal" textLength="5.2" lengthAdjust="spacingAndGlyphs" >ST04R</text><text x="480.6" y="662.6" font-size="2.4" fill="#ff5a7a" font-weight="normal" textLength="5.2" lengthAdjust="spacingAndGlyphs" >ST05L</text><text x="531.8" y="662.6" font-size="2.4" fill="#ff5a7a" font-weight="normal" textLength="5.2" lengthAdjust="spacingAndGlyphs" >ST05R</text><text x="588.0" y="662.6" font-size="2.4" fill="#ff5a7a" font-weight="normal" textLength="5.2" lengthAdjust="spacingAndGlyphs" >ST06L</text><text x="639.2" y="662.6" font-size="2.4" fill="#ff5a7a" font-weight="normal" textLength="5.2" lengthAdjust="spacingAndGlyphs" >ST06R</text><text x="695.2" y="662.6" font-size="2.4" fill="#ff5a7a" font-weight="normal" textLength="5.2" lengthAdjust="spacingAndGlyphs" >ST07L</text><text x="746.4" y="662.6" font-size="2.4" fill="#ff5a7a" font-weight="normal" textLength="5.2" lengthAdjust="spacingAndGlyphs" >ST07R</text><text x="802.7" y="662.6" font-size="2.4" fill="#ff5a7a" font-weight="normal" textLength="5.2" lengthAdjust="spacingAndGlyphs" >ST08L</text><text x="853.9" y="662.6" font-size="2.4" fill="#ff5a7a" font-weight="normal" textLength="5.2" lengthAdjust="spacingAndGlyphs" >ST08R</text><text x="909.9" y="662.6" font-size="2.4" fill="#ff5a7a" font-weight="normal" textLength="5.2" lengthAdjust="spacingAndGlyphs" >ST09L</text><text x="961.1" y="662.6" font-size="2.4" fill="#ff5a7a" font-weight="normal" textLength="5.2" lengthAdjust="spacingAndGlyphs" >ST09R</text><line x1="158.7" y1="650.0" x2="158.7" y2="745.0" stroke="#111" stroke-width="1.0" /><path d="M333.1,655.7 V744.6 Q337,742 338.6,720 Q341,690 339.4,668 Q338.6,658 335.6,655.7 Z" fill="#a4a4a4" stroke="#8a8a8a" stroke-width="0.8" /><path d="M358.9,655.7 V744.6 Q355,742 353.4,720 Q351,690 352.6,668 Q353.4,658 356.4,655.7 Z" fill="#a4a4a4" stroke="#8a8a8a" stroke-width="0.8" /><line x1="345.8" y1="657.0" x2="345.8" y2="768.0" stroke="#8a8a8a" stroke-width="1.0" /><line x1="358.9" y1="700.0" x2="358.9" y2="768.6" stroke="#111" stroke-width="1.6" /><line x1="333.1" y1="745.0" x2="333.1" y2="768.0" stroke="#8a8a8a" stroke-width="1.0" /><path d="M339.8,768 V752 Q339.8,746 335,744.6 M352,768 V752 Q352,746 356.4,744.6" fill="none" stroke="#8a8a8a" stroke-width="0.9" /><rect x="354.2" y="700.3" width="7.1" height="6.1" fill="#fff" stroke="#e8101a" stroke-width="1.6" /><rect x="354.2" y="712.8" width="7.1" height="6.0" fill="#fff" stroke="#e8101a" stroke-width="1.6" /><line x1="357.7" y1="700.3" x2="357.7" y2="718.8" stroke="#e8101a" stroke-width="1.2" /><rect x="340.2" y="704.3" width="6.0" height="20.3" fill="none" stroke="#e8101a" stroke-width="0.9" /><circle cx="352.0" cy="694.0" r="2.2" fill="none" stroke="#e8101a" stroke-width="0.8" /><circle cx="344.0" cy="722.8" r="1.6" fill="none" stroke="#e8101a" stroke-width="0.8" /><line x1="347.4" y1="708.0" x2="347.4" y2="722.0" stroke="#3d44ff" stroke-width="1.2" stroke-dasharray="3 2"/><line x1="389.4" y1="760.6" x2="420.0" y2="751.6" stroke="#111" stroke-width="1.4" /><rect x="356.5" y="768.0" width="4.0" height="3.0" fill="#8a8a8a" stroke="none" stroke-width="1" /><line x1="617.4" y1="728.4" x2="617.4" y2="775.3" stroke="#e8101a" stroke-width="1.3" /><line x1="617.4" y1="728.4" x2="670.0" y2="726.4" stroke="#e8101a" stroke-width="1.3" /><circle cx="869.3" cy="702.7" r="11.4" fill="none" stroke="#a01018" stroke-width="1.0" /><circle cx="815.3" cy="745.6" r="11.4" fill="none" stroke="#a01018" stroke-width="1.0" /><circle cx="923.0" cy="745.6" r="11.0" fill="none" stroke="#14d2d2" stroke-width="1.1" /><circle cx="67.4" cy="721.4" r="11.0" fill="none" stroke="#14d2d2" stroke-width="1.2" /><circle cx="67.4" cy="721.4" r="9.4" fill="none" stroke="#14d2d2" stroke-width="1.0" /><path d="M71,721 l3,-2 l2,3 l3,-2.4 l2,3 l3,-1.6 l2,2.6 M72,724.6 h12 M75,719 v6 M80,719.4 v5" fill="none" stroke="#e8101a" stroke-width="1.4" /><rect x="86.0" y="723.4" width="13.0" height="4.0" fill="#5a14ff" stroke="none" stroke-width="1" /><rect x="67.4" y="737.0" width="5.9" height="5.0" fill="#ff5a7a" stroke="none" stroke-width="1" /><circle cx="388.5" cy="746.0" r="11.2" fill="none" stroke="#14d2d2" stroke-width="1.1" /><circle cx="492.7" cy="746.0" r="11.2" fill="none" stroke="#14d2d2" stroke-width="1.1" /><circle cx="600.1" cy="746.0" r="11.2" fill="none" stroke="#14d2d2" stroke-width="1.1" /><circle cx="707.3" cy="746.0" r="11.2" fill="none" stroke="#14d2d2" stroke-width="1.1" /><line x1="937.0" y1="657.0" x2="987.0" y2="657.0" stroke="#10e0e8" stroke-width="2.2" /><path d="M992.8,655.7 V744 Q999,742 1001.4,720 Q1004,690 1001,668 Q999.4,658 995.6,655.7 Z" fill="#a4a4a4" stroke="#8a8a8a" stroke-width="0.8" /><line x1="1010.0" y1="652.6" x2="1010.0" y2="768.0" stroke="#8a8a8a" stroke-width="1.0" /><line x1="1015.9" y1="652.6" x2="1015.9" y2="768.0" stroke="#8a8a8a" stroke-width="1.0" /><line x1="985.0" y1="652.8" x2="1020.0" y2="652.8" stroke="#8a8a8a" stroke-width="1.0" /><path d="M1020,668 Q1013,690 1013,715 Q1013,745 1020,765" fill="none" stroke="#8a8a8a" stroke-width="0.9" /><rect x="995.6" y="700.0" width="7.4" height="7.0" fill="#fff" stroke="#e8101a" stroke-width="1.4" /><rect x="995.6" y="707.0" width="7.4" height="18.0" fill="#fff" stroke="#e8101a" stroke-width="1.4" /><rect x="997.6" y="710.0" width="1.8" height="6.0" fill="#111" stroke="none" stroke-width="1" /><line x1="1003.0" y1="700.0" x2="1020.0" y2="697.0" stroke="#e8101a" stroke-width="1.0" /><line x1="1006.0" y1="686.0" x2="1020.0" y2="686.0" stroke="#e8101a" stroke-width="0.9" /><line x1="1001.0" y1="735.0" x2="1012.0" y2="735.0" stroke="#e8101a" stroke-width="0.9" /><line x1="1006.0" y1="725.0" x2="1006.0" y2="741.0" stroke="#e8101a" stroke-width="0.9" /><circle cx="1008.6" cy="731.6" r="1.6" fill="none" stroke="#e8101a" stroke-width="0.8" /><rect x="1013.0" y="697.0" width="3.0" height="3.0" fill="#22dd44" stroke="none" stroke-width="1" /><path d="M1006,716 q3,-2 4,2 l2,6" fill="none" stroke="#222" stroke-width="0.9" /><line x1="10.0" y1="700.2" x2="1020.0" y2="700.2" stroke="#300" stroke-width="0.8" /><line x1="10.0" y1="701.3" x2="1020.0" y2="701.3" stroke="#c8000c" stroke-width="1.6" /><line x1="10.0" y1="717.1" x2="1005.0" y2="717.1" stroke="#e8101a" stroke-width="2.5" /><line x1="10.0" y1="725.9" x2="1020.0" y2="725.9" stroke="#ff14e6" stroke-width="0.75" /></g></g><path d="M9,0V311H1021V0" fill="none" stroke="#000" stroke-width="2"/><rect x="9" y="325" width="1012" height="296" fill="none" stroke="#000" stroke-width="2"/><rect x="9" y="632.5" width="1012" height="165.5" fill="none" stroke="#000" stroke-width="2"/><rect width="1024" height="1" fill="#e6e6e6"/></svg></body></html>
